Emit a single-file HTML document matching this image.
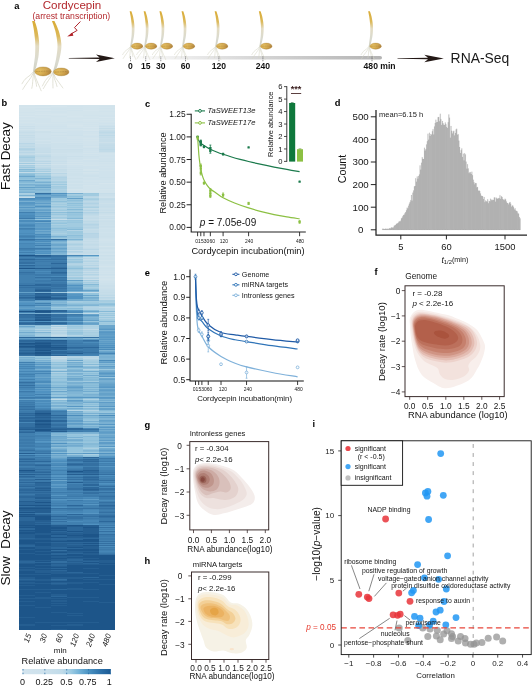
<!DOCTYPE html>
<html><head><meta charset="utf-8"><title>Figure</title>
<style>
html,body{margin:0;padding:0;background:#fff;}
body{width:532px;height:685px;overflow:hidden;}
svg{display:block;font-family:"Liberation Sans",Arial,Helvetica,sans-serif;}
</style></head><body>
<svg width="532" height="685" viewBox="0 0 532 685">
<rect width="532" height="685" fill="#fff"/>
<g shape-rendering="crispEdges">
<path fill="#d5e5ed" d="M51.33 106h15.97v1h-15.97zM19.4 107h15.97v1h-15.97zM35.37 107h15.97v1h-15.97zM35.37 110h15.97v1h-15.97zM83.27 110h15.97v1h-15.97zM35.37 114h15.97v1h-15.97zM51.33 114h15.97v1h-15.97zM19.4 116h15.97v1h-15.97zM67.3 116h15.97v1h-15.97zM99.23 117h15.97v1h-15.97zM83.27 119h15.97v1h-15.97zM67.3 125h15.97v1h-15.97zM83.27 127h15.97v1h-15.97zM83.27 130h15.97v1h-15.97zM99.23 183h15.97v1h-15.97z"/>
<path fill="#d3e4ec" d="M19.4 105h15.97v1h-15.97zM51.33 105h15.97v1h-15.97zM67.3 105h15.97v1h-15.97zM83.27 105h15.97v1h-15.97zM99.23 105h15.97v1h-15.97zM19.4 106h15.97v1h-15.97zM35.37 106h15.97v1h-15.97zM83.27 106h15.97v1h-15.97zM51.33 107h15.97v1h-15.97zM67.3 107h15.97v1h-15.97zM83.27 107h15.97v1h-15.97zM99.23 107h15.97v1h-15.97zM19.4 108h15.97v1h-15.97zM83.27 108h15.97v1h-15.97zM19.4 109h15.97v1h-15.97zM35.37 109h15.97v1h-15.97zM67.3 109h15.97v1h-15.97zM83.27 109h15.97v1h-15.97zM99.23 109h15.97v1h-15.97zM19.4 110h15.97v1h-15.97zM51.33 110h15.97v1h-15.97zM99.23 110h15.97v1h-15.97zM19.4 111h15.97v1h-15.97zM67.3 111h15.97v1h-15.97zM83.27 111h15.97v1h-15.97zM35.37 112h15.97v1h-15.97zM67.3 112h15.97v1h-15.97zM83.27 112h15.97v1h-15.97zM99.23 112h15.97v1h-15.97zM19.4 113h15.97v1h-15.97zM35.37 113h15.97v1h-15.97zM51.33 113h15.97v1h-15.97zM67.3 113h15.97v1h-15.97zM83.27 113h15.97v1h-15.97zM99.23 113h15.97v1h-15.97zM19.4 114h15.97v1h-15.97zM67.3 114h15.97v1h-15.97zM83.27 114h15.97v1h-15.97zM99.23 114h15.97v1h-15.97zM51.33 115h15.97v1h-15.97zM67.3 115h15.97v1h-15.97zM35.37 116h15.97v1h-15.97zM83.27 116h15.97v1h-15.97zM35.37 117h15.97v1h-15.97zM51.33 117h15.97v1h-15.97zM67.3 117h15.97v1h-15.97zM83.27 117h15.97v1h-15.97zM51.33 118h15.97v1h-15.97zM19.4 119h15.97v1h-15.97zM51.33 119h15.97v1h-15.97zM67.3 119h15.97v1h-15.97zM99.23 119h15.97v1h-15.97zM51.33 120h15.97v1h-15.97zM67.3 120h15.97v1h-15.97zM83.27 120h15.97v1h-15.97zM51.33 121h15.97v1h-15.97zM83.27 121h15.97v1h-15.97zM99.23 121h15.97v1h-15.97zM19.4 122h15.97v1h-15.97zM35.37 123h15.97v1h-15.97zM51.33 123h15.97v1h-15.97zM67.3 123h15.97v1h-15.97zM83.27 123h15.97v1h-15.97zM67.3 124h15.97v1h-15.97zM83.27 125h15.97v1h-15.97zM67.3 126h15.97v1h-15.97zM67.3 127h15.97v1h-15.97zM35.37 129h15.97v1h-15.97zM51.33 129h15.97v1h-15.97zM67.3 129h15.97v1h-15.97zM83.27 129h15.97v1h-15.97zM35.37 130h15.97v1h-15.97zM83.27 134h15.97v1h-15.97zM83.27 138h15.97v1h-15.97zM83.27 140h15.97v1h-15.97zM83.27 146h15.97v1h-15.97zM83.27 153h15.97v1h-15.97zM83.27 159h15.97v1h-15.97zM67.3 162h15.97v1h-15.97zM67.3 164h15.97v1h-15.97zM83.27 165h15.97v1h-15.97zM83.27 169h15.97v1h-15.97zM83.27 170h15.97v1h-15.97zM83.27 172h15.97v1h-15.97zM83.27 185h15.97v1h-15.97zM67.3 189h15.97v1h-15.97zM99.23 189h15.97v1h-15.97zM83.27 190h15.97v1h-15.97zM83.27 191h15.97v1h-15.97zM99.23 246h15.97v1h-15.97zM99.23 266h15.97v1h-15.97zM99.23 276h15.97v1h-15.97zM99.23 279h15.97v1h-15.97z"/>
<path fill="#d1e3ec" d="M35.37 105h15.97v1h-15.97zM67.3 106h15.97v1h-15.97zM99.23 106h15.97v1h-15.97zM35.37 108h15.97v1h-15.97zM51.33 108h15.97v1h-15.97zM67.3 108h15.97v1h-15.97zM99.23 108h15.97v1h-15.97zM51.33 109h15.97v1h-15.97zM67.3 110h15.97v1h-15.97zM35.37 111h15.97v1h-15.97zM51.33 111h15.97v1h-15.97zM99.23 111h15.97v1h-15.97zM19.4 112h15.97v1h-15.97zM51.33 112h15.97v1h-15.97zM19.4 115h15.97v1h-15.97zM35.37 115h15.97v1h-15.97zM83.27 115h15.97v1h-15.97zM99.23 115h15.97v1h-15.97zM51.33 116h15.97v1h-15.97zM99.23 116h15.97v1h-15.97zM19.4 117h15.97v1h-15.97zM19.4 118h15.97v1h-15.97zM35.37 118h15.97v1h-15.97zM67.3 118h15.97v1h-15.97zM83.27 118h15.97v1h-15.97zM99.23 118h15.97v1h-15.97zM35.37 119h15.97v1h-15.97zM19.4 120h15.97v1h-15.97zM35.37 120h15.97v1h-15.97zM99.23 120h15.97v1h-15.97zM19.4 121h15.97v1h-15.97zM35.37 121h15.97v1h-15.97zM67.3 121h15.97v1h-15.97zM35.37 122h15.97v1h-15.97zM51.33 122h15.97v1h-15.97zM67.3 122h15.97v1h-15.97zM83.27 122h15.97v1h-15.97zM99.23 122h15.97v1h-15.97zM19.4 123h15.97v1h-15.97zM35.37 124h15.97v1h-15.97zM51.33 124h15.97v1h-15.97zM83.27 124h15.97v1h-15.97zM99.23 124h15.97v1h-15.97zM19.4 125h15.97v1h-15.97zM35.37 125h15.97v1h-15.97zM51.33 125h15.97v1h-15.97zM83.27 126h15.97v1h-15.97zM35.37 127h15.97v1h-15.97zM51.33 127h15.97v1h-15.97zM83.27 128h15.97v1h-15.97zM19.4 129h15.97v1h-15.97zM51.33 130h15.97v1h-15.97zM67.3 130h15.97v1h-15.97zM51.33 131h15.97v1h-15.97zM83.27 132h15.97v1h-15.97zM51.33 133h15.97v1h-15.97zM83.27 133h15.97v1h-15.97zM51.33 134h15.97v1h-15.97zM83.27 135h15.97v1h-15.97zM51.33 136h15.97v1h-15.97zM67.3 136h15.97v1h-15.97zM67.3 137h15.97v1h-15.97zM83.27 137h15.97v1h-15.97zM67.3 138h15.97v1h-15.97zM83.27 139h15.97v1h-15.97zM35.37 140h15.97v1h-15.97zM67.3 140h15.97v1h-15.97zM83.27 141h15.97v1h-15.97zM51.33 142h15.97v1h-15.97zM67.3 142h15.97v1h-15.97zM83.27 142h15.97v1h-15.97zM83.27 143h15.97v1h-15.97zM83.27 144h15.97v1h-15.97zM83.27 147h15.97v1h-15.97zM83.27 151h15.97v1h-15.97zM99.23 153h15.97v1h-15.97zM99.23 154h15.97v1h-15.97zM83.27 155h15.97v1h-15.97zM99.23 157h15.97v1h-15.97zM67.3 160h15.97v1h-15.97zM83.27 162h15.97v1h-15.97zM99.23 162h15.97v1h-15.97zM83.27 163h15.97v1h-15.97zM51.33 164h15.97v1h-15.97zM83.27 164h15.97v1h-15.97zM99.23 164h15.97v1h-15.97zM99.23 165h15.97v1h-15.97zM99.23 167h15.97v1h-15.97zM99.23 170h15.97v1h-15.97zM83.27 173h15.97v1h-15.97zM83.27 177h15.97v1h-15.97zM83.27 180h15.97v1h-15.97zM99.23 180h15.97v1h-15.97zM83.27 181h15.97v1h-15.97zM99.23 181h15.97v1h-15.97zM67.3 183h15.97v1h-15.97zM83.27 183h15.97v1h-15.97zM99.23 184h15.97v1h-15.97zM99.23 185h15.97v1h-15.97zM83.27 186h15.97v1h-15.97zM99.23 186h15.97v1h-15.97zM83.27 187h15.97v1h-15.97zM99.23 187h15.97v1h-15.97zM83.27 188h15.97v1h-15.97zM83.27 189h15.97v1h-15.97zM67.3 190h15.97v1h-15.97zM99.23 190h15.97v1h-15.97zM99.23 191h15.97v1h-15.97zM67.3 192h15.97v1h-15.97zM83.27 192h15.97v1h-15.97zM99.23 192h15.97v1h-15.97zM99.23 239h15.97v1h-15.97zM99.23 240h15.97v1h-15.97zM99.23 250h15.97v1h-15.97zM99.23 254h15.97v1h-15.97zM99.23 260h15.97v1h-15.97zM99.23 271h15.97v1h-15.97zM99.23 273h15.97v1h-15.97zM99.23 278h15.97v1h-15.97zM99.23 280h15.97v1h-15.97z"/>
<path fill="#cfe2ec" d="M99.23 123h15.97v1h-15.97zM19.4 124h15.97v1h-15.97zM35.37 126h15.97v1h-15.97zM51.33 126h15.97v1h-15.97zM19.4 127h15.97v1h-15.97zM35.37 128h15.97v1h-15.97zM51.33 128h15.97v1h-15.97zM67.3 128h15.97v1h-15.97zM67.3 131h15.97v1h-15.97zM83.27 131h15.97v1h-15.97zM67.3 132h15.97v1h-15.97zM35.37 133h15.97v1h-15.97zM67.3 133h15.97v1h-15.97zM35.37 134h15.97v1h-15.97zM67.3 134h15.97v1h-15.97zM35.37 135h15.97v1h-15.97zM35.37 136h15.97v1h-15.97zM83.27 136h15.97v1h-15.97zM35.37 137h15.97v1h-15.97zM51.33 137h15.97v1h-15.97zM51.33 138h15.97v1h-15.97zM51.33 139h15.97v1h-15.97zM67.3 139h15.97v1h-15.97zM51.33 140h15.97v1h-15.97zM51.33 141h15.97v1h-15.97zM67.3 141h15.97v1h-15.97zM35.37 143h15.97v1h-15.97zM67.3 144h15.97v1h-15.97zM83.27 145h15.97v1h-15.97zM51.33 148h15.97v1h-15.97zM67.3 148h15.97v1h-15.97zM83.27 149h15.97v1h-15.97zM83.27 150h15.97v1h-15.97zM83.27 152h15.97v1h-15.97zM51.33 153h15.97v1h-15.97zM67.3 153h15.97v1h-15.97zM67.3 154h15.97v1h-15.97zM83.27 154h15.97v1h-15.97zM67.3 155h15.97v1h-15.97zM99.23 155h15.97v1h-15.97zM99.23 156h15.97v1h-15.97zM67.3 157h15.97v1h-15.97zM83.27 157h15.97v1h-15.97zM83.27 158h15.97v1h-15.97zM99.23 158h15.97v1h-15.97zM67.3 159h15.97v1h-15.97zM99.23 159h15.97v1h-15.97zM83.27 160h15.97v1h-15.97zM99.23 160h15.97v1h-15.97zM67.3 161h15.97v1h-15.97zM83.27 161h15.97v1h-15.97zM67.3 163h15.97v1h-15.97zM99.23 163h15.97v1h-15.97zM67.3 165h15.97v1h-15.97zM67.3 166h15.97v1h-15.97zM83.27 166h15.97v1h-15.97zM99.23 166h15.97v1h-15.97zM83.27 167h15.97v1h-15.97zM67.3 168h15.97v1h-15.97zM83.27 168h15.97v1h-15.97zM99.23 168h15.97v1h-15.97zM99.23 169h15.97v1h-15.97zM67.3 170h15.97v1h-15.97zM99.23 171h15.97v1h-15.97zM67.3 172h15.97v1h-15.97zM99.23 172h15.97v1h-15.97zM99.23 173h15.97v1h-15.97zM83.27 174h15.97v1h-15.97zM99.23 174h15.97v1h-15.97zM99.23 175h15.97v1h-15.97zM67.3 176h15.97v1h-15.97zM99.23 176h15.97v1h-15.97zM67.3 177h15.97v1h-15.97zM83.27 178h15.97v1h-15.97zM99.23 178h15.97v1h-15.97zM67.3 179h15.97v1h-15.97zM83.27 179h15.97v1h-15.97zM99.23 179h15.97v1h-15.97zM67.3 180h15.97v1h-15.97zM83.27 182h15.97v1h-15.97zM99.23 182h15.97v1h-15.97zM83.27 184h15.97v1h-15.97zM67.3 186h15.97v1h-15.97zM99.23 188h15.97v1h-15.97zM67.3 191h15.97v1h-15.97zM99.23 197h15.97v1h-15.97zM99.23 215h15.97v1h-15.97zM99.23 219h15.97v1h-15.97zM99.23 228h15.97v1h-15.97zM99.23 232h15.97v1h-15.97zM99.23 238h15.97v1h-15.97zM99.23 241h15.97v1h-15.97zM99.23 242h15.97v1h-15.97zM99.23 249h15.97v1h-15.97zM99.23 251h15.97v1h-15.97zM99.23 253h15.97v1h-15.97zM99.23 257h15.97v1h-15.97zM99.23 264h15.97v1h-15.97zM99.23 265h15.97v1h-15.97zM99.23 267h15.97v1h-15.97zM99.23 269h15.97v1h-15.97zM99.23 270h15.97v1h-15.97zM99.23 272h15.97v1h-15.97zM99.23 275h15.97v1h-15.97zM99.23 277h15.97v1h-15.97zM99.23 281h15.97v1h-15.97zM99.23 282h15.97v1h-15.97z"/>
<path fill="#cde1eb" d="M99.23 125h15.97v1h-15.97zM99.23 127h15.97v1h-15.97zM19.4 130h15.97v1h-15.97zM51.33 132h15.97v1h-15.97zM51.33 135h15.97v1h-15.97zM67.3 135h15.97v1h-15.97zM35.37 138h15.97v1h-15.97zM35.37 139h15.97v1h-15.97zM35.37 141h15.97v1h-15.97zM51.33 143h15.97v1h-15.97zM67.3 143h15.97v1h-15.97zM51.33 144h15.97v1h-15.97zM51.33 145h15.97v1h-15.97zM51.33 146h15.97v1h-15.97zM67.3 146h15.97v1h-15.97zM51.33 147h15.97v1h-15.97zM67.3 147h15.97v1h-15.97zM83.27 148h15.97v1h-15.97zM67.3 152h15.97v1h-15.97zM35.37 153h15.97v1h-15.97zM51.33 154h15.97v1h-15.97zM51.33 155h15.97v1h-15.97zM83.27 156h15.97v1h-15.97zM67.3 158h15.97v1h-15.97zM99.23 161h15.97v1h-15.97zM51.33 162h15.97v1h-15.97zM35.37 164h15.97v1h-15.97zM67.3 167h15.97v1h-15.97zM67.3 171h15.97v1h-15.97zM83.27 171h15.97v1h-15.97zM67.3 173h15.97v1h-15.97zM67.3 174h15.97v1h-15.97zM67.3 175h15.97v1h-15.97zM83.27 175h15.97v1h-15.97zM83.27 176h15.97v1h-15.97zM99.23 177h15.97v1h-15.97zM67.3 181h15.97v1h-15.97zM67.3 182h15.97v1h-15.97zM67.3 184h15.97v1h-15.97zM67.3 185h15.97v1h-15.97zM67.3 187h15.97v1h-15.97zM67.3 188h15.97v1h-15.97zM99.23 196h15.97v1h-15.97zM99.23 225h15.97v1h-15.97zM99.23 229h15.97v1h-15.97zM99.23 230h15.97v1h-15.97zM99.23 231h15.97v1h-15.97zM99.23 233h15.97v1h-15.97zM99.23 234h15.97v1h-15.97zM99.23 235h15.97v1h-15.97zM99.23 237h15.97v1h-15.97zM99.23 243h15.97v1h-15.97zM99.23 244h15.97v1h-15.97zM99.23 245h15.97v1h-15.97zM99.23 247h15.97v1h-15.97zM99.23 252h15.97v1h-15.97zM99.23 256h15.97v1h-15.97zM99.23 258h15.97v1h-15.97zM99.23 259h15.97v1h-15.97zM99.23 261h15.97v1h-15.97zM99.23 262h15.97v1h-15.97zM99.23 263h15.97v1h-15.97zM99.23 268h15.97v1h-15.97zM99.23 274h15.97v1h-15.97zM99.23 283h15.97v1h-15.97zM99.23 284h15.97v1h-15.97z"/>
<path fill="#cce0ea" d="M99.23 129h15.97v1h-15.97zM35.37 131h15.97v1h-15.97zM35.37 132h15.97v1h-15.97zM19.4 134h15.97v1h-15.97zM35.37 142h15.97v1h-15.97zM99.23 142h15.97v1h-15.97zM67.3 145h15.97v1h-15.97zM51.33 150h15.97v1h-15.97zM67.3 150h15.97v1h-15.97zM51.33 151h15.97v1h-15.97zM67.3 151h15.97v1h-15.97zM51.33 152h15.97v1h-15.97zM99.23 152h15.97v1h-15.97zM51.33 159h15.97v1h-15.97zM51.33 160h15.97v1h-15.97zM51.33 168h15.97v1h-15.97zM67.3 169h15.97v1h-15.97zM67.3 178h15.97v1h-15.97zM99.23 203h15.97v1h-15.97zM99.23 208h15.97v1h-15.97zM99.23 211h15.97v1h-15.97zM99.23 214h15.97v1h-15.97zM99.23 217h15.97v1h-15.97zM99.23 220h15.97v1h-15.97zM99.23 222h15.97v1h-15.97zM99.23 223h15.97v1h-15.97zM99.23 224h15.97v1h-15.97zM99.23 227h15.97v1h-15.97zM99.23 236h15.97v1h-15.97zM99.23 248h15.97v1h-15.97zM99.23 287h15.97v1h-15.97z"/>
<path fill="#cadfea" d="M19.4 126h15.97v1h-15.97zM19.4 128h15.97v1h-15.97zM19.4 131h15.97v1h-15.97zM19.4 133h15.97v1h-15.97zM19.4 136h15.97v1h-15.97zM19.4 138h15.97v1h-15.97zM19.4 140h15.97v1h-15.97zM35.37 144h15.97v1h-15.97zM35.37 145h15.97v1h-15.97zM35.37 146h15.97v1h-15.97zM51.33 149h15.97v1h-15.97zM67.3 149h15.97v1h-15.97zM51.33 156h15.97v1h-15.97zM67.3 156h15.97v1h-15.97zM51.33 157h15.97v1h-15.97zM51.33 158h15.97v1h-15.97zM51.33 163h15.97v1h-15.97zM51.33 165h15.97v1h-15.97zM51.33 166h15.97v1h-15.97zM51.33 172h15.97v1h-15.97zM99.23 194h15.97v1h-15.97zM99.23 195h15.97v1h-15.97zM99.23 209h15.97v1h-15.97zM99.23 213h15.97v1h-15.97zM99.23 216h15.97v1h-15.97zM99.23 221h15.97v1h-15.97zM99.23 226h15.97v1h-15.97zM83.27 254h15.97v1h-15.97zM99.23 255h15.97v1h-15.97zM83.27 276h15.97v1h-15.97zM83.27 279h15.97v1h-15.97zM99.23 285h15.97v1h-15.97zM99.23 286h15.97v1h-15.97zM99.23 288h15.97v1h-15.97z"/>
<path fill="#c8deea" d="M99.23 126h15.97v1h-15.97zM99.23 138h15.97v1h-15.97zM19.4 139h15.97v1h-15.97zM19.4 141h15.97v1h-15.97zM19.4 142h15.97v1h-15.97zM35.37 147h15.97v1h-15.97zM35.37 159h15.97v1h-15.97zM51.33 161h15.97v1h-15.97zM35.37 162h15.97v1h-15.97zM19.4 164h15.97v1h-15.97zM51.33 167h15.97v1h-15.97zM99.23 201h15.97v1h-15.97zM99.23 202h15.97v1h-15.97zM99.23 204h15.97v1h-15.97zM99.23 205h15.97v1h-15.97zM99.23 207h15.97v1h-15.97zM99.23 210h15.97v1h-15.97zM99.23 218h15.97v1h-15.97zM51.33 219h15.97v1h-15.97zM83.27 219h15.97v1h-15.97zM83.27 240h15.97v1h-15.97zM83.27 242h15.97v1h-15.97zM83.27 246h15.97v1h-15.97zM99.23 289h15.97v1h-15.97z"/>
<path fill="#c6dde9" d="M99.23 130h15.97v1h-15.97zM19.4 132h15.97v1h-15.97zM99.23 134h15.97v1h-15.97zM99.23 136h15.97v1h-15.97zM19.4 137h15.97v1h-15.97zM99.23 139h15.97v1h-15.97zM99.23 140h15.97v1h-15.97zM99.23 141h15.97v1h-15.97zM99.23 143h15.97v1h-15.97zM35.37 148h15.97v1h-15.97zM35.37 149h15.97v1h-15.97zM35.37 150h15.97v1h-15.97zM35.37 151h15.97v1h-15.97zM35.37 154h15.97v1h-15.97zM51.33 170h15.97v1h-15.97zM51.33 171h15.97v1h-15.97zM99.23 193h15.97v1h-15.97zM99.23 200h15.97v1h-15.97zM99.23 206h15.97v1h-15.97zM83.27 216h15.97v1h-15.97zM83.27 229h15.97v1h-15.97zM83.27 243h15.97v1h-15.97zM83.27 247h15.97v1h-15.97zM67.3 250h15.97v1h-15.97zM83.27 250h15.97v1h-15.97zM67.3 253h15.97v1h-15.97zM83.27 271h15.97v1h-15.97zM99.23 290h15.97v1h-15.97zM99.23 291h15.97v1h-15.97zM99.23 293h15.97v1h-15.97zM99.23 296h15.97v1h-15.97zM51.33 356h15.97v1h-15.97z"/>
<path fill="#c4dce8" d="M99.23 128h15.97v1h-15.97zM19.4 135h15.97v1h-15.97zM99.23 137h15.97v1h-15.97zM99.23 144h15.97v1h-15.97zM99.23 146h15.97v1h-15.97zM19.4 147h15.97v1h-15.97zM35.37 152h15.97v1h-15.97zM19.4 154h15.97v1h-15.97zM35.37 157h15.97v1h-15.97zM35.37 158h15.97v1h-15.97zM35.37 160h15.97v1h-15.97zM19.4 162h15.97v1h-15.97zM35.37 166h15.97v1h-15.97zM51.33 169h15.97v1h-15.97zM35.37 172h15.97v1h-15.97zM51.33 174h15.97v1h-15.97zM99.23 198h15.97v1h-15.97zM83.27 208h15.97v1h-15.97zM99.23 212h15.97v1h-15.97zM83.27 217h15.97v1h-15.97zM83.27 220h15.97v1h-15.97zM83.27 239h15.97v1h-15.97zM83.27 241h15.97v1h-15.97zM83.27 245h15.97v1h-15.97zM83.27 251h15.97v1h-15.97zM83.27 253h15.97v1h-15.97zM67.3 254h15.97v1h-15.97zM83.27 257h15.97v1h-15.97zM83.27 259h15.97v1h-15.97zM83.27 273h15.97v1h-15.97zM83.27 292h15.97v1h-15.97zM99.23 292h15.97v1h-15.97zM99.23 294h15.97v1h-15.97zM51.33 327h15.97v1h-15.97zM51.33 329h15.97v1h-15.97zM51.33 335h15.97v1h-15.97zM51.33 358h15.97v1h-15.97z"/>
<path fill="#c2dbe8" d="M99.23 131h15.97v1h-15.97zM99.23 133h15.97v1h-15.97zM19.4 144h15.97v1h-15.97zM19.4 145h15.97v1h-15.97zM99.23 145h15.97v1h-15.97zM99.23 147h15.97v1h-15.97zM99.23 148h15.97v1h-15.97zM99.23 150h15.97v1h-15.97zM19.4 151h15.97v1h-15.97zM99.23 151h15.97v1h-15.97zM19.4 153h15.97v1h-15.97zM35.37 155h15.97v1h-15.97zM19.4 172h15.97v1h-15.97zM51.33 175h15.97v1h-15.97zM19.4 197h15.97v1h-15.97zM99.23 199h15.97v1h-15.97zM83.27 211h15.97v1h-15.97zM83.27 215h15.97v1h-15.97zM83.27 218h15.97v1h-15.97zM83.27 222h15.97v1h-15.97zM83.27 230h15.97v1h-15.97zM83.27 231h15.97v1h-15.97zM83.27 232h15.97v1h-15.97zM83.27 238h15.97v1h-15.97zM83.27 244h15.97v1h-15.97zM83.27 248h15.97v1h-15.97zM83.27 252h15.97v1h-15.97zM83.27 262h15.97v1h-15.97zM83.27 264h15.97v1h-15.97zM83.27 266h15.97v1h-15.97zM67.3 292h15.97v1h-15.97zM99.23 299h15.97v1h-15.97zM83.27 313h15.97v1h-15.97zM51.33 325h15.97v1h-15.97zM83.27 329h15.97v1h-15.97zM51.33 399h15.97v1h-15.97z"/>
<path fill="#bdd9e7" d="M99.23 132h15.97v1h-15.97zM99.23 135h15.97v1h-15.97zM19.4 146h15.97v1h-15.97zM99.23 149h15.97v1h-15.97zM35.37 156h15.97v1h-15.97zM35.37 165h15.97v1h-15.97zM35.37 167h15.97v1h-15.97zM83.27 197h15.97v1h-15.97zM83.27 201h15.97v1h-15.97zM83.27 205h15.97v1h-15.97zM83.27 209h15.97v1h-15.97zM83.27 214h15.97v1h-15.97zM83.27 221h15.97v1h-15.97zM83.27 223h15.97v1h-15.97zM83.27 226h15.97v1h-15.97zM83.27 228h15.97v1h-15.97zM67.3 241h15.97v1h-15.97zM67.3 242h15.97v1h-15.97zM67.3 246h15.97v1h-15.97zM83.27 260h15.97v1h-15.97zM83.27 263h15.97v1h-15.97zM83.27 275h15.97v1h-15.97zM83.27 277h15.97v1h-15.97zM99.23 295h15.97v1h-15.97zM99.23 298h15.97v1h-15.97zM99.23 307h15.97v1h-15.97zM51.33 331h15.97v1h-15.97zM51.33 334h15.97v1h-15.97zM51.33 357h15.97v1h-15.97zM83.27 358h15.97v1h-15.97z"/>
<path fill="#b9d6e6" d="M19.4 143h15.97v1h-15.97zM19.4 150h15.97v1h-15.97zM19.4 152h15.97v1h-15.97zM35.37 161h15.97v1h-15.97zM35.37 163h15.97v1h-15.97zM35.37 168h15.97v1h-15.97zM35.37 170h15.97v1h-15.97zM51.33 173h15.97v1h-15.97zM51.33 176h15.97v1h-15.97zM51.33 180h15.97v1h-15.97zM83.27 196h15.97v1h-15.97zM83.27 202h15.97v1h-15.97zM83.27 204h15.97v1h-15.97zM83.27 213h15.97v1h-15.97zM83.27 225h15.97v1h-15.97zM83.27 227h15.97v1h-15.97zM83.27 234h15.97v1h-15.97zM83.27 235h15.97v1h-15.97zM83.27 236h15.97v1h-15.97zM83.27 237h15.97v1h-15.97zM83.27 249h15.97v1h-15.97zM67.3 252h15.97v1h-15.97zM83.27 258h15.97v1h-15.97zM83.27 267h15.97v1h-15.97zM83.27 269h15.97v1h-15.97zM83.27 270h15.97v1h-15.97zM83.27 272h15.97v1h-15.97zM67.3 276h15.97v1h-15.97zM83.27 278h15.97v1h-15.97zM83.27 281h15.97v1h-15.97zM99.23 297h15.97v1h-15.97zM51.33 328h15.97v1h-15.97zM83.27 356h15.97v1h-15.97zM83.27 357h15.97v1h-15.97zM51.33 359h15.97v1h-15.97z"/>
<path fill="#b4d4e5" d="M19.4 148h15.97v1h-15.97zM19.4 155h15.97v1h-15.97zM19.4 168h15.97v1h-15.97zM51.33 178h15.97v1h-15.97zM51.33 179h15.97v1h-15.97zM51.33 183h15.97v1h-15.97zM51.33 185h15.97v1h-15.97zM83.27 200h15.97v1h-15.97zM83.27 206h15.97v1h-15.97zM83.27 210h15.97v1h-15.97zM51.33 211h15.97v1h-15.97zM67.3 219h15.97v1h-15.97zM83.27 224h15.97v1h-15.97zM67.3 230h15.97v1h-15.97zM83.27 233h15.97v1h-15.97zM67.3 243h15.97v1h-15.97zM67.3 245h15.97v1h-15.97zM67.3 247h15.97v1h-15.97zM67.3 248h15.97v1h-15.97zM83.27 261h15.97v1h-15.97zM67.3 264h15.97v1h-15.97zM83.27 265h15.97v1h-15.97zM83.27 274h15.97v1h-15.97zM83.27 307h15.97v1h-15.97zM99.23 312h15.97v1h-15.97zM99.23 316h15.97v1h-15.97zM35.37 329h15.97v1h-15.97zM67.3 329h15.97v1h-15.97zM51.33 332h15.97v1h-15.97zM51.33 333h15.97v1h-15.97zM67.3 335h15.97v1h-15.97zM51.33 336h15.97v1h-15.97zM67.3 357h15.97v1h-15.97zM51.33 369h15.97v1h-15.97zM83.27 369h15.97v1h-15.97zM67.3 410h15.97v1h-15.97zM83.27 410h15.97v1h-15.97z"/>
<path fill="#b0d2e4" d="M19.4 149h15.97v1h-15.97zM19.4 158h15.97v1h-15.97zM19.4 159h15.97v1h-15.97zM19.4 160h15.97v1h-15.97zM19.4 161h15.97v1h-15.97zM19.4 166h15.97v1h-15.97zM51.33 177h15.97v1h-15.97zM51.33 189h15.97v1h-15.97zM83.27 203h15.97v1h-15.97zM51.33 208h15.97v1h-15.97zM83.27 212h15.97v1h-15.97zM51.33 216h15.97v1h-15.97zM67.3 249h15.97v1h-15.97zM67.3 251h15.97v1h-15.97zM67.3 258h15.97v1h-15.97zM67.3 263h15.97v1h-15.97zM67.3 271h15.97v1h-15.97zM67.3 279h15.97v1h-15.97zM83.27 283h15.97v1h-15.97zM83.27 308h15.97v1h-15.97zM99.23 308h15.97v1h-15.97zM83.27 309h15.97v1h-15.97zM99.23 309h15.97v1h-15.97zM99.23 310h15.97v1h-15.97zM99.23 318h15.97v1h-15.97zM83.27 325h15.97v1h-15.97zM83.27 327h15.97v1h-15.97zM83.27 328h15.97v1h-15.97zM51.33 330h15.97v1h-15.97zM35.37 331h15.97v1h-15.97zM83.27 331h15.97v1h-15.97zM67.3 356h15.97v1h-15.97zM83.27 359h15.97v1h-15.97zM51.33 360h15.97v1h-15.97zM51.33 361h15.97v1h-15.97zM83.27 365h15.97v1h-15.97zM51.33 372h15.97v1h-15.97zM83.27 399h15.97v1h-15.97z"/>
<path fill="#abd0e2" d="M19.4 156h15.97v1h-15.97zM35.37 169h15.97v1h-15.97zM35.37 174h15.97v1h-15.97zM51.33 181h15.97v1h-15.97zM51.33 190h15.97v1h-15.97zM51.33 191h15.97v1h-15.97zM19.4 193h15.97v1h-15.97zM19.4 196h15.97v1h-15.97zM83.27 198h15.97v1h-15.97zM51.33 203h15.97v1h-15.97zM51.33 205h15.97v1h-15.97zM83.27 207h15.97v1h-15.97zM51.33 215h15.97v1h-15.97zM51.33 224h15.97v1h-15.97zM51.33 233h15.97v1h-15.97zM67.3 244h15.97v1h-15.97zM67.3 265h15.97v1h-15.97zM67.3 270h15.97v1h-15.97zM67.3 273h15.97v1h-15.97zM67.3 274h15.97v1h-15.97zM83.27 287h15.97v1h-15.97zM99.23 302h15.97v1h-15.97zM83.27 306h15.97v1h-15.97zM99.23 306h15.97v1h-15.97zM99.23 314h15.97v1h-15.97zM83.27 326h15.97v1h-15.97zM83.27 330h15.97v1h-15.97zM83.27 333h15.97v1h-15.97zM83.27 334h15.97v1h-15.97zM83.27 363h15.97v1h-15.97zM83.27 448h15.97v1h-15.97zM83.27 454h15.97v1h-15.97z"/>
<path fill="#a6cde1" d="M19.4 165h15.97v1h-15.97zM35.37 171h15.97v1h-15.97zM51.33 182h15.97v1h-15.97zM51.33 187h15.97v1h-15.97zM51.33 188h15.97v1h-15.97zM51.33 192h15.97v1h-15.97zM19.4 194h15.97v1h-15.97zM67.3 194h15.97v1h-15.97zM83.27 199h15.97v1h-15.97zM67.3 208h15.97v1h-15.97zM51.33 209h15.97v1h-15.97zM67.3 211h15.97v1h-15.97zM51.33 213h15.97v1h-15.97zM51.33 218h15.97v1h-15.97zM51.33 221h15.97v1h-15.97zM67.3 260h15.97v1h-15.97zM83.27 268h15.97v1h-15.97zM67.3 275h15.97v1h-15.97zM83.27 282h15.97v1h-15.97zM99.23 300h15.97v1h-15.97zM67.3 301h15.97v1h-15.97zM99.23 301h15.97v1h-15.97zM67.3 325h15.97v1h-15.97zM51.33 326h15.97v1h-15.97zM83.27 332h15.97v1h-15.97zM35.37 335h15.97v1h-15.97zM83.27 335h15.97v1h-15.97zM83.27 336h15.97v1h-15.97zM67.3 358h15.97v1h-15.97zM83.27 360h15.97v1h-15.97zM83.27 407h15.97v1h-15.97z"/>
<path fill="#a2cbe0" d="M19.4 157h15.97v1h-15.97zM19.4 163h15.97v1h-15.97zM35.37 175h15.97v1h-15.97zM35.37 180h15.97v1h-15.97zM51.33 186h15.97v1h-15.97zM83.27 194h15.97v1h-15.97zM83.27 195h15.97v1h-15.97zM51.33 200h15.97v1h-15.97zM51.33 202h15.97v1h-15.97zM67.3 202h15.97v1h-15.97zM51.33 204h15.97v1h-15.97zM67.3 206h15.97v1h-15.97zM51.33 207h15.97v1h-15.97zM51.33 217h15.97v1h-15.97zM67.3 223h15.97v1h-15.97zM67.3 224h15.97v1h-15.97zM67.3 225h15.97v1h-15.97zM51.33 226h15.97v1h-15.97zM67.3 226h15.97v1h-15.97zM51.33 231h15.97v1h-15.97zM51.33 232h15.97v1h-15.97zM51.33 234h15.97v1h-15.97zM67.3 234h15.97v1h-15.97zM67.3 238h15.97v1h-15.97zM67.3 240h15.97v1h-15.97zM67.3 257h15.97v1h-15.97zM67.3 266h15.97v1h-15.97zM67.3 269h15.97v1h-15.97zM67.3 272h15.97v1h-15.97zM67.3 277h15.97v1h-15.97zM83.27 280h15.97v1h-15.97zM83.27 288h15.97v1h-15.97zM51.33 292h15.97v1h-15.97zM83.27 301h15.97v1h-15.97zM67.3 302h15.97v1h-15.97zM67.3 307h15.97v1h-15.97zM99.23 319h15.97v1h-15.97zM99.23 322h15.97v1h-15.97zM99.23 324h15.97v1h-15.97zM67.3 327h15.97v1h-15.97zM67.3 328h15.97v1h-15.97zM67.3 331h15.97v1h-15.97zM35.37 334h15.97v1h-15.97zM67.3 336h15.97v1h-15.97zM67.3 359h15.97v1h-15.97zM67.3 361h15.97v1h-15.97zM83.27 361h15.97v1h-15.97zM51.33 363h15.97v1h-15.97zM51.33 365h15.97v1h-15.97zM51.33 370h15.97v1h-15.97zM51.33 374h15.97v1h-15.97zM51.33 375h15.97v1h-15.97zM83.27 381h15.97v1h-15.97zM83.27 434h15.97v1h-15.97zM83.27 435h15.97v1h-15.97z"/>
<path fill="#9dc9df" d="M19.4 167h15.97v1h-15.97zM19.4 170h15.97v1h-15.97zM35.37 173h15.97v1h-15.97zM35.37 177h15.97v1h-15.97zM51.33 184h15.97v1h-15.97zM83.27 193h15.97v1h-15.97zM67.3 195h15.97v1h-15.97zM51.33 198h15.97v1h-15.97zM51.33 199h15.97v1h-15.97zM67.3 204h15.97v1h-15.97zM51.33 210h15.97v1h-15.97zM67.3 210h15.97v1h-15.97zM67.3 216h15.97v1h-15.97zM67.3 221h15.97v1h-15.97zM51.33 222h15.97v1h-15.97zM51.33 225h15.97v1h-15.97zM51.33 227h15.97v1h-15.97zM67.3 231h15.97v1h-15.97zM67.3 232h15.97v1h-15.97zM67.3 233h15.97v1h-15.97zM51.33 238h15.97v1h-15.97zM67.3 267h15.97v1h-15.97zM67.3 278h15.97v1h-15.97zM83.27 285h15.97v1h-15.97zM83.27 286h15.97v1h-15.97zM83.27 302h15.97v1h-15.97zM51.33 307h15.97v1h-15.97zM67.3 313h15.97v1h-15.97zM99.23 313h15.97v1h-15.97zM99.23 317h15.97v1h-15.97zM99.23 320h15.97v1h-15.97zM99.23 323h15.97v1h-15.97zM35.37 326h15.97v1h-15.97zM35.37 328h15.97v1h-15.97zM19.4 329h15.97v1h-15.97zM67.3 330h15.97v1h-15.97zM35.37 333h15.97v1h-15.97zM67.3 334h15.97v1h-15.97zM83.27 362h15.97v1h-15.97zM99.23 369h15.97v1h-15.97zM83.27 370h15.97v1h-15.97zM83.27 372h15.97v1h-15.97zM51.33 377h15.97v1h-15.97zM51.33 398h15.97v1h-15.97zM83.27 405h15.97v1h-15.97zM83.27 411h15.97v1h-15.97zM83.27 414h15.97v1h-15.97zM83.27 447h15.97v1h-15.97zM67.3 452h15.97v1h-15.97zM83.27 452h15.97v1h-15.97zM67.3 454h15.97v1h-15.97z"/>
<path fill="#99c6de" d="M35.37 179h15.97v1h-15.97zM67.3 197h15.97v1h-15.97zM67.3 199h15.97v1h-15.97zM67.3 201h15.97v1h-15.97zM51.33 206h15.97v1h-15.97zM67.3 213h15.97v1h-15.97zM51.33 214h15.97v1h-15.97zM67.3 215h15.97v1h-15.97zM67.3 217h15.97v1h-15.97zM51.33 220h15.97v1h-15.97zM67.3 220h15.97v1h-15.97zM67.3 222h15.97v1h-15.97zM67.3 227h15.97v1h-15.97zM67.3 228h15.97v1h-15.97zM51.33 229h15.97v1h-15.97zM51.33 230h15.97v1h-15.97zM51.33 235h15.97v1h-15.97zM67.3 236h15.97v1h-15.97zM67.3 237h15.97v1h-15.97zM67.3 259h15.97v1h-15.97zM67.3 261h15.97v1h-15.97zM67.3 262h15.97v1h-15.97zM83.27 303h15.97v1h-15.97zM99.23 305h15.97v1h-15.97zM99.23 315h15.97v1h-15.97zM83.27 321h15.97v1h-15.97zM67.3 326h15.97v1h-15.97zM35.37 327h15.97v1h-15.97zM19.4 328h15.97v1h-15.97zM35.37 330h15.97v1h-15.97zM67.3 333h15.97v1h-15.97zM19.4 356h15.97v1h-15.97zM35.37 359h15.97v1h-15.97zM51.33 366h15.97v1h-15.97zM67.3 372h15.97v1h-15.97zM83.27 374h15.97v1h-15.97zM83.27 376h15.97v1h-15.97zM99.23 377h15.97v1h-15.97zM51.33 379h15.97v1h-15.97zM51.33 380h15.97v1h-15.97zM67.3 381h15.97v1h-15.97zM51.33 390h15.97v1h-15.97zM51.33 395h15.97v1h-15.97zM83.27 403h15.97v1h-15.97zM83.27 412h15.97v1h-15.97zM99.23 412h15.97v1h-15.97zM83.27 420h15.97v1h-15.97zM67.3 434h15.97v1h-15.97zM67.3 438h15.97v1h-15.97zM83.27 442h15.97v1h-15.97z"/>
<path fill="#94c4dd" d="M19.4 173h15.97v1h-15.97zM35.37 176h15.97v1h-15.97zM19.4 179h15.97v1h-15.97zM19.4 183h15.97v1h-15.97zM35.37 183h15.97v1h-15.97zM67.3 205h15.97v1h-15.97zM67.3 207h15.97v1h-15.97zM67.3 214h15.97v1h-15.97zM35.37 219h15.97v1h-15.97zM51.33 223h15.97v1h-15.97zM83.27 256h15.97v1h-15.97zM83.27 293h15.97v1h-15.97zM83.27 294h15.97v1h-15.97zM83.27 296h15.97v1h-15.97zM67.3 303h15.97v1h-15.97zM99.23 303h15.97v1h-15.97zM67.3 306h15.97v1h-15.97zM51.33 309h15.97v1h-15.97zM67.3 309h15.97v1h-15.97zM83.27 312h15.97v1h-15.97zM19.4 331h15.97v1h-15.97zM67.3 332h15.97v1h-15.97zM35.37 336h15.97v1h-15.97zM35.37 356h15.97v1h-15.97zM35.37 357h15.97v1h-15.97zM51.33 362h15.97v1h-15.97zM67.3 368h15.97v1h-15.97zM51.33 373h15.97v1h-15.97zM67.3 375h15.97v1h-15.97zM51.33 376h15.97v1h-15.97zM51.33 383h15.97v1h-15.97zM51.33 384h15.97v1h-15.97zM83.27 388h15.97v1h-15.97zM83.27 392h15.97v1h-15.97zM51.33 393h15.97v1h-15.97zM51.33 396h15.97v1h-15.97zM51.33 401h15.97v1h-15.97zM51.33 404h15.97v1h-15.97zM51.33 407h15.97v1h-15.97zM67.3 407h15.97v1h-15.97zM99.23 411h15.97v1h-15.97zM83.27 419h15.97v1h-15.97zM83.27 422h15.97v1h-15.97zM67.3 435h15.97v1h-15.97zM67.3 436h15.97v1h-15.97zM83.27 437h15.97v1h-15.97zM83.27 438h15.97v1h-15.97zM83.27 439h15.97v1h-15.97zM83.27 441h15.97v1h-15.97zM67.3 442h15.97v1h-15.97zM67.3 447h15.97v1h-15.97zM99.23 447h15.97v1h-15.97zM67.3 448h15.97v1h-15.97zM67.3 449h15.97v1h-15.97zM83.27 449h15.97v1h-15.97zM67.3 450h15.97v1h-15.97zM67.3 451h15.97v1h-15.97zM83.27 455h15.97v1h-15.97z"/>
<path fill="#8dbfda" d="M19.4 171h15.97v1h-15.97zM19.4 174h15.97v1h-15.97zM19.4 177h15.97v1h-15.97zM19.4 178h15.97v1h-15.97zM35.37 181h15.97v1h-15.97zM19.4 186h15.97v1h-15.97zM35.37 188h15.97v1h-15.97zM19.4 190h15.97v1h-15.97zM35.37 191h15.97v1h-15.97zM67.3 196h15.97v1h-15.97zM67.3 200h15.97v1h-15.97zM51.33 201h15.97v1h-15.97zM67.3 203h15.97v1h-15.97zM51.33 212h15.97v1h-15.97zM51.33 228h15.97v1h-15.97zM67.3 235h15.97v1h-15.97zM51.33 237h15.97v1h-15.97zM67.3 268h15.97v1h-15.97zM67.3 281h15.97v1h-15.97zM83.27 289h15.97v1h-15.97zM99.23 304h15.97v1h-15.97zM51.33 308h15.97v1h-15.97zM19.4 325h15.97v1h-15.97zM19.4 330h15.97v1h-15.97zM19.4 333h15.97v1h-15.97zM19.4 334h15.97v1h-15.97zM51.33 364h15.97v1h-15.97zM83.27 366h15.97v1h-15.97zM51.33 367h15.97v1h-15.97zM51.33 368h15.97v1h-15.97zM83.27 368h15.97v1h-15.97zM83.27 373h15.97v1h-15.97zM51.33 378h15.97v1h-15.97zM83.27 378h15.97v1h-15.97zM51.33 381h15.97v1h-15.97zM83.27 384h15.97v1h-15.97zM51.33 386h15.97v1h-15.97zM83.27 386h15.97v1h-15.97zM51.33 388h15.97v1h-15.97zM83.27 390h15.97v1h-15.97zM51.33 392h15.97v1h-15.97zM83.27 393h15.97v1h-15.97zM83.27 398h15.97v1h-15.97zM67.3 399h15.97v1h-15.97zM83.27 400h15.97v1h-15.97zM83.27 404h15.97v1h-15.97zM83.27 409h15.97v1h-15.97zM83.27 418h15.97v1h-15.97zM83.27 425h15.97v1h-15.97zM83.27 440h15.97v1h-15.97zM83.27 445h15.97v1h-15.97zM83.27 446h15.97v1h-15.97zM51.33 447h15.97v1h-15.97zM83.27 456h15.97v1h-15.97z"/>
<path fill="#86bad7" d="M19.4 169h15.97v1h-15.97zM19.4 175h15.97v1h-15.97zM19.4 182h15.97v1h-15.97zM19.4 188h15.97v1h-15.97zM35.37 190h15.97v1h-15.97zM19.4 191h15.97v1h-15.97zM35.37 192h15.97v1h-15.97zM67.3 209h15.97v1h-15.97zM67.3 212h15.97v1h-15.97zM67.3 218h15.97v1h-15.97zM67.3 229h15.97v1h-15.97zM51.33 242h15.97v1h-15.97zM51.33 254h15.97v1h-15.97zM67.3 282h15.97v1h-15.97zM83.27 284h15.97v1h-15.97zM83.27 299h15.97v1h-15.97zM51.33 301h15.97v1h-15.97zM51.33 303h15.97v1h-15.97zM67.3 304h15.97v1h-15.97zM83.27 304h15.97v1h-15.97zM51.33 306h15.97v1h-15.97zM67.3 308h15.97v1h-15.97zM83.27 310h15.97v1h-15.97zM99.23 311h15.97v1h-15.97zM51.33 313h15.97v1h-15.97zM35.37 325h15.97v1h-15.97zM19.4 327h15.97v1h-15.97zM83.27 338h15.97v1h-15.97zM19.4 358h15.97v1h-15.97zM35.37 358h15.97v1h-15.97zM35.37 361h15.97v1h-15.97zM67.3 363h15.97v1h-15.97zM99.23 363h15.97v1h-15.97zM83.27 364h15.97v1h-15.97zM67.3 365h15.97v1h-15.97zM99.23 365h15.97v1h-15.97zM67.3 369h15.97v1h-15.97zM67.3 377h15.97v1h-15.97zM83.27 377h15.97v1h-15.97zM83.27 379h15.97v1h-15.97zM83.27 380h15.97v1h-15.97zM51.33 382h15.97v1h-15.97zM83.27 383h15.97v1h-15.97zM67.3 384h15.97v1h-15.97zM51.33 385h15.97v1h-15.97zM83.27 385h15.97v1h-15.97zM51.33 389h15.97v1h-15.97zM67.3 394h15.97v1h-15.97zM67.3 395h15.97v1h-15.97zM51.33 400h15.97v1h-15.97zM83.27 401h15.97v1h-15.97zM99.23 401h15.97v1h-15.97zM67.3 404h15.97v1h-15.97zM67.3 405h15.97v1h-15.97zM99.23 407h15.97v1h-15.97zM83.27 408h15.97v1h-15.97zM67.3 409h15.97v1h-15.97zM99.23 410h15.97v1h-15.97zM99.23 414h15.97v1h-15.97zM83.27 416h15.97v1h-15.97zM99.23 425h15.97v1h-15.97zM51.33 435h15.97v1h-15.97zM83.27 436h15.97v1h-15.97zM67.3 441h15.97v1h-15.97zM83.27 443h15.97v1h-15.97zM83.27 444h15.97v1h-15.97zM83.27 451h15.97v1h-15.97zM51.33 452h15.97v1h-15.97z"/>
<path fill="#80b5d5" d="M35.37 178h15.97v1h-15.97zM19.4 181h15.97v1h-15.97zM35.37 184h15.97v1h-15.97zM19.4 185h15.97v1h-15.97zM35.37 186h15.97v1h-15.97zM35.37 189h15.97v1h-15.97zM35.37 208h15.97v1h-15.97zM67.3 239h15.97v1h-15.97zM51.33 246h15.97v1h-15.97zM51.33 250h15.97v1h-15.97zM51.33 253h15.97v1h-15.97zM83.27 291h15.97v1h-15.97zM51.33 302h15.97v1h-15.97zM83.27 305h15.97v1h-15.97zM83.27 317h15.97v1h-15.97zM99.23 321h15.97v1h-15.97zM35.37 332h15.97v1h-15.97zM19.4 335h15.97v1h-15.97zM19.4 336h15.97v1h-15.97zM99.23 350h15.97v1h-15.97zM99.23 355h15.97v1h-15.97zM99.23 358h15.97v1h-15.97zM99.23 359h15.97v1h-15.97zM83.27 367h15.97v1h-15.97zM67.3 374h15.97v1h-15.97zM83.27 389h15.97v1h-15.97zM67.3 392h15.97v1h-15.97zM67.3 393h15.97v1h-15.97zM51.33 394h15.97v1h-15.97zM83.27 395h15.97v1h-15.97zM83.27 396h15.97v1h-15.97zM99.23 399h15.97v1h-15.97zM51.33 402h15.97v1h-15.97zM67.3 402h15.97v1h-15.97zM51.33 403h15.97v1h-15.97zM51.33 408h15.97v1h-15.97zM67.3 412h15.97v1h-15.97zM83.27 417h15.97v1h-15.97zM99.23 418h15.97v1h-15.97zM99.23 419h15.97v1h-15.97zM83.27 427h15.97v1h-15.97zM51.33 433h15.97v1h-15.97zM67.3 433h15.97v1h-15.97zM83.27 433h15.97v1h-15.97zM51.33 434h15.97v1h-15.97zM51.33 441h15.97v1h-15.97zM99.23 441h15.97v1h-15.97zM51.33 442h15.97v1h-15.97zM51.33 444h15.97v1h-15.97zM67.3 444h15.97v1h-15.97zM51.33 448h15.97v1h-15.97zM83.27 450h15.97v1h-15.97zM99.23 452h15.97v1h-15.97zM51.33 454h15.97v1h-15.97z"/>
<path fill="#79b0d2" d="M35.37 182h15.97v1h-15.97zM19.4 184h15.97v1h-15.97zM19.4 189h15.97v1h-15.97zM19.4 192h15.97v1h-15.97zM67.3 193h15.97v1h-15.97zM19.4 195h15.97v1h-15.97zM51.33 197h15.97v1h-15.97zM19.4 201h15.97v1h-15.97zM35.37 204h15.97v1h-15.97zM35.37 211h15.97v1h-15.97zM35.37 217h15.97v1h-15.97zM51.33 236h15.97v1h-15.97zM51.33 241h15.97v1h-15.97zM51.33 243h15.97v1h-15.97zM51.33 247h15.97v1h-15.97zM51.33 252h15.97v1h-15.97zM67.3 256h15.97v1h-15.97zM67.3 283h15.97v1h-15.97zM67.3 291h15.97v1h-15.97zM35.37 292h15.97v1h-15.97zM83.27 298h15.97v1h-15.97zM83.27 300h15.97v1h-15.97zM67.3 305h15.97v1h-15.97zM35.37 313h15.97v1h-15.97zM83.27 318h15.97v1h-15.97zM83.27 319h15.97v1h-15.97zM99.23 330h15.97v1h-15.97zM99.23 356h15.97v1h-15.97zM19.4 357h15.97v1h-15.97zM99.23 357h15.97v1h-15.97zM19.4 359h15.97v1h-15.97zM19.4 360h15.97v1h-15.97zM35.37 360h15.97v1h-15.97zM67.3 364h15.97v1h-15.97zM35.37 365h15.97v1h-15.97zM67.3 367h15.97v1h-15.97zM35.37 369h15.97v1h-15.97zM67.3 370h15.97v1h-15.97zM99.23 370h15.97v1h-15.97zM51.33 371h15.97v1h-15.97zM67.3 371h15.97v1h-15.97zM67.3 373h15.97v1h-15.97zM67.3 376h15.97v1h-15.97zM67.3 380h15.97v1h-15.97zM99.23 380h15.97v1h-15.97zM99.23 381h15.97v1h-15.97zM67.3 382h15.97v1h-15.97zM67.3 383h15.97v1h-15.97zM67.3 385h15.97v1h-15.97zM83.27 387h15.97v1h-15.97zM99.23 388h15.97v1h-15.97zM67.3 389h15.97v1h-15.97zM67.3 391h15.97v1h-15.97zM83.27 394h15.97v1h-15.97zM67.3 396h15.97v1h-15.97zM99.23 396h15.97v1h-15.97zM67.3 398h15.97v1h-15.97zM67.3 403h15.97v1h-15.97zM51.33 405h15.97v1h-15.97zM51.33 406h15.97v1h-15.97zM83.27 406h15.97v1h-15.97zM83.27 413h15.97v1h-15.97zM67.3 414h15.97v1h-15.97zM99.23 416h15.97v1h-15.97zM83.27 421h15.97v1h-15.97zM67.3 422h15.97v1h-15.97zM99.23 422h15.97v1h-15.97zM83.27 423h15.97v1h-15.97zM99.23 423h15.97v1h-15.97zM67.3 425h15.97v1h-15.97zM83.27 426h15.97v1h-15.97zM99.23 428h15.97v1h-15.97zM67.3 432h15.97v1h-15.97zM83.27 432h15.97v1h-15.97zM99.23 434h15.97v1h-15.97zM67.3 437h15.97v1h-15.97zM51.33 439h15.97v1h-15.97zM67.3 439h15.97v1h-15.97zM99.23 445h15.97v1h-15.97zM67.3 446h15.97v1h-15.97zM67.3 455h15.97v1h-15.97zM51.33 456h15.97v1h-15.97z"/>
<path fill="#72abcf" d="M35.37 185h15.97v1h-15.97zM51.33 194h15.97v1h-15.97zM51.33 196h15.97v1h-15.97zM35.37 202h15.97v1h-15.97zM19.4 206h15.97v1h-15.97zM19.4 208h15.97v1h-15.97zM35.37 222h15.97v1h-15.97zM35.37 230h15.97v1h-15.97zM51.33 249h15.97v1h-15.97zM35.37 254h15.97v1h-15.97zM83.27 297h15.97v1h-15.97zM67.3 299h15.97v1h-15.97zM67.3 300h15.97v1h-15.97zM35.37 301h15.97v1h-15.97zM51.33 305h15.97v1h-15.97zM35.37 306h15.97v1h-15.97zM19.4 313h15.97v1h-15.97zM83.27 316h15.97v1h-15.97zM83.27 322h15.97v1h-15.97zM19.4 332h15.97v1h-15.97zM51.33 338h15.97v1h-15.97zM19.4 361h15.97v1h-15.97zM67.3 362h15.97v1h-15.97zM35.37 363h15.97v1h-15.97zM99.23 364h15.97v1h-15.97zM99.23 367h15.97v1h-15.97zM99.23 368h15.97v1h-15.97zM83.27 371h15.97v1h-15.97zM99.23 371h15.97v1h-15.97zM83.27 375h15.97v1h-15.97zM99.23 375h15.97v1h-15.97zM67.3 379h15.97v1h-15.97zM83.27 382h15.97v1h-15.97zM99.23 382h15.97v1h-15.97zM67.3 388h15.97v1h-15.97zM83.27 391h15.97v1h-15.97zM99.23 392h15.97v1h-15.97zM99.23 400h15.97v1h-15.97zM83.27 402h15.97v1h-15.97zM99.23 403h15.97v1h-15.97zM99.23 404h15.97v1h-15.97zM99.23 405h15.97v1h-15.97zM67.3 408h15.97v1h-15.97zM51.33 409h15.97v1h-15.97zM67.3 411h15.97v1h-15.97zM67.3 416h15.97v1h-15.97zM67.3 417h15.97v1h-15.97zM67.3 419h15.97v1h-15.97zM67.3 426h15.97v1h-15.97zM99.23 430h15.97v1h-15.97zM51.33 437h15.97v1h-15.97zM51.33 438h15.97v1h-15.97zM99.23 438h15.97v1h-15.97zM99.23 439h15.97v1h-15.97zM67.3 440h15.97v1h-15.97zM67.3 443h15.97v1h-15.97zM99.23 444h15.97v1h-15.97zM51.33 445h15.97v1h-15.97zM67.3 445h15.97v1h-15.97zM99.23 448h15.97v1h-15.97zM51.33 449h15.97v1h-15.97zM99.23 454h15.97v1h-15.97zM67.3 456h15.97v1h-15.97zM51.33 457h15.97v1h-15.97z"/>
<path fill="#6ba6cc" d="M19.4 176h15.97v1h-15.97zM19.4 180h15.97v1h-15.97zM35.37 187h15.97v1h-15.97zM35.37 195h15.97v1h-15.97zM35.37 196h15.97v1h-15.97zM35.37 201h15.97v1h-15.97zM35.37 205h15.97v1h-15.97zM35.37 207h15.97v1h-15.97zM35.37 209h15.97v1h-15.97zM35.37 215h15.97v1h-15.97zM19.4 219h15.97v1h-15.97zM35.37 232h15.97v1h-15.97zM35.37 233h15.97v1h-15.97zM35.37 238h15.97v1h-15.97zM51.33 244h15.97v1h-15.97zM51.33 245h15.97v1h-15.97zM51.33 251h15.97v1h-15.97zM67.3 284h15.97v1h-15.97zM83.27 295h15.97v1h-15.97zM51.33 304h15.97v1h-15.97zM83.27 311h15.97v1h-15.97zM83.27 314h15.97v1h-15.97zM67.3 321h15.97v1h-15.97zM83.27 324h15.97v1h-15.97zM99.23 325h15.97v1h-15.97zM19.4 326h15.97v1h-15.97zM99.23 326h15.97v1h-15.97zM99.23 327h15.97v1h-15.97zM35.37 338h15.97v1h-15.97zM67.3 338h15.97v1h-15.97zM99.23 340h15.97v1h-15.97zM99.23 351h15.97v1h-15.97zM67.3 360h15.97v1h-15.97zM99.23 361h15.97v1h-15.97zM35.37 377h15.97v1h-15.97zM67.3 378h15.97v1h-15.97zM99.23 378h15.97v1h-15.97zM35.37 383h15.97v1h-15.97zM99.23 383h15.97v1h-15.97zM67.3 386h15.97v1h-15.97zM51.33 387h15.97v1h-15.97zM67.3 390h15.97v1h-15.97zM51.33 391h15.97v1h-15.97zM99.23 391h15.97v1h-15.97zM99.23 395h15.97v1h-15.97zM35.37 399h15.97v1h-15.97zM67.3 401h15.97v1h-15.97zM67.3 413h15.97v1h-15.97zM99.23 413h15.97v1h-15.97zM83.27 415h15.97v1h-15.97zM99.23 417h15.97v1h-15.97zM67.3 418h15.97v1h-15.97zM99.23 421h15.97v1h-15.97zM83.27 424h15.97v1h-15.97zM99.23 426h15.97v1h-15.97zM99.23 435h15.97v1h-15.97zM51.33 436h15.97v1h-15.97zM99.23 436h15.97v1h-15.97zM51.33 440h15.97v1h-15.97zM99.23 449h15.97v1h-15.97zM99.23 451h15.97v1h-15.97zM51.33 455h15.97v1h-15.97zM99.23 455h15.97v1h-15.97zM51.33 480h15.97v1h-15.97z"/>
<path fill="#64a1c9" d="M19.4 187h15.97v1h-15.97zM51.33 195h15.97v1h-15.97zM67.3 198h15.97v1h-15.97zM35.37 200h15.97v1h-15.97zM19.4 205h15.97v1h-15.97zM19.4 209h15.97v1h-15.97zM35.37 210h15.97v1h-15.97zM19.4 211h15.97v1h-15.97zM35.37 213h15.97v1h-15.97zM35.37 214h15.97v1h-15.97zM35.37 227h15.97v1h-15.97zM35.37 242h15.97v1h-15.97zM51.33 248h15.97v1h-15.97zM67.3 280h15.97v1h-15.97zM67.3 286h15.97v1h-15.97zM83.27 290h15.97v1h-15.97zM19.4 292h15.97v1h-15.97zM67.3 293h15.97v1h-15.97zM51.33 300h15.97v1h-15.97zM35.37 302h15.97v1h-15.97zM35.37 307h15.97v1h-15.97zM19.4 308h15.97v1h-15.97zM35.37 309h15.97v1h-15.97zM83.27 320h15.97v1h-15.97zM51.33 321h15.97v1h-15.97zM83.27 323h15.97v1h-15.97zM99.23 328h15.97v1h-15.97zM99.23 335h15.97v1h-15.97zM99.23 338h15.97v1h-15.97zM99.23 342h15.97v1h-15.97zM99.23 344h15.97v1h-15.97zM99.23 348h15.97v1h-15.97zM99.23 354h15.97v1h-15.97zM67.3 366h15.97v1h-15.97zM99.23 372h15.97v1h-15.97zM99.23 374h15.97v1h-15.97zM99.23 379h15.97v1h-15.97zM99.23 384h15.97v1h-15.97zM99.23 385h15.97v1h-15.97zM35.37 388h15.97v1h-15.97zM99.23 389h15.97v1h-15.97zM99.23 393h15.97v1h-15.97zM99.23 394h15.97v1h-15.97zM19.4 399h15.97v1h-15.97zM99.23 408h15.97v1h-15.97zM99.23 409h15.97v1h-15.97zM99.23 420h15.97v1h-15.97zM67.3 424h15.97v1h-15.97zM67.3 427h15.97v1h-15.97zM99.23 431h15.97v1h-15.97zM51.33 432h15.97v1h-15.97zM99.23 433h15.97v1h-15.97zM51.33 446h15.97v1h-15.97zM51.33 450h15.97v1h-15.97zM51.33 451h15.97v1h-15.97zM67.3 453h15.97v1h-15.97zM51.33 458h15.97v1h-15.97z"/>
<path fill="#5e9cc7" d="M19.4 200h15.97v1h-15.97zM35.37 203h15.97v1h-15.97zM19.4 204h15.97v1h-15.97zM19.4 210h15.97v1h-15.97zM19.4 222h15.97v1h-15.97zM35.37 224h15.97v1h-15.97zM35.37 225h15.97v1h-15.97zM35.37 226h15.97v1h-15.97zM35.37 231h15.97v1h-15.97zM51.33 240h15.97v1h-15.97zM35.37 246h15.97v1h-15.97zM35.37 250h15.97v1h-15.97zM67.3 287h15.97v1h-15.97zM67.3 289h15.97v1h-15.97zM35.37 300h15.97v1h-15.97zM19.4 301h15.97v1h-15.97zM19.4 307h15.97v1h-15.97zM35.37 308h15.97v1h-15.97zM99.23 331h15.97v1h-15.97zM99.23 333h15.97v1h-15.97zM99.23 334h15.97v1h-15.97zM99.23 336h15.97v1h-15.97zM19.4 338h15.97v1h-15.97zM51.33 339h15.97v1h-15.97zM67.3 339h15.97v1h-15.97zM83.27 339h15.97v1h-15.97zM99.23 341h15.97v1h-15.97zM99.23 346h15.97v1h-15.97zM99.23 352h15.97v1h-15.97zM35.37 362h15.97v1h-15.97zM99.23 362h15.97v1h-15.97zM19.4 363h15.97v1h-15.97zM99.23 366h15.97v1h-15.97zM35.37 368h15.97v1h-15.97zM35.37 370h15.97v1h-15.97zM35.37 372h15.97v1h-15.97zM35.37 374h15.97v1h-15.97zM35.37 375h15.97v1h-15.97zM35.37 376h15.97v1h-15.97zM35.37 379h15.97v1h-15.97zM35.37 384h15.97v1h-15.97zM99.23 386h15.97v1h-15.97zM67.3 387h15.97v1h-15.97zM35.37 390h15.97v1h-15.97zM99.23 390h15.97v1h-15.97zM51.33 397h15.97v1h-15.97zM99.23 398h15.97v1h-15.97zM67.3 400h15.97v1h-15.97zM99.23 402h15.97v1h-15.97zM67.3 420h15.97v1h-15.97zM67.3 421h15.97v1h-15.97zM67.3 423h15.97v1h-15.97zM99.23 429h15.97v1h-15.97zM99.23 432h15.97v1h-15.97zM99.23 437h15.97v1h-15.97zM99.23 440h15.97v1h-15.97zM99.23 442h15.97v1h-15.97zM99.23 443h15.97v1h-15.97zM99.23 450h15.97v1h-15.97zM51.33 462h15.97v1h-15.97zM51.33 466h15.97v1h-15.97zM51.33 484h15.97v1h-15.97zM51.33 487h15.97v1h-15.97zM83.27 499h15.97v1h-15.97z"/>
<path fill="#5797c4" d="M35.37 199h15.97v1h-15.97zM19.4 202h15.97v1h-15.97zM19.4 203h15.97v1h-15.97zM19.4 207h15.97v1h-15.97zM35.37 212h15.97v1h-15.97zM35.37 216h15.97v1h-15.97zM35.37 218h15.97v1h-15.97zM19.4 223h15.97v1h-15.97zM35.37 223h15.97v1h-15.97zM19.4 227h15.97v1h-15.97zM35.37 228h15.97v1h-15.97zM35.37 229h15.97v1h-15.97zM35.37 235h15.97v1h-15.97zM35.37 237h15.97v1h-15.97zM35.37 244h15.97v1h-15.97zM35.37 247h15.97v1h-15.97zM35.37 252h15.97v1h-15.97zM83.27 255h15.97v1h-15.97zM67.3 288h15.97v1h-15.97zM67.3 290h15.97v1h-15.97zM67.3 294h15.97v1h-15.97zM67.3 295h15.97v1h-15.97zM19.4 302h15.97v1h-15.97zM35.37 304h15.97v1h-15.97zM19.4 306h15.97v1h-15.97zM67.3 310h15.97v1h-15.97zM83.27 315h15.97v1h-15.97zM67.3 317h15.97v1h-15.97zM67.3 324h15.97v1h-15.97zM99.23 329h15.97v1h-15.97zM99.23 332h15.97v1h-15.97zM99.23 337h15.97v1h-15.97zM99.23 339h15.97v1h-15.97zM99.23 343h15.97v1h-15.97zM35.37 364h15.97v1h-15.97zM19.4 365h15.97v1h-15.97zM35.37 366h15.97v1h-15.97zM35.37 367h15.97v1h-15.97zM19.4 369h15.97v1h-15.97zM19.4 370h15.97v1h-15.97zM19.4 372h15.97v1h-15.97zM99.23 373h15.97v1h-15.97zM99.23 376h15.97v1h-15.97zM19.4 377h15.97v1h-15.97zM35.37 378h15.97v1h-15.97zM35.37 380h15.97v1h-15.97zM35.37 386h15.97v1h-15.97zM99.23 387h15.97v1h-15.97zM35.37 393h15.97v1h-15.97zM35.37 395h15.97v1h-15.97zM67.3 397h15.97v1h-15.97zM83.27 397h15.97v1h-15.97zM99.23 397h15.97v1h-15.97zM35.37 402h15.97v1h-15.97zM67.3 406h15.97v1h-15.97zM99.23 406h15.97v1h-15.97zM99.23 424h15.97v1h-15.97zM99.23 427h15.97v1h-15.97zM35.37 441h15.97v1h-15.97zM99.23 446h15.97v1h-15.97zM83.27 453h15.97v1h-15.97zM35.37 454h15.97v1h-15.97zM99.23 456h15.97v1h-15.97zM51.33 459h15.97v1h-15.97zM99.23 466h15.97v1h-15.97zM51.33 475h15.97v1h-15.97zM51.33 476h15.97v1h-15.97zM51.33 478h15.97v1h-15.97zM51.33 485h15.97v1h-15.97zM51.33 495h15.97v1h-15.97zM51.33 499h15.97v1h-15.97zM67.3 499h15.97v1h-15.97zM83.27 504h15.97v1h-15.97zM83.27 513h15.97v1h-15.97z"/>
<path fill="#5092c1" d="M51.33 193h15.97v1h-15.97zM35.37 194h15.97v1h-15.97zM35.37 198h15.97v1h-15.97zM19.4 199h15.97v1h-15.97zM35.37 206h15.97v1h-15.97zM19.4 213h15.97v1h-15.97zM19.4 214h15.97v1h-15.97zM35.37 220h15.97v1h-15.97zM19.4 230h15.97v1h-15.97zM19.4 231h15.97v1h-15.97zM19.4 232h15.97v1h-15.97zM19.4 234h15.97v1h-15.97zM19.4 238h15.97v1h-15.97zM35.37 240h15.97v1h-15.97zM19.4 241h15.97v1h-15.97zM19.4 242h15.97v1h-15.97zM19.4 251h15.97v1h-15.97zM35.37 251h15.97v1h-15.97zM19.4 253h15.97v1h-15.97zM35.37 253h15.97v1h-15.97zM67.3 285h15.97v1h-15.97zM67.3 296h15.97v1h-15.97zM67.3 297h15.97v1h-15.97zM67.3 298h15.97v1h-15.97zM19.4 303h15.97v1h-15.97zM19.4 304h15.97v1h-15.97zM19.4 309h15.97v1h-15.97zM19.4 321h15.97v1h-15.97zM35.37 321h15.97v1h-15.97zM99.23 345h15.97v1h-15.97zM19.4 367h15.97v1h-15.97zM19.4 378h15.97v1h-15.97zM19.4 380h15.97v1h-15.97zM35.37 385h15.97v1h-15.97zM35.37 389h15.97v1h-15.97zM19.4 390h15.97v1h-15.97zM35.37 391h15.97v1h-15.97zM35.37 392h15.97v1h-15.97zM19.4 396h15.97v1h-15.97zM35.37 404h15.97v1h-15.97zM35.37 407h15.97v1h-15.97zM35.37 442h15.97v1h-15.97zM51.33 443h15.97v1h-15.97zM35.37 448h15.97v1h-15.97zM51.33 453h15.97v1h-15.97zM99.23 453h15.97v1h-15.97zM19.4 454h15.97v1h-15.97zM99.23 457h15.97v1h-15.97zM51.33 460h15.97v1h-15.97zM99.23 462h15.97v1h-15.97zM51.33 468h15.97v1h-15.97zM99.23 475h15.97v1h-15.97zM99.23 483h15.97v1h-15.97zM51.33 507h15.97v1h-15.97zM67.3 513h15.97v1h-15.97zM83.27 524h15.97v1h-15.97z"/>
<path fill="#4b8cbb" d="M35.37 197h15.97v1h-15.97zM19.4 198h15.97v1h-15.97zM19.4 215h15.97v1h-15.97zM19.4 216h15.97v1h-15.97zM19.4 217h15.97v1h-15.97zM19.4 220h15.97v1h-15.97zM19.4 221h15.97v1h-15.97zM19.4 224h15.97v1h-15.97zM19.4 226h15.97v1h-15.97zM19.4 233h15.97v1h-15.97zM35.37 234h15.97v1h-15.97zM35.37 236h15.97v1h-15.97zM35.37 241h15.97v1h-15.97zM35.37 243h15.97v1h-15.97zM19.4 244h15.97v1h-15.97zM19.4 245h15.97v1h-15.97zM19.4 246h15.97v1h-15.97zM19.4 247h15.97v1h-15.97zM35.37 271h15.97v1h-15.97zM51.33 276h15.97v1h-15.97zM67.3 311h15.97v1h-15.97zM67.3 312h15.97v1h-15.97zM67.3 318h15.97v1h-15.97zM67.3 319h15.97v1h-15.97zM67.3 322h15.97v1h-15.97zM35.37 339h15.97v1h-15.97zM83.27 342h15.97v1h-15.97zM99.23 347h15.97v1h-15.97zM99.23 349h15.97v1h-15.97zM99.23 360h15.97v1h-15.97zM19.4 373h15.97v1h-15.97zM19.4 375h15.97v1h-15.97zM35.37 381h15.97v1h-15.97zM35.37 382h15.97v1h-15.97zM19.4 393h15.97v1h-15.97zM19.4 394h15.97v1h-15.97zM35.37 396h15.97v1h-15.97zM35.37 400h15.97v1h-15.97zM35.37 401h15.97v1h-15.97zM35.37 403h15.97v1h-15.97zM35.37 405h15.97v1h-15.97zM51.33 410h15.97v1h-15.97zM67.3 415h15.97v1h-15.97zM99.23 415h15.97v1h-15.97zM35.37 434h15.97v1h-15.97zM35.37 439h15.97v1h-15.97zM35.37 449h15.97v1h-15.97zM35.37 456h15.97v1h-15.97zM51.33 461h15.97v1h-15.97zM51.33 463h15.97v1h-15.97zM51.33 464h15.97v1h-15.97zM51.33 467h15.97v1h-15.97zM51.33 469h15.97v1h-15.97zM51.33 471h15.97v1h-15.97zM51.33 472h15.97v1h-15.97zM51.33 473h15.97v1h-15.97zM51.33 481h15.97v1h-15.97zM51.33 482h15.97v1h-15.97zM51.33 483h15.97v1h-15.97zM99.23 484h15.97v1h-15.97zM51.33 486h15.97v1h-15.97zM51.33 491h15.97v1h-15.97zM83.27 497h15.97v1h-15.97zM51.33 500h15.97v1h-15.97zM99.23 500h15.97v1h-15.97zM83.27 502h15.97v1h-15.97zM83.27 510h15.97v1h-15.97zM51.33 511h15.97v1h-15.97zM83.27 511h15.97v1h-15.97zM83.27 512h15.97v1h-15.97zM51.33 513h15.97v1h-15.97zM67.3 521h15.97v1h-15.97zM99.23 526h15.97v1h-15.97zM99.23 530h15.97v1h-15.97zM99.23 546h15.97v1h-15.97z"/>
<path fill="#4686b6" d="M35.37 221h15.97v1h-15.97zM19.4 225h15.97v1h-15.97zM19.4 229h15.97v1h-15.97zM19.4 235h15.97v1h-15.97zM19.4 237h15.97v1h-15.97zM19.4 243h15.97v1h-15.97zM35.37 249h15.97v1h-15.97zM19.4 250h15.97v1h-15.97zM19.4 254h15.97v1h-15.97zM67.3 255h15.97v1h-15.97zM35.37 258h15.97v1h-15.97zM19.4 264h15.97v1h-15.97zM19.4 269h15.97v1h-15.97zM35.37 273h15.97v1h-15.97zM35.37 276h15.97v1h-15.97zM35.37 279h15.97v1h-15.97zM35.37 305h15.97v1h-15.97zM67.3 316h15.97v1h-15.97zM67.3 323h15.97v1h-15.97zM19.4 339h15.97v1h-15.97zM99.23 353h15.97v1h-15.97zM67.3 355h15.97v1h-15.97zM83.27 355h15.97v1h-15.97zM19.4 364h15.97v1h-15.97zM19.4 366h15.97v1h-15.97zM19.4 368h15.97v1h-15.97zM19.4 371h15.97v1h-15.97zM35.37 371h15.97v1h-15.97zM35.37 373h15.97v1h-15.97zM19.4 376h15.97v1h-15.97zM19.4 381h15.97v1h-15.97zM19.4 384h15.97v1h-15.97zM19.4 386h15.97v1h-15.97zM35.37 387h15.97v1h-15.97zM19.4 388h15.97v1h-15.97zM19.4 389h15.97v1h-15.97zM19.4 392h15.97v1h-15.97zM19.4 395h15.97v1h-15.97zM35.37 398h15.97v1h-15.97zM19.4 401h15.97v1h-15.97zM35.37 406h15.97v1h-15.97zM35.37 408h15.97v1h-15.97zM19.4 422h15.97v1h-15.97zM83.27 428h15.97v1h-15.97zM35.37 432h15.97v1h-15.97zM35.37 433h15.97v1h-15.97zM35.37 437h15.97v1h-15.97zM35.37 438h15.97v1h-15.97zM35.37 440h15.97v1h-15.97zM35.37 444h15.97v1h-15.97zM35.37 445h15.97v1h-15.97zM19.4 447h15.97v1h-15.97zM35.37 447h15.97v1h-15.97zM19.4 452h15.97v1h-15.97zM67.3 458h15.97v1h-15.97zM99.23 459h15.97v1h-15.97zM99.23 460h15.97v1h-15.97zM67.3 462h15.97v1h-15.97zM35.37 463h15.97v1h-15.97zM99.23 464h15.97v1h-15.97zM51.33 465h15.97v1h-15.97zM67.3 466h15.97v1h-15.97zM67.3 467h15.97v1h-15.97zM99.23 467h15.97v1h-15.97zM99.23 468h15.97v1h-15.97zM99.23 469h15.97v1h-15.97zM67.3 475h15.97v1h-15.97zM51.33 477h15.97v1h-15.97zM99.23 477h15.97v1h-15.97zM67.3 480h15.97v1h-15.97zM99.23 481h15.97v1h-15.97zM67.3 483h15.97v1h-15.97zM99.23 487h15.97v1h-15.97zM51.33 488h15.97v1h-15.97zM51.33 489h15.97v1h-15.97zM51.33 490h15.97v1h-15.97zM67.3 491h15.97v1h-15.97zM99.23 491h15.97v1h-15.97zM51.33 493h15.97v1h-15.97zM67.3 493h15.97v1h-15.97zM51.33 494h15.97v1h-15.97zM51.33 497h15.97v1h-15.97zM67.3 497h15.97v1h-15.97zM83.27 498h15.97v1h-15.97zM83.27 500h15.97v1h-15.97zM51.33 501h15.97v1h-15.97zM67.3 501h15.97v1h-15.97zM83.27 501h15.97v1h-15.97zM51.33 502h15.97v1h-15.97zM67.3 502h15.97v1h-15.97zM67.3 503h15.97v1h-15.97zM51.33 504h15.97v1h-15.97zM67.3 504h15.97v1h-15.97zM51.33 506h15.97v1h-15.97zM67.3 507h15.97v1h-15.97zM83.27 509h15.97v1h-15.97zM67.3 511h15.97v1h-15.97zM51.33 512h15.97v1h-15.97zM67.3 512h15.97v1h-15.97zM51.33 520h15.97v1h-15.97zM83.27 520h15.97v1h-15.97zM83.27 521h15.97v1h-15.97zM83.27 523h15.97v1h-15.97zM99.23 524h15.97v1h-15.97zM99.23 528h15.97v1h-15.97zM99.23 532h15.97v1h-15.97zM99.23 533h15.97v1h-15.97zM99.23 542h15.97v1h-15.97zM99.23 544h15.97v1h-15.97zM99.23 551h15.97v1h-15.97z"/>
<path fill="#4180b0" d="M19.4 212h15.97v1h-15.97zM19.4 228h15.97v1h-15.97zM19.4 236h15.97v1h-15.97zM19.4 240h15.97v1h-15.97zM35.37 245h15.97v1h-15.97zM19.4 249h15.97v1h-15.97zM19.4 252h15.97v1h-15.97zM19.4 257h15.97v1h-15.97zM35.37 260h15.97v1h-15.97zM51.33 260h15.97v1h-15.97zM35.37 262h15.97v1h-15.97zM35.37 263h15.97v1h-15.97zM35.37 264h15.97v1h-15.97zM35.37 266h15.97v1h-15.97zM35.37 267h15.97v1h-15.97zM35.37 269h15.97v1h-15.97zM19.4 270h15.97v1h-15.97zM35.37 270h15.97v1h-15.97zM19.4 271h15.97v1h-15.97zM35.37 272h15.97v1h-15.97zM19.4 275h15.97v1h-15.97zM19.4 276h15.97v1h-15.97zM19.4 277h15.97v1h-15.97zM19.4 278h15.97v1h-15.97zM35.37 278h15.97v1h-15.97zM19.4 279h15.97v1h-15.97zM19.4 280h15.97v1h-15.97zM19.4 281h15.97v1h-15.97zM51.33 281h15.97v1h-15.97zM19.4 282h15.97v1h-15.97zM35.37 282h15.97v1h-15.97zM19.4 294h15.97v1h-15.97zM19.4 299h15.97v1h-15.97zM19.4 300h15.97v1h-15.97zM35.37 303h15.97v1h-15.97zM19.4 305h15.97v1h-15.97zM19.4 310h15.97v1h-15.97zM19.4 312h15.97v1h-15.97zM51.33 312h15.97v1h-15.97zM67.3 315h15.97v1h-15.97zM67.3 320h15.97v1h-15.97zM51.33 324h15.97v1h-15.97zM67.3 340h15.97v1h-15.97zM67.3 341h15.97v1h-15.97zM67.3 342h15.97v1h-15.97zM83.27 343h15.97v1h-15.97zM67.3 344h15.97v1h-15.97zM83.27 344h15.97v1h-15.97zM67.3 349h15.97v1h-15.97zM67.3 354h15.97v1h-15.97zM83.27 354h15.97v1h-15.97zM19.4 362h15.97v1h-15.97zM19.4 374h15.97v1h-15.97zM19.4 379h15.97v1h-15.97zM19.4 383h15.97v1h-15.97zM35.37 394h15.97v1h-15.97zM19.4 398h15.97v1h-15.97zM19.4 400h15.97v1h-15.97zM19.4 403h15.97v1h-15.97zM19.4 405h15.97v1h-15.97zM35.37 409h15.97v1h-15.97zM19.4 410h15.97v1h-15.97zM51.33 412h15.97v1h-15.97zM51.33 413h15.97v1h-15.97zM51.33 414h15.97v1h-15.97zM51.33 416h15.97v1h-15.97zM51.33 419h15.97v1h-15.97zM51.33 422h15.97v1h-15.97zM67.3 430h15.97v1h-15.97zM83.27 430h15.97v1h-15.97zM83.27 431h15.97v1h-15.97zM19.4 433h15.97v1h-15.97zM19.4 434h15.97v1h-15.97zM19.4 435h15.97v1h-15.97zM35.37 435h15.97v1h-15.97zM35.37 436h15.97v1h-15.97zM19.4 437h15.97v1h-15.97zM19.4 438h15.97v1h-15.97zM19.4 441h15.97v1h-15.97zM35.37 443h15.97v1h-15.97zM19.4 444h15.97v1h-15.97zM35.37 446h15.97v1h-15.97zM19.4 448h15.97v1h-15.97zM35.37 450h15.97v1h-15.97zM19.4 451h15.97v1h-15.97zM35.37 452h15.97v1h-15.97zM35.37 455h15.97v1h-15.97zM19.4 456h15.97v1h-15.97zM19.4 457h15.97v1h-15.97zM67.3 457h15.97v1h-15.97zM35.37 458h15.97v1h-15.97zM83.27 458h15.97v1h-15.97zM35.37 462h15.97v1h-15.97zM99.23 463h15.97v1h-15.97zM99.23 465h15.97v1h-15.97zM19.4 466h15.97v1h-15.97zM83.27 466h15.97v1h-15.97zM67.3 468h15.97v1h-15.97zM51.33 470h15.97v1h-15.97zM99.23 470h15.97v1h-15.97zM99.23 471h15.97v1h-15.97zM99.23 473h15.97v1h-15.97zM51.33 474h15.97v1h-15.97zM83.27 475h15.97v1h-15.97zM67.3 476h15.97v1h-15.97zM99.23 476h15.97v1h-15.97zM19.4 478h15.97v1h-15.97zM35.37 478h15.97v1h-15.97zM67.3 478h15.97v1h-15.97zM99.23 478h15.97v1h-15.97zM51.33 479h15.97v1h-15.97zM99.23 479h15.97v1h-15.97zM67.3 481h15.97v1h-15.97zM99.23 485h15.97v1h-15.97zM83.27 486h15.97v1h-15.97zM67.3 490h15.97v1h-15.97zM83.27 491h15.97v1h-15.97zM99.23 493h15.97v1h-15.97zM67.3 494h15.97v1h-15.97zM83.27 494h15.97v1h-15.97zM99.23 494h15.97v1h-15.97zM67.3 495h15.97v1h-15.97zM51.33 496h15.97v1h-15.97zM67.3 498h15.97v1h-15.97zM99.23 499h15.97v1h-15.97zM99.23 501h15.97v1h-15.97zM51.33 503h15.97v1h-15.97zM83.27 503h15.97v1h-15.97zM83.27 505h15.97v1h-15.97zM83.27 506h15.97v1h-15.97zM83.27 507h15.97v1h-15.97zM51.33 509h15.97v1h-15.97zM51.33 510h15.97v1h-15.97zM67.3 510h15.97v1h-15.97zM99.23 510h15.97v1h-15.97zM99.23 513h15.97v1h-15.97zM67.3 515h15.97v1h-15.97zM83.27 517h15.97v1h-15.97zM83.27 519h15.97v1h-15.97zM67.3 520h15.97v1h-15.97zM51.33 522h15.97v1h-15.97zM67.3 522h15.97v1h-15.97zM83.27 522h15.97v1h-15.97zM51.33 523h15.97v1h-15.97zM67.3 523h15.97v1h-15.97zM99.23 523h15.97v1h-15.97zM67.3 524h15.97v1h-15.97zM99.23 529h15.97v1h-15.97zM99.23 537h15.97v1h-15.97zM99.23 540h15.97v1h-15.97zM99.23 548h15.97v1h-15.97zM99.23 550h15.97v1h-15.97zM99.23 552h15.97v1h-15.97z"/>
<path fill="#3c7aab" d="M19.4 218h15.97v1h-15.97zM35.37 239h15.97v1h-15.97zM19.4 248h15.97v1h-15.97zM35.37 248h15.97v1h-15.97zM35.37 257h15.97v1h-15.97zM51.33 257h15.97v1h-15.97zM19.4 258h15.97v1h-15.97zM51.33 258h15.97v1h-15.97zM19.4 260h15.97v1h-15.97zM19.4 261h15.97v1h-15.97zM35.37 261h15.97v1h-15.97zM51.33 261h15.97v1h-15.97zM51.33 262h15.97v1h-15.97zM51.33 264h15.97v1h-15.97zM35.37 265h15.97v1h-15.97zM51.33 265h15.97v1h-15.97zM19.4 266h15.97v1h-15.97zM51.33 266h15.97v1h-15.97zM19.4 267h15.97v1h-15.97zM51.33 269h15.97v1h-15.97zM51.33 270h15.97v1h-15.97zM51.33 271h15.97v1h-15.97zM19.4 273h15.97v1h-15.97zM19.4 274h15.97v1h-15.97zM35.37 274h15.97v1h-15.97zM51.33 274h15.97v1h-15.97zM35.37 275h15.97v1h-15.97zM51.33 275h15.97v1h-15.97zM51.33 278h15.97v1h-15.97zM51.33 279h15.97v1h-15.97zM35.37 280h15.97v1h-15.97zM35.37 281h15.97v1h-15.97zM51.33 282h15.97v1h-15.97zM19.4 283h15.97v1h-15.97zM35.37 283h15.97v1h-15.97zM51.33 283h15.97v1h-15.97zM19.4 284h15.97v1h-15.97zM19.4 286h15.97v1h-15.97zM35.37 286h15.97v1h-15.97zM51.33 287h15.97v1h-15.97zM19.4 288h15.97v1h-15.97zM19.4 289h15.97v1h-15.97zM51.33 289h15.97v1h-15.97zM19.4 290h15.97v1h-15.97zM51.33 290h15.97v1h-15.97zM19.4 291h15.97v1h-15.97zM51.33 291h15.97v1h-15.97zM19.4 293h15.97v1h-15.97zM19.4 296h15.97v1h-15.97zM51.33 296h15.97v1h-15.97zM67.3 314h15.97v1h-15.97zM51.33 317h15.97v1h-15.97zM19.4 318h15.97v1h-15.97zM19.4 319h15.97v1h-15.97zM67.3 337h15.97v1h-15.97zM83.27 341h15.97v1h-15.97zM67.3 343h15.97v1h-15.97zM67.3 345h15.97v1h-15.97zM83.27 345h15.97v1h-15.97zM67.3 346h15.97v1h-15.97zM83.27 346h15.97v1h-15.97zM83.27 348h15.97v1h-15.97zM83.27 349h15.97v1h-15.97zM51.33 350h15.97v1h-15.97zM67.3 350h15.97v1h-15.97zM83.27 350h15.97v1h-15.97zM83.27 351h15.97v1h-15.97zM83.27 353h15.97v1h-15.97zM51.33 354h15.97v1h-15.97zM19.4 387h15.97v1h-15.97zM19.4 391h15.97v1h-15.97zM19.4 397h15.97v1h-15.97zM35.37 397h15.97v1h-15.97zM19.4 402h15.97v1h-15.97zM19.4 404h15.97v1h-15.97zM19.4 407h15.97v1h-15.97zM19.4 408h15.97v1h-15.97zM19.4 411h15.97v1h-15.97zM51.33 411h15.97v1h-15.97zM19.4 412h15.97v1h-15.97zM19.4 416h15.97v1h-15.97zM51.33 418h15.97v1h-15.97zM51.33 423h15.97v1h-15.97zM51.33 426h15.97v1h-15.97zM19.4 430h15.97v1h-15.97zM67.3 431h15.97v1h-15.97zM19.4 436h15.97v1h-15.97zM19.4 439h15.97v1h-15.97zM19.4 440h15.97v1h-15.97zM19.4 442h15.97v1h-15.97zM19.4 443h15.97v1h-15.97zM19.4 445h15.97v1h-15.97zM19.4 446h15.97v1h-15.97zM19.4 449h15.97v1h-15.97zM35.37 451h15.97v1h-15.97zM35.37 457h15.97v1h-15.97zM99.23 458h15.97v1h-15.97zM35.37 459h15.97v1h-15.97zM19.4 460h15.97v1h-15.97zM35.37 460h15.97v1h-15.97zM67.3 461h15.97v1h-15.97zM99.23 461h15.97v1h-15.97zM19.4 462h15.97v1h-15.97zM83.27 462h15.97v1h-15.97zM19.4 463h15.97v1h-15.97zM35.37 466h15.97v1h-15.97zM19.4 467h15.97v1h-15.97zM35.37 467h15.97v1h-15.97zM35.37 468h15.97v1h-15.97zM67.3 469h15.97v1h-15.97zM35.37 470h15.97v1h-15.97zM99.23 472h15.97v1h-15.97zM19.4 473h15.97v1h-15.97zM35.37 473h15.97v1h-15.97zM67.3 473h15.97v1h-15.97zM19.4 475h15.97v1h-15.97zM35.37 475h15.97v1h-15.97zM35.37 476h15.97v1h-15.97zM35.37 480h15.97v1h-15.97zM19.4 481h15.97v1h-15.97zM35.37 481h15.97v1h-15.97zM83.27 481h15.97v1h-15.97zM99.23 482h15.97v1h-15.97zM19.4 483h15.97v1h-15.97zM83.27 483h15.97v1h-15.97zM67.3 484h15.97v1h-15.97zM67.3 485h15.97v1h-15.97zM67.3 486h15.97v1h-15.97zM19.4 487h15.97v1h-15.97zM67.3 487h15.97v1h-15.97zM99.23 490h15.97v1h-15.97zM51.33 492h15.97v1h-15.97zM67.3 492h15.97v1h-15.97zM19.4 494h15.97v1h-15.97zM83.27 495h15.97v1h-15.97zM99.23 495h15.97v1h-15.97zM67.3 496h15.97v1h-15.97zM83.27 496h15.97v1h-15.97zM99.23 497h15.97v1h-15.97zM51.33 498h15.97v1h-15.97zM99.23 498h15.97v1h-15.97zM67.3 500h15.97v1h-15.97zM99.23 503h15.97v1h-15.97zM99.23 504h15.97v1h-15.97zM51.33 505h15.97v1h-15.97zM67.3 506h15.97v1h-15.97zM99.23 507h15.97v1h-15.97zM67.3 509h15.97v1h-15.97zM99.23 509h15.97v1h-15.97zM99.23 511h15.97v1h-15.97zM35.37 513h15.97v1h-15.97zM51.33 514h15.97v1h-15.97zM83.27 514h15.97v1h-15.97zM99.23 514h15.97v1h-15.97zM51.33 515h15.97v1h-15.97zM83.27 515h15.97v1h-15.97zM51.33 517h15.97v1h-15.97zM51.33 518h15.97v1h-15.97zM83.27 518h15.97v1h-15.97zM99.23 518h15.97v1h-15.97zM67.3 519h15.97v1h-15.97zM99.23 519h15.97v1h-15.97zM99.23 520h15.97v1h-15.97zM99.23 522h15.97v1h-15.97zM51.33 524h15.97v1h-15.97zM99.23 525h15.97v1h-15.97zM99.23 535h15.97v1h-15.97zM99.23 536h15.97v1h-15.97zM99.23 538h15.97v1h-15.97zM99.23 539h15.97v1h-15.97zM99.23 547h15.97v1h-15.97zM99.23 549h15.97v1h-15.97zM99.23 553h15.97v1h-15.97z"/>
<path fill="#3470a2" d="M35.37 193h15.97v1h-15.97zM19.4 239h15.97v1h-15.97zM51.33 239h15.97v1h-15.97zM51.33 255h15.97v1h-15.97zM19.4 256h15.97v1h-15.97zM51.33 256h15.97v1h-15.97zM35.37 259h15.97v1h-15.97zM51.33 259h15.97v1h-15.97zM19.4 262h15.97v1h-15.97zM19.4 263h15.97v1h-15.97zM51.33 267h15.97v1h-15.97zM19.4 272h15.97v1h-15.97zM51.33 273h15.97v1h-15.97zM35.37 277h15.97v1h-15.97zM51.33 277h15.97v1h-15.97zM51.33 280h15.97v1h-15.97zM51.33 284h15.97v1h-15.97zM51.33 285h15.97v1h-15.97zM51.33 286h15.97v1h-15.97zM19.4 287h15.97v1h-15.97zM35.37 287h15.97v1h-15.97zM35.37 288h15.97v1h-15.97zM51.33 288h15.97v1h-15.97zM51.33 293h15.97v1h-15.97zM51.33 294h15.97v1h-15.97zM19.4 295h15.97v1h-15.97zM19.4 298h15.97v1h-15.97zM51.33 299h15.97v1h-15.97zM51.33 314h15.97v1h-15.97zM19.4 315h15.97v1h-15.97zM51.33 315h15.97v1h-15.97zM19.4 316h15.97v1h-15.97zM51.33 316h15.97v1h-15.97zM19.4 317h15.97v1h-15.97zM51.33 318h15.97v1h-15.97zM51.33 319h15.97v1h-15.97zM51.33 320h15.97v1h-15.97zM19.4 322h15.97v1h-15.97zM51.33 322h15.97v1h-15.97zM19.4 324h15.97v1h-15.97zM83.27 337h15.97v1h-15.97zM83.27 340h15.97v1h-15.97zM19.4 342h15.97v1h-15.97zM51.33 344h15.97v1h-15.97zM19.4 348h15.97v1h-15.97zM67.3 348h15.97v1h-15.97zM19.4 349h15.97v1h-15.97zM19.4 351h15.97v1h-15.97zM67.3 351h15.97v1h-15.97zM67.3 352h15.97v1h-15.97zM83.27 352h15.97v1h-15.97zM19.4 355h15.97v1h-15.97zM19.4 382h15.97v1h-15.97zM19.4 385h15.97v1h-15.97zM19.4 406h15.97v1h-15.97zM19.4 409h15.97v1h-15.97zM35.37 410h15.97v1h-15.97zM19.4 414h15.97v1h-15.97zM51.33 417h15.97v1h-15.97zM19.4 419h15.97v1h-15.97zM19.4 423h15.97v1h-15.97zM19.4 424h15.97v1h-15.97zM51.33 424h15.97v1h-15.97zM19.4 425h15.97v1h-15.97zM51.33 425h15.97v1h-15.97zM19.4 426h15.97v1h-15.97zM51.33 427h15.97v1h-15.97zM83.27 429h15.97v1h-15.97zM51.33 430h15.97v1h-15.97zM19.4 431h15.97v1h-15.97zM19.4 450h15.97v1h-15.97zM35.37 453h15.97v1h-15.97zM19.4 455h15.97v1h-15.97zM19.4 458h15.97v1h-15.97zM67.3 459h15.97v1h-15.97zM67.3 460h15.97v1h-15.97zM83.27 460h15.97v1h-15.97zM67.3 463h15.97v1h-15.97zM83.27 463h15.97v1h-15.97zM19.4 464h15.97v1h-15.97zM35.37 464h15.97v1h-15.97zM83.27 464h15.97v1h-15.97zM19.4 465h15.97v1h-15.97zM67.3 465h15.97v1h-15.97zM83.27 465h15.97v1h-15.97zM83.27 467h15.97v1h-15.97zM19.4 468h15.97v1h-15.97zM83.27 468h15.97v1h-15.97zM19.4 469h15.97v1h-15.97zM35.37 469h15.97v1h-15.97zM83.27 469h15.97v1h-15.97zM67.3 470h15.97v1h-15.97zM35.37 471h15.97v1h-15.97zM83.27 473h15.97v1h-15.97zM99.23 474h15.97v1h-15.97zM83.27 476h15.97v1h-15.97zM19.4 477h15.97v1h-15.97zM35.37 477h15.97v1h-15.97zM67.3 477h15.97v1h-15.97zM83.27 478h15.97v1h-15.97zM19.4 479h15.97v1h-15.97zM67.3 479h15.97v1h-15.97zM19.4 480h15.97v1h-15.97zM83.27 480h15.97v1h-15.97zM99.23 480h15.97v1h-15.97zM83.27 482h15.97v1h-15.97zM19.4 484h15.97v1h-15.97zM19.4 485h15.97v1h-15.97zM35.37 486h15.97v1h-15.97zM99.23 486h15.97v1h-15.97zM19.4 488h15.97v1h-15.97zM67.3 488h15.97v1h-15.97zM99.23 488h15.97v1h-15.97zM67.3 489h15.97v1h-15.97zM99.23 489h15.97v1h-15.97zM19.4 491h15.97v1h-15.97zM35.37 491h15.97v1h-15.97zM83.27 492h15.97v1h-15.97zM99.23 492h15.97v1h-15.97zM19.4 493h15.97v1h-15.97zM35.37 493h15.97v1h-15.97zM83.27 493h15.97v1h-15.97zM19.4 495h15.97v1h-15.97zM99.23 496h15.97v1h-15.97zM19.4 498h15.97v1h-15.97zM19.4 499h15.97v1h-15.97zM35.37 499h15.97v1h-15.97zM19.4 500h15.97v1h-15.97zM99.23 502h15.97v1h-15.97zM19.4 506h15.97v1h-15.97zM99.23 506h15.97v1h-15.97zM51.33 508h15.97v1h-15.97zM67.3 508h15.97v1h-15.97zM83.27 508h15.97v1h-15.97zM99.23 508h15.97v1h-15.97zM99.23 512h15.97v1h-15.97zM19.4 513h15.97v1h-15.97zM99.23 515h15.97v1h-15.97zM67.3 516h15.97v1h-15.97zM83.27 516h15.97v1h-15.97zM67.3 517h15.97v1h-15.97zM99.23 517h15.97v1h-15.97zM67.3 518h15.97v1h-15.97zM51.33 519h15.97v1h-15.97zM51.33 521h15.97v1h-15.97zM99.23 527h15.97v1h-15.97zM99.23 531h15.97v1h-15.97zM99.23 534h15.97v1h-15.97zM99.23 541h15.97v1h-15.97zM99.23 543h15.97v1h-15.97zM99.23 545h15.97v1h-15.97zM51.33 550h15.97v1h-15.97zM99.23 554h15.97v1h-15.97zM51.33 561h15.97v1h-15.97zM51.33 562h15.97v1h-15.97zM51.33 579h15.97v1h-15.97z"/>
<path fill="#2c679a" d="M35.37 256h15.97v1h-15.97zM19.4 259h15.97v1h-15.97zM51.33 263h15.97v1h-15.97zM19.4 265h15.97v1h-15.97zM51.33 272h15.97v1h-15.97zM35.37 284h15.97v1h-15.97zM19.4 285h15.97v1h-15.97zM35.37 285h15.97v1h-15.97zM35.37 289h15.97v1h-15.97zM35.37 291h15.97v1h-15.97zM35.37 294h15.97v1h-15.97zM35.37 295h15.97v1h-15.97zM51.33 295h15.97v1h-15.97zM19.4 297h15.97v1h-15.97zM51.33 297h15.97v1h-15.97zM51.33 310h15.97v1h-15.97zM51.33 311h15.97v1h-15.97zM19.4 314h15.97v1h-15.97zM35.37 316h15.97v1h-15.97zM35.37 318h15.97v1h-15.97zM19.4 320h15.97v1h-15.97zM19.4 323h15.97v1h-15.97zM35.37 323h15.97v1h-15.97zM51.33 323h15.97v1h-15.97zM35.37 324h15.97v1h-15.97zM19.4 337h15.97v1h-15.97zM19.4 340h15.97v1h-15.97zM19.4 341h15.97v1h-15.97zM35.37 341h15.97v1h-15.97zM51.33 341h15.97v1h-15.97zM51.33 342h15.97v1h-15.97zM51.33 343h15.97v1h-15.97zM19.4 345h15.97v1h-15.97zM51.33 346h15.97v1h-15.97zM67.3 347h15.97v1h-15.97zM83.27 347h15.97v1h-15.97zM19.4 350h15.97v1h-15.97zM35.37 351h15.97v1h-15.97zM51.33 351h15.97v1h-15.97zM19.4 352h15.97v1h-15.97zM51.33 352h15.97v1h-15.97zM51.33 353h15.97v1h-15.97zM19.4 354h15.97v1h-15.97zM51.33 355h15.97v1h-15.97zM35.37 411h15.97v1h-15.97zM35.37 412h15.97v1h-15.97zM19.4 413h15.97v1h-15.97zM19.4 415h15.97v1h-15.97zM51.33 415h15.97v1h-15.97zM35.37 416h15.97v1h-15.97zM19.4 417h15.97v1h-15.97zM19.4 418h15.97v1h-15.97zM35.37 418h15.97v1h-15.97zM35.37 419h15.97v1h-15.97zM19.4 420h15.97v1h-15.97zM51.33 420h15.97v1h-15.97zM19.4 421h15.97v1h-15.97zM51.33 421h15.97v1h-15.97zM35.37 422h15.97v1h-15.97zM19.4 427h15.97v1h-15.97zM19.4 428h15.97v1h-15.97zM35.37 428h15.97v1h-15.97zM51.33 428h15.97v1h-15.97zM67.3 428h15.97v1h-15.97zM67.3 429h15.97v1h-15.97zM35.37 431h15.97v1h-15.97zM19.4 432h15.97v1h-15.97zM83.27 457h15.97v1h-15.97zM19.4 459h15.97v1h-15.97zM83.27 459h15.97v1h-15.97zM19.4 461h15.97v1h-15.97zM35.37 461h15.97v1h-15.97zM83.27 461h15.97v1h-15.97zM67.3 464h15.97v1h-15.97zM35.37 465h15.97v1h-15.97zM19.4 471h15.97v1h-15.97zM83.27 471h15.97v1h-15.97zM19.4 472h15.97v1h-15.97zM35.37 472h15.97v1h-15.97zM67.3 472h15.97v1h-15.97zM83.27 472h15.97v1h-15.97zM35.37 474h15.97v1h-15.97zM19.4 476h15.97v1h-15.97zM83.27 477h15.97v1h-15.97zM83.27 479h15.97v1h-15.97zM19.4 482h15.97v1h-15.97zM35.37 483h15.97v1h-15.97zM35.37 484h15.97v1h-15.97zM83.27 484h15.97v1h-15.97zM35.37 485h15.97v1h-15.97zM83.27 485h15.97v1h-15.97zM19.4 486h15.97v1h-15.97zM35.37 487h15.97v1h-15.97zM83.27 487h15.97v1h-15.97zM83.27 488h15.97v1h-15.97zM19.4 489h15.97v1h-15.97zM35.37 489h15.97v1h-15.97zM19.4 490h15.97v1h-15.97zM83.27 490h15.97v1h-15.97zM19.4 492h15.97v1h-15.97zM35.37 492h15.97v1h-15.97zM35.37 494h15.97v1h-15.97zM35.37 495h15.97v1h-15.97zM19.4 496h15.97v1h-15.97zM35.37 496h15.97v1h-15.97zM19.4 497h15.97v1h-15.97zM35.37 500h15.97v1h-15.97zM35.37 501h15.97v1h-15.97zM19.4 502h15.97v1h-15.97zM19.4 503h15.97v1h-15.97zM35.37 503h15.97v1h-15.97zM19.4 504h15.97v1h-15.97zM35.37 504h15.97v1h-15.97zM67.3 505h15.97v1h-15.97zM99.23 505h15.97v1h-15.97zM35.37 506h15.97v1h-15.97zM19.4 511h15.97v1h-15.97zM35.37 514h15.97v1h-15.97zM67.3 514h15.97v1h-15.97zM51.33 516h15.97v1h-15.97zM99.23 516h15.97v1h-15.97zM19.4 517h15.97v1h-15.97zM19.4 518h15.97v1h-15.97zM19.4 519h15.97v1h-15.97zM19.4 520h15.97v1h-15.97zM99.23 521h15.97v1h-15.97zM35.37 522h15.97v1h-15.97zM35.37 524h15.97v1h-15.97zM67.3 527h15.97v1h-15.97zM19.4 528h15.97v1h-15.97zM67.3 528h15.97v1h-15.97zM19.4 529h15.97v1h-15.97zM67.3 529h15.97v1h-15.97zM67.3 530h15.97v1h-15.97zM51.33 531h15.97v1h-15.97zM67.3 532h15.97v1h-15.97zM51.33 535h15.97v1h-15.97zM51.33 536h15.97v1h-15.97zM19.4 538h15.97v1h-15.97zM51.33 538h15.97v1h-15.97zM67.3 538h15.97v1h-15.97zM83.27 538h15.97v1h-15.97zM51.33 539h15.97v1h-15.97zM67.3 539h15.97v1h-15.97zM51.33 542h15.97v1h-15.97zM67.3 542h15.97v1h-15.97zM83.27 542h15.97v1h-15.97zM67.3 544h15.97v1h-15.97zM83.27 544h15.97v1h-15.97zM19.4 545h15.97v1h-15.97zM19.4 546h15.97v1h-15.97zM51.33 547h15.97v1h-15.97zM51.33 548h15.97v1h-15.97zM67.3 548h15.97v1h-15.97zM51.33 553h15.97v1h-15.97zM67.3 553h15.97v1h-15.97zM51.33 554h15.97v1h-15.97zM67.3 559h15.97v1h-15.97zM67.3 560h15.97v1h-15.97zM19.4 561h15.97v1h-15.97zM83.27 561h15.97v1h-15.97zM19.4 562h15.97v1h-15.97zM35.37 562h15.97v1h-15.97zM67.3 562h15.97v1h-15.97zM83.27 563h15.97v1h-15.97zM51.33 564h15.97v1h-15.97zM51.33 565h15.97v1h-15.97zM51.33 568h15.97v1h-15.97zM51.33 570h15.97v1h-15.97zM67.3 572h15.97v1h-15.97zM83.27 577h15.97v1h-15.97zM19.4 579h15.97v1h-15.97zM51.33 580h15.97v1h-15.97zM51.33 583h15.97v1h-15.97zM51.33 589h15.97v1h-15.97zM51.33 596h15.97v1h-15.97z"/>
<path fill="#255e91" d="M35.37 255h15.97v1h-15.97zM35.37 268h15.97v1h-15.97zM51.33 268h15.97v1h-15.97zM35.37 290h15.97v1h-15.97zM35.37 293h15.97v1h-15.97zM35.37 296h15.97v1h-15.97zM35.37 298h15.97v1h-15.97zM51.33 298h15.97v1h-15.97zM35.37 299h15.97v1h-15.97zM35.37 310h15.97v1h-15.97zM35.37 312h15.97v1h-15.97zM35.37 314h15.97v1h-15.97zM35.37 315h15.97v1h-15.97zM35.37 317h15.97v1h-15.97zM35.37 319h15.97v1h-15.97zM35.37 322h15.97v1h-15.97zM35.37 337h15.97v1h-15.97zM51.33 337h15.97v1h-15.97zM35.37 340h15.97v1h-15.97zM51.33 340h15.97v1h-15.97zM35.37 342h15.97v1h-15.97zM19.4 344h15.97v1h-15.97zM35.37 344h15.97v1h-15.97zM51.33 345h15.97v1h-15.97zM19.4 347h15.97v1h-15.97zM35.37 348h15.97v1h-15.97zM51.33 348h15.97v1h-15.97zM35.37 349h15.97v1h-15.97zM51.33 349h15.97v1h-15.97zM19.4 353h15.97v1h-15.97zM67.3 353h15.97v1h-15.97zM35.37 354h15.97v1h-15.97zM35.37 355h15.97v1h-15.97zM35.37 414h15.97v1h-15.97zM35.37 415h15.97v1h-15.97zM35.37 417h15.97v1h-15.97zM35.37 423h15.97v1h-15.97zM35.37 425h15.97v1h-15.97zM35.37 426h15.97v1h-15.97zM35.37 427h15.97v1h-15.97zM19.4 429h15.97v1h-15.97zM51.33 429h15.97v1h-15.97zM51.33 431h15.97v1h-15.97zM19.4 453h15.97v1h-15.97zM83.27 470h15.97v1h-15.97zM19.4 474h15.97v1h-15.97zM67.3 474h15.97v1h-15.97zM83.27 474h15.97v1h-15.97zM35.37 479h15.97v1h-15.97zM35.37 482h15.97v1h-15.97zM67.3 482h15.97v1h-15.97zM35.37 488h15.97v1h-15.97zM83.27 489h15.97v1h-15.97zM35.37 490h15.97v1h-15.97zM35.37 497h15.97v1h-15.97zM35.37 498h15.97v1h-15.97zM19.4 501h15.97v1h-15.97zM19.4 507h15.97v1h-15.97zM35.37 507h15.97v1h-15.97zM19.4 509h15.97v1h-15.97zM35.37 509h15.97v1h-15.97zM19.4 510h15.97v1h-15.97zM35.37 510h15.97v1h-15.97zM35.37 511h15.97v1h-15.97zM35.37 512h15.97v1h-15.97zM19.4 515h15.97v1h-15.97zM35.37 515h15.97v1h-15.97zM35.37 520h15.97v1h-15.97zM19.4 521h15.97v1h-15.97zM35.37 521h15.97v1h-15.97zM19.4 522h15.97v1h-15.97zM19.4 523h15.97v1h-15.97zM35.37 523h15.97v1h-15.97zM19.4 524h15.97v1h-15.97zM51.33 525h15.97v1h-15.97zM83.27 525h15.97v1h-15.97zM19.4 526h15.97v1h-15.97zM51.33 526h15.97v1h-15.97zM67.3 526h15.97v1h-15.97zM83.27 526h15.97v1h-15.97zM83.27 528h15.97v1h-15.97zM51.33 529h15.97v1h-15.97zM83.27 529h15.97v1h-15.97zM83.27 530h15.97v1h-15.97zM19.4 531h15.97v1h-15.97zM83.27 531h15.97v1h-15.97zM51.33 532h15.97v1h-15.97zM83.27 532h15.97v1h-15.97zM35.37 533h15.97v1h-15.97zM51.33 533h15.97v1h-15.97zM67.3 533h15.97v1h-15.97zM83.27 533h15.97v1h-15.97zM19.4 534h15.97v1h-15.97zM35.37 534h15.97v1h-15.97zM67.3 534h15.97v1h-15.97zM19.4 535h15.97v1h-15.97zM19.4 536h15.97v1h-15.97zM67.3 536h15.97v1h-15.97zM19.4 537h15.97v1h-15.97zM67.3 537h15.97v1h-15.97zM83.27 537h15.97v1h-15.97zM35.37 538h15.97v1h-15.97zM19.4 539h15.97v1h-15.97zM35.37 539h15.97v1h-15.97zM51.33 540h15.97v1h-15.97zM35.37 542h15.97v1h-15.97zM51.33 543h15.97v1h-15.97zM67.3 543h15.97v1h-15.97zM19.4 544h15.97v1h-15.97zM51.33 544h15.97v1h-15.97zM51.33 545h15.97v1h-15.97zM67.3 545h15.97v1h-15.97zM35.37 546h15.97v1h-15.97zM51.33 546h15.97v1h-15.97zM67.3 546h15.97v1h-15.97zM83.27 546h15.97v1h-15.97zM35.37 547h15.97v1h-15.97zM83.27 547h15.97v1h-15.97zM35.37 548h15.97v1h-15.97zM83.27 548h15.97v1h-15.97zM19.4 549h15.97v1h-15.97zM35.37 551h15.97v1h-15.97zM51.33 551h15.97v1h-15.97zM67.3 551h15.97v1h-15.97zM83.27 551h15.97v1h-15.97zM67.3 552h15.97v1h-15.97zM19.4 553h15.97v1h-15.97zM83.27 553h15.97v1h-15.97zM35.37 554h15.97v1h-15.97zM83.27 554h15.97v1h-15.97zM51.33 556h15.97v1h-15.97zM67.3 556h15.97v1h-15.97zM51.33 557h15.97v1h-15.97zM67.3 558h15.97v1h-15.97zM83.27 558h15.97v1h-15.97zM51.33 559h15.97v1h-15.97zM19.4 560h15.97v1h-15.97zM35.37 560h15.97v1h-15.97zM51.33 560h15.97v1h-15.97zM83.27 560h15.97v1h-15.97zM99.23 560h15.97v1h-15.97zM67.3 561h15.97v1h-15.97zM99.23 561h15.97v1h-15.97zM99.23 562h15.97v1h-15.97zM19.4 563h15.97v1h-15.97zM51.33 563h15.97v1h-15.97zM67.3 563h15.97v1h-15.97zM67.3 564h15.97v1h-15.97zM83.27 564h15.97v1h-15.97zM99.23 564h15.97v1h-15.97zM35.37 565h15.97v1h-15.97zM51.33 566h15.97v1h-15.97zM19.4 567h15.97v1h-15.97zM35.37 568h15.97v1h-15.97zM83.27 568h15.97v1h-15.97zM19.4 569h15.97v1h-15.97zM19.4 570h15.97v1h-15.97zM35.37 570h15.97v1h-15.97zM35.37 571h15.97v1h-15.97zM51.33 571h15.97v1h-15.97zM35.37 572h15.97v1h-15.97zM51.33 572h15.97v1h-15.97zM51.33 573h15.97v1h-15.97zM67.3 573h15.97v1h-15.97zM83.27 573h15.97v1h-15.97zM19.4 574h15.97v1h-15.97zM35.37 574h15.97v1h-15.97zM99.23 575h15.97v1h-15.97zM19.4 577h15.97v1h-15.97zM51.33 577h15.97v1h-15.97zM67.3 577h15.97v1h-15.97zM19.4 578h15.97v1h-15.97zM51.33 578h15.97v1h-15.97zM67.3 578h15.97v1h-15.97zM35.37 579h15.97v1h-15.97zM83.27 579h15.97v1h-15.97zM99.23 579h15.97v1h-15.97zM19.4 580h15.97v1h-15.97zM35.37 580h15.97v1h-15.97zM19.4 582h15.97v1h-15.97zM51.33 582h15.97v1h-15.97zM67.3 582h15.97v1h-15.97zM83.27 582h15.97v1h-15.97zM19.4 583h15.97v1h-15.97zM35.37 583h15.97v1h-15.97zM67.3 583h15.97v1h-15.97zM51.33 584h15.97v1h-15.97zM99.23 584h15.97v1h-15.97zM19.4 585h15.97v1h-15.97zM67.3 588h15.97v1h-15.97zM19.4 589h15.97v1h-15.97zM35.37 589h15.97v1h-15.97zM67.3 589h15.97v1h-15.97zM83.27 589h15.97v1h-15.97zM35.37 592h15.97v1h-15.97zM51.33 594h15.97v1h-15.97zM19.4 595h15.97v1h-15.97zM51.33 595h15.97v1h-15.97zM35.37 597h15.97v1h-15.97zM67.3 597h15.97v1h-15.97zM83.27 597h15.97v1h-15.97zM19.4 598h15.97v1h-15.97zM35.37 598h15.97v1h-15.97zM51.33 598h15.97v1h-15.97zM51.33 600h15.97v1h-15.97zM19.4 601h15.97v1h-15.97zM51.33 601h15.97v1h-15.97zM83.27 601h15.97v1h-15.97zM99.23 602h15.97v1h-15.97zM51.33 603h15.97v1h-15.97zM19.4 605h15.97v1h-15.97zM51.33 605h15.97v1h-15.97zM35.37 607h15.97v1h-15.97zM51.33 612h15.97v1h-15.97zM67.3 613h15.97v1h-15.97zM67.3 615h15.97v1h-15.97zM19.4 617h15.97v1h-15.97zM35.37 622h15.97v1h-15.97zM51.33 622h15.97v1h-15.97zM67.3 622h15.97v1h-15.97zM83.27 622h15.97v1h-15.97zM19.4 624h15.97v1h-15.97zM67.3 624h15.97v1h-15.97zM19.4 625h15.97v1h-15.97zM51.33 625h15.97v1h-15.97zM67.3 625h15.97v1h-15.97zM51.33 629h15.97v1h-15.97z"/>
<path fill="#1d5589" d="M19.4 255h15.97v1h-15.97zM19.4 268h15.97v1h-15.97zM35.37 297h15.97v1h-15.97zM19.4 311h15.97v1h-15.97zM35.37 320h15.97v1h-15.97zM19.4 343h15.97v1h-15.97zM35.37 343h15.97v1h-15.97zM35.37 345h15.97v1h-15.97zM19.4 346h15.97v1h-15.97zM35.37 346h15.97v1h-15.97zM35.37 350h15.97v1h-15.97zM35.37 352h15.97v1h-15.97zM35.37 353h15.97v1h-15.97zM35.37 413h15.97v1h-15.97zM35.37 420h15.97v1h-15.97zM35.37 424h15.97v1h-15.97zM35.37 429h15.97v1h-15.97zM35.37 430h15.97v1h-15.97zM19.4 470h15.97v1h-15.97zM67.3 471h15.97v1h-15.97zM35.37 502h15.97v1h-15.97zM19.4 505h15.97v1h-15.97zM35.37 505h15.97v1h-15.97zM19.4 508h15.97v1h-15.97zM35.37 508h15.97v1h-15.97zM19.4 512h15.97v1h-15.97zM19.4 514h15.97v1h-15.97zM19.4 516h15.97v1h-15.97zM35.37 516h15.97v1h-15.97zM35.37 517h15.97v1h-15.97zM35.37 518h15.97v1h-15.97zM35.37 519h15.97v1h-15.97zM19.4 525h15.97v1h-15.97zM67.3 525h15.97v1h-15.97zM35.37 526h15.97v1h-15.97zM19.4 527h15.97v1h-15.97zM35.37 527h15.97v1h-15.97zM51.33 527h15.97v1h-15.97zM35.37 528h15.97v1h-15.97zM51.33 528h15.97v1h-15.97zM35.37 529h15.97v1h-15.97zM19.4 530h15.97v1h-15.97zM51.33 530h15.97v1h-15.97zM67.3 531h15.97v1h-15.97zM19.4 532h15.97v1h-15.97zM19.4 533h15.97v1h-15.97zM51.33 534h15.97v1h-15.97zM67.3 535h15.97v1h-15.97zM83.27 535h15.97v1h-15.97zM35.37 536h15.97v1h-15.97zM83.27 536h15.97v1h-15.97zM51.33 537h15.97v1h-15.97zM83.27 539h15.97v1h-15.97zM19.4 540h15.97v1h-15.97zM67.3 540h15.97v1h-15.97zM83.27 540h15.97v1h-15.97zM19.4 541h15.97v1h-15.97zM51.33 541h15.97v1h-15.97zM67.3 541h15.97v1h-15.97zM19.4 542h15.97v1h-15.97zM19.4 543h15.97v1h-15.97zM35.37 543h15.97v1h-15.97zM83.27 543h15.97v1h-15.97zM35.37 544h15.97v1h-15.97zM35.37 545h15.97v1h-15.97zM83.27 545h15.97v1h-15.97zM19.4 547h15.97v1h-15.97zM67.3 547h15.97v1h-15.97zM19.4 548h15.97v1h-15.97zM51.33 549h15.97v1h-15.97zM67.3 549h15.97v1h-15.97zM83.27 549h15.97v1h-15.97zM19.4 550h15.97v1h-15.97zM35.37 550h15.97v1h-15.97zM67.3 550h15.97v1h-15.97zM83.27 550h15.97v1h-15.97zM19.4 552h15.97v1h-15.97zM51.33 552h15.97v1h-15.97zM83.27 552h15.97v1h-15.97zM35.37 553h15.97v1h-15.97zM19.4 554h15.97v1h-15.97zM67.3 554h15.97v1h-15.97zM35.37 555h15.97v1h-15.97zM67.3 555h15.97v1h-15.97zM19.4 556h15.97v1h-15.97zM35.37 556h15.97v1h-15.97zM83.27 556h15.97v1h-15.97zM19.4 557h15.97v1h-15.97zM83.27 557h15.97v1h-15.97zM99.23 557h15.97v1h-15.97zM19.4 558h15.97v1h-15.97zM51.33 558h15.97v1h-15.97zM99.23 558h15.97v1h-15.97zM19.4 559h15.97v1h-15.97zM83.27 559h15.97v1h-15.97zM99.23 559h15.97v1h-15.97zM83.27 562h15.97v1h-15.97zM35.37 563h15.97v1h-15.97zM99.23 563h15.97v1h-15.97zM19.4 564h15.97v1h-15.97zM35.37 564h15.97v1h-15.97zM19.4 565h15.97v1h-15.97zM83.27 565h15.97v1h-15.97zM99.23 565h15.97v1h-15.97zM19.4 566h15.97v1h-15.97zM67.3 566h15.97v1h-15.97zM83.27 566h15.97v1h-15.97zM99.23 566h15.97v1h-15.97zM51.33 567h15.97v1h-15.97zM83.27 567h15.97v1h-15.97zM99.23 567h15.97v1h-15.97zM19.4 568h15.97v1h-15.97zM67.3 568h15.97v1h-15.97zM99.23 568h15.97v1h-15.97zM51.33 569h15.97v1h-15.97zM67.3 570h15.97v1h-15.97zM83.27 570h15.97v1h-15.97zM19.4 571h15.97v1h-15.97zM67.3 571h15.97v1h-15.97zM99.23 571h15.97v1h-15.97zM19.4 572h15.97v1h-15.97zM99.23 572h15.97v1h-15.97zM19.4 573h15.97v1h-15.97zM99.23 573h15.97v1h-15.97zM51.33 574h15.97v1h-15.97zM67.3 574h15.97v1h-15.97zM19.4 575h15.97v1h-15.97zM51.33 575h15.97v1h-15.97zM19.4 576h15.97v1h-15.97zM35.37 576h15.97v1h-15.97zM51.33 576h15.97v1h-15.97zM67.3 576h15.97v1h-15.97zM99.23 577h15.97v1h-15.97zM83.27 578h15.97v1h-15.97zM99.23 578h15.97v1h-15.97zM67.3 579h15.97v1h-15.97zM67.3 580h15.97v1h-15.97zM83.27 580h15.97v1h-15.97zM19.4 581h15.97v1h-15.97zM35.37 581h15.97v1h-15.97zM51.33 581h15.97v1h-15.97zM67.3 581h15.97v1h-15.97zM99.23 581h15.97v1h-15.97zM35.37 582h15.97v1h-15.97zM99.23 582h15.97v1h-15.97zM83.27 583h15.97v1h-15.97zM19.4 584h15.97v1h-15.97zM67.3 584h15.97v1h-15.97zM83.27 584h15.97v1h-15.97zM67.3 585h15.97v1h-15.97zM83.27 585h15.97v1h-15.97zM99.23 585h15.97v1h-15.97zM19.4 586h15.97v1h-15.97zM51.33 586h15.97v1h-15.97zM67.3 586h15.97v1h-15.97zM83.27 586h15.97v1h-15.97zM99.23 586h15.97v1h-15.97zM19.4 587h15.97v1h-15.97zM67.3 587h15.97v1h-15.97zM83.27 587h15.97v1h-15.97zM51.33 588h15.97v1h-15.97zM99.23 588h15.97v1h-15.97zM99.23 589h15.97v1h-15.97zM19.4 590h15.97v1h-15.97zM51.33 590h15.97v1h-15.97zM67.3 590h15.97v1h-15.97zM99.23 590h15.97v1h-15.97zM19.4 591h15.97v1h-15.97zM35.37 591h15.97v1h-15.97zM51.33 591h15.97v1h-15.97zM99.23 591h15.97v1h-15.97zM19.4 592h15.97v1h-15.97zM51.33 592h15.97v1h-15.97zM67.3 592h15.97v1h-15.97zM83.27 592h15.97v1h-15.97zM19.4 593h15.97v1h-15.97zM51.33 593h15.97v1h-15.97zM67.3 593h15.97v1h-15.97zM83.27 593h15.97v1h-15.97zM19.4 594h15.97v1h-15.97zM83.27 594h15.97v1h-15.97zM99.23 594h15.97v1h-15.97zM83.27 595h15.97v1h-15.97zM19.4 596h15.97v1h-15.97zM67.3 596h15.97v1h-15.97zM83.27 596h15.97v1h-15.97zM19.4 597h15.97v1h-15.97zM51.33 597h15.97v1h-15.97zM99.23 597h15.97v1h-15.97zM67.3 598h15.97v1h-15.97zM83.27 598h15.97v1h-15.97zM99.23 598h15.97v1h-15.97zM19.4 599h15.97v1h-15.97zM51.33 599h15.97v1h-15.97zM83.27 599h15.97v1h-15.97zM19.4 600h15.97v1h-15.97zM83.27 600h15.97v1h-15.97zM99.23 600h15.97v1h-15.97zM35.37 601h15.97v1h-15.97zM67.3 601h15.97v1h-15.97zM99.23 601h15.97v1h-15.97zM19.4 602h15.97v1h-15.97zM51.33 602h15.97v1h-15.97zM67.3 602h15.97v1h-15.97zM83.27 602h15.97v1h-15.97zM35.37 603h15.97v1h-15.97zM67.3 603h15.97v1h-15.97zM83.27 603h15.97v1h-15.97zM19.4 604h15.97v1h-15.97zM67.3 604h15.97v1h-15.97zM83.27 604h15.97v1h-15.97zM99.23 604h15.97v1h-15.97zM35.37 605h15.97v1h-15.97zM67.3 605h15.97v1h-15.97zM83.27 605h15.97v1h-15.97zM99.23 605h15.97v1h-15.97zM35.37 606h15.97v1h-15.97zM51.33 606h15.97v1h-15.97zM83.27 606h15.97v1h-15.97zM51.33 607h15.97v1h-15.97zM99.23 607h15.97v1h-15.97zM67.3 609h15.97v1h-15.97zM83.27 609h15.97v1h-15.97zM51.33 610h15.97v1h-15.97zM67.3 610h15.97v1h-15.97zM83.27 610h15.97v1h-15.97zM19.4 612h15.97v1h-15.97zM35.37 612h15.97v1h-15.97zM83.27 612h15.97v1h-15.97zM19.4 613h15.97v1h-15.97zM51.33 613h15.97v1h-15.97zM99.23 613h15.97v1h-15.97zM19.4 614h15.97v1h-15.97zM35.37 614h15.97v1h-15.97zM51.33 614h15.97v1h-15.97zM67.3 614h15.97v1h-15.97zM83.27 614h15.97v1h-15.97zM19.4 615h15.97v1h-15.97zM35.37 615h15.97v1h-15.97zM51.33 615h15.97v1h-15.97zM83.27 615h15.97v1h-15.97zM99.23 615h15.97v1h-15.97zM19.4 616h15.97v1h-15.97zM67.3 616h15.97v1h-15.97zM51.33 617h15.97v1h-15.97zM99.23 617h15.97v1h-15.97zM19.4 618h15.97v1h-15.97zM35.37 618h15.97v1h-15.97zM51.33 618h15.97v1h-15.97zM67.3 618h15.97v1h-15.97zM99.23 618h15.97v1h-15.97zM19.4 619h15.97v1h-15.97zM35.37 619h15.97v1h-15.97zM51.33 619h15.97v1h-15.97zM67.3 619h15.97v1h-15.97zM83.27 619h15.97v1h-15.97zM67.3 620h15.97v1h-15.97zM19.4 621h15.97v1h-15.97zM35.37 621h15.97v1h-15.97zM51.33 621h15.97v1h-15.97zM67.3 621h15.97v1h-15.97zM83.27 621h15.97v1h-15.97zM19.4 622h15.97v1h-15.97zM99.23 622h15.97v1h-15.97zM19.4 623h15.97v1h-15.97zM51.33 623h15.97v1h-15.97zM67.3 623h15.97v1h-15.97zM35.37 624h15.97v1h-15.97zM83.27 624h15.97v1h-15.97zM35.37 625h15.97v1h-15.97zM83.27 625h15.97v1h-15.97zM99.23 625h15.97v1h-15.97zM51.33 627h15.97v1h-15.97zM67.3 627h15.97v1h-15.97zM19.4 629h15.97v1h-15.97zM35.37 629h15.97v1h-15.97zM67.3 629h15.97v1h-15.97zM83.27 629h15.97v1h-15.97zM99.23 629h15.97v1h-15.97z"/>
<path fill="#1d5589" d="M35.37 311h15.97v1h-15.97zM35.37 347h15.97v1h-15.97zM51.33 347h15.97v1h-15.97zM35.37 421h15.97v1h-15.97zM35.37 525h15.97v1h-15.97zM83.27 527h15.97v1h-15.97zM35.37 530h15.97v1h-15.97zM35.37 531h15.97v1h-15.97zM35.37 532h15.97v1h-15.97zM83.27 534h15.97v1h-15.97zM35.37 535h15.97v1h-15.97zM35.37 537h15.97v1h-15.97zM35.37 540h15.97v1h-15.97zM35.37 541h15.97v1h-15.97zM83.27 541h15.97v1h-15.97zM35.37 549h15.97v1h-15.97zM19.4 551h15.97v1h-15.97zM35.37 552h15.97v1h-15.97zM19.4 555h15.97v1h-15.97zM51.33 555h15.97v1h-15.97zM83.27 555h15.97v1h-15.97zM99.23 555h15.97v1h-15.97zM99.23 556h15.97v1h-15.97zM35.37 557h15.97v1h-15.97zM67.3 557h15.97v1h-15.97zM35.37 558h15.97v1h-15.97zM35.37 559h15.97v1h-15.97zM35.37 561h15.97v1h-15.97zM67.3 565h15.97v1h-15.97zM35.37 566h15.97v1h-15.97zM67.3 567h15.97v1h-15.97zM67.3 569h15.97v1h-15.97zM83.27 569h15.97v1h-15.97zM99.23 569h15.97v1h-15.97zM99.23 570h15.97v1h-15.97zM83.27 571h15.97v1h-15.97zM83.27 572h15.97v1h-15.97zM35.37 573h15.97v1h-15.97zM83.27 574h15.97v1h-15.97zM99.23 574h15.97v1h-15.97zM35.37 575h15.97v1h-15.97zM67.3 575h15.97v1h-15.97zM83.27 576h15.97v1h-15.97zM99.23 576h15.97v1h-15.97zM35.37 577h15.97v1h-15.97zM35.37 578h15.97v1h-15.97zM99.23 580h15.97v1h-15.97zM83.27 581h15.97v1h-15.97zM99.23 583h15.97v1h-15.97zM51.33 585h15.97v1h-15.97zM35.37 586h15.97v1h-15.97zM51.33 587h15.97v1h-15.97zM99.23 587h15.97v1h-15.97zM19.4 588h15.97v1h-15.97zM35.37 588h15.97v1h-15.97zM83.27 588h15.97v1h-15.97zM35.37 590h15.97v1h-15.97zM83.27 590h15.97v1h-15.97zM67.3 591h15.97v1h-15.97zM83.27 591h15.97v1h-15.97zM99.23 592h15.97v1h-15.97zM35.37 593h15.97v1h-15.97zM99.23 593h15.97v1h-15.97zM35.37 594h15.97v1h-15.97zM67.3 594h15.97v1h-15.97zM35.37 595h15.97v1h-15.97zM67.3 595h15.97v1h-15.97zM99.23 595h15.97v1h-15.97zM35.37 596h15.97v1h-15.97zM99.23 596h15.97v1h-15.97zM35.37 599h15.97v1h-15.97zM99.23 599h15.97v1h-15.97zM35.37 600h15.97v1h-15.97zM67.3 600h15.97v1h-15.97zM19.4 603h15.97v1h-15.97zM99.23 603h15.97v1h-15.97zM35.37 604h15.97v1h-15.97zM51.33 604h15.97v1h-15.97zM19.4 606h15.97v1h-15.97zM67.3 606h15.97v1h-15.97zM99.23 606h15.97v1h-15.97zM19.4 607h15.97v1h-15.97zM67.3 607h15.97v1h-15.97zM83.27 607h15.97v1h-15.97zM35.37 608h15.97v1h-15.97zM67.3 608h15.97v1h-15.97zM83.27 608h15.97v1h-15.97zM99.23 608h15.97v1h-15.97zM19.4 609h15.97v1h-15.97zM35.37 609h15.97v1h-15.97zM51.33 609h15.97v1h-15.97zM99.23 609h15.97v1h-15.97zM19.4 610h15.97v1h-15.97zM35.37 610h15.97v1h-15.97zM99.23 610h15.97v1h-15.97zM19.4 611h15.97v1h-15.97zM51.33 611h15.97v1h-15.97zM67.3 611h15.97v1h-15.97zM83.27 611h15.97v1h-15.97zM67.3 612h15.97v1h-15.97zM99.23 612h15.97v1h-15.97zM35.37 613h15.97v1h-15.97zM83.27 613h15.97v1h-15.97zM99.23 614h15.97v1h-15.97zM35.37 616h15.97v1h-15.97zM51.33 616h15.97v1h-15.97zM83.27 616h15.97v1h-15.97zM99.23 616h15.97v1h-15.97zM35.37 617h15.97v1h-15.97zM67.3 617h15.97v1h-15.97zM83.27 617h15.97v1h-15.97zM83.27 618h15.97v1h-15.97zM19.4 620h15.97v1h-15.97zM35.37 620h15.97v1h-15.97zM51.33 620h15.97v1h-15.97zM99.23 621h15.97v1h-15.97zM35.37 623h15.97v1h-15.97zM83.27 623h15.97v1h-15.97zM99.23 623h15.97v1h-15.97zM51.33 624h15.97v1h-15.97zM99.23 624h15.97v1h-15.97zM19.4 627h15.97v1h-15.97zM35.37 627h15.97v1h-15.97zM83.27 627h15.97v1h-15.97zM99.23 627h15.97v1h-15.97zM19.4 628h15.97v1h-15.97zM35.37 628h15.97v1h-15.97zM51.33 628h15.97v1h-15.97zM67.3 628h15.97v1h-15.97zM83.27 628h15.97v1h-15.97zM99.23 628h15.97v1h-15.97z"/>
<path fill="#1d5589" d="M35.37 567h15.97v1h-15.97zM35.37 569h15.97v1h-15.97zM83.27 575h15.97v1h-15.97zM35.37 584h15.97v1h-15.97zM35.37 585h15.97v1h-15.97zM35.37 587h15.97v1h-15.97zM67.3 599h15.97v1h-15.97zM35.37 602h15.97v1h-15.97zM19.4 608h15.97v1h-15.97zM51.33 608h15.97v1h-15.97zM35.37 611h15.97v1h-15.97zM99.23 611h15.97v1h-15.97zM99.23 619h15.97v1h-15.97zM83.27 620h15.97v1h-15.97zM99.23 620h15.97v1h-15.97zM19.4 626h15.97v1h-15.97zM35.37 626h15.97v1h-15.97zM51.33 626h15.97v1h-15.97zM67.3 626h15.97v1h-15.97zM83.27 626h15.97v1h-15.97zM99.23 626h15.97v1h-15.97z"/>
</g>
<text x="1.6" y="106.3" font-size="9.3" font-weight="bold" fill="#000">b</text>
<text x="10.0" y="156.2" font-size="13.4" text-anchor="middle" fill="#111" transform="rotate(-90 10.0 156.2)">Fast Decay</text>
<text x="10.0" y="548.1" font-size="13.5" text-anchor="middle" fill="#111" transform="rotate(-90 10.0 548.1)" xml:space="preserve" style="white-space:pre">Slow  Decay</text>
<text x="31.38" y="635.0" font-size="7.8" font-style="italic" text-anchor="end" fill="#111" transform="rotate(-70 31.38 635.0)">15</text>
<text x="47.35" y="635.0" font-size="7.8" font-style="italic" text-anchor="end" fill="#111" transform="rotate(-70 47.35 635.0)">30</text>
<text x="63.32" y="635.0" font-size="7.8" font-style="italic" text-anchor="end" fill="#111" transform="rotate(-70 63.32 635.0)">60</text>
<text x="79.28" y="635.0" font-size="7.8" font-style="italic" text-anchor="end" fill="#111" transform="rotate(-70 79.28 635.0)">120</text>
<text x="95.25" y="635.0" font-size="7.8" font-style="italic" text-anchor="end" fill="#111" transform="rotate(-70 95.25 635.0)">240</text>
<text x="111.22" y="635.0" font-size="7.8" font-style="italic" text-anchor="end" fill="#111" transform="rotate(-70 111.22 635.0)">480</text>
<text x="60.2" y="652.8" font-size="8" text-anchor="middle" fill="#111">min</text>
<text x="21.6" y="663.8" font-size="9.2" fill="#111">Relative abundance</text>
<defs><linearGradient id="cbg" x1="0" y1="0" x2="1" y2="0"><stop offset="0" stop-color="#d3e4ee"/><stop offset="0.25" stop-color="#cde1ec"/><stop offset="0.45" stop-color="#c0dbe9"/><stop offset="0.55" stop-color="#9ccbe3"/><stop offset="0.65" stop-color="#6fb0d6"/><stop offset="0.75" stop-color="#4a92c2"/><stop offset="0.88" stop-color="#2d72aa"/><stop offset="1" stop-color="#1b5a94"/></linearGradient></defs>
<rect x="22.4" y="669" width="88.4" height="5.2" fill="url(#cbg)"/>
<path d="M23 669v1.5M23 674.2v-1.5" stroke="#2c6ea6" stroke-width="0.8"/>
<text x="22.4" y="685.1" font-size="9" text-anchor="middle" fill="#111">0</text>
<path d="M44.85 669v1.5M44.85 674.2v-1.5" stroke="#2c6ea6" stroke-width="0.8"/>
<text x="44.3" y="685.1" font-size="9" text-anchor="middle" fill="#111">0.25</text>
<path d="M66.7 669v1.5M66.7 674.2v-1.5" stroke="#2c6ea6" stroke-width="0.8"/>
<text x="66.4" y="685.1" font-size="9" text-anchor="middle" fill="#111">0.5</text>
<path d="M88.55 669v1.5M88.55 674.2v-1.5" stroke="#2c6ea6" stroke-width="0.8"/>
<text x="87.8" y="685.1" font-size="9" text-anchor="middle" fill="#111">0.75</text>
<path d="M110.4 669v1.5M110.4 674.2v-1.5" stroke="#2c6ea6" stroke-width="0.8"/>
<text x="109.3" y="685.1" font-size="9" text-anchor="middle" fill="#111">1</text>
<defs>
<linearGradient id="shootg" x1="0" y1="0" x2="0" y2="1">
<stop offset="0" stop-color="#d9ab35"/><stop offset="0.3" stop-color="#dcb95a"/><stop offset="0.5" stop-color="#e3dcc4"/><stop offset="0.8" stop-color="#d9dad0"/><stop offset="1" stop-color="#cfcfbf"/>
</linearGradient>
<linearGradient id="seedg" x1="0" y1="0" x2="1" y2="0">
<stop offset="0" stop-color="#d6aa4c"/><stop offset="0.35" stop-color="#dcb557"/><stop offset="0.7" stop-color="#cb9d47"/><stop offset="1" stop-color="#a77a3a"/>
</linearGradient>
<linearGradient id="seedg2" x1="0" y1="0" x2="0" y2="1">
<stop offset="0" stop-color="#b98f3e" stop-opacity="0.35"/><stop offset="0.35" stop-color="#f0d080" stop-opacity="0.25"/><stop offset="0.7" stop-color="#c79a45" stop-opacity="0"/><stop offset="1" stop-color="#9c7430" stop-opacity="0.45"/>
</linearGradient>
<linearGradient id="barg" x1="0" y1="0" x2="1" y2="0">
<stop offset="0" stop-color="#ffffff"/><stop offset="0.12" stop-color="#f4f4f4"/><stop offset="0.5" stop-color="#d6d6d6"/><stop offset="1" stop-color="#b4b4b4"/>
</linearGradient>
</defs>
<text x="14.2" y="8.6" font-size="9.3" font-weight="bold" fill="#000">a</text>
<text x="72" y="9.2" font-size="11.6" text-anchor="middle" fill="#b3282d">Cordycepin</text>
<text x="71.3" y="19.3" font-size="8.7" text-anchor="middle" fill="#b3282d">(arrest transcription)</text>
<path d="M34 71.3C33.5 72.3 32.33 75.13 31 77.3C29.67 79.47 27.37 82.3 26 84.3C24.63 86.3 23.33 88.47 22.8 89.3" fill="none" stroke="#d6d6c6" stroke-width="0.7" stroke-linecap="round"/>
<path d="M34 71.3C33.83 72.47 33.25 76.13 33 78.3C32.75 80.47 32.7 82.63 32.5 84.3C32.3 85.97 31.92 87.63 31.8 88.3" fill="none" stroke="#d6d6c6" stroke-width="0.7" stroke-linecap="round"/>
<path d="M34 71.3C34.25 72.3 34.83 75.3 35.5 77.3C36.17 79.3 37.05 81.05 38 83.3C38.95 85.55 40.67 89.55 41.2 90.8" fill="none" stroke="#d6d6c6" stroke-width="0.7" stroke-linecap="round"/>
<path d="M34 71.3C33.33 71.97 31.5 73.97 30 75.3C28.5 76.63 26.33 77.88 25 79.3C23.67 80.72 22.5 83.05 22 83.8" fill="none" stroke="#d6d6c6" stroke-width="0.7" stroke-linecap="round"/>
<path d="M34 71.3C34.08 72.3 34.17 75.47 34.5 77.3C34.83 79.13 35.65 80.8 36 82.3C36.35 83.8 36.5 85.63 36.6 86.3" fill="none" stroke="#d6d6c6" stroke-width="0.7" stroke-linecap="round"/>
<path d="M32.15 20.9C32.39 22.12 33.1 24.8 33.6 28.2C34.1 31.6 34.9 36.92 35.15 41.3C35.4 45.68 35.32 50.57 35.1 54.5C34.88 58.43 34.18 62.1 33.85 64.9C33.52 67.7 33.23 70.23 33.1 71.3L34.9 71.3C35.21 70.23 36.12 67.7 36.75 64.9C37.38 62.1 38.32 58.43 38.7 54.5C39.08 50.57 39.33 45.68 39.05 41.3C38.77 36.92 37.73 31.6 37 28.2C36.27 24.8 35.04 22.12 34.65 20.9Z" fill="url(#shootg)" stroke="none"/>
<ellipse cx="43" cy="71.4" rx="8.3" ry="4.5" fill="url(#seedg)"/>
<ellipse cx="43" cy="71.4" rx="8.3" ry="4.5" fill="url(#seedg2)" stroke="#a9843a" stroke-width="0.35"/>
<line x1="35.95" y1="71.6" x2="49.64" y2="70.9" stroke="#7a5a22" stroke-width="0.4" stroke-dasharray="1.8 0.7" opacity="0.65"/>
<path d="M53.4 72.5C52.9 73.33 51.57 75.67 50.4 77.5C49.23 79.33 47.57 81.67 46.4 83.5C45.23 85.33 43.9 87.67 43.4 88.5" fill="none" stroke="#d6d6c6" stroke-width="0.7" stroke-linecap="round"/>
<path d="M53.4 72.5C53.32 73.5 52.98 76.67 52.9 78.5C52.82 80.33 52.88 81.92 52.9 83.5C52.92 85.08 52.98 87.25 53 88" fill="none" stroke="#d6d6c6" stroke-width="0.7" stroke-linecap="round"/>
<path d="M53.4 72.5C53.73 73.33 54.48 75.83 55.4 77.5C56.32 79.17 57.65 80.75 58.9 82.5C60.15 84.25 62.23 87.08 62.9 88" fill="none" stroke="#d6d6c6" stroke-width="0.7" stroke-linecap="round"/>
<path d="M53.4 72.5C52.73 73.08 50.73 74.67 49.4 76C48.07 77.33 46.57 78.83 45.4 80.5C44.23 82.17 42.9 85.08 42.4 86" fill="none" stroke="#d6d6c6" stroke-width="0.7" stroke-linecap="round"/>
<path d="M53.4 72.5C53.57 73.5 53.98 76.83 54.4 78.5C54.82 80.17 55.47 81.17 55.9 82.5C56.33 83.83 56.82 85.83 57 86.5" fill="none" stroke="#d6d6c6" stroke-width="0.7" stroke-linecap="round"/>
<path d="M51.95 20.9C52.51 22.55 54.38 26.95 55.3 30.8C56.22 34.65 57.22 39.95 57.45 44C57.68 48.05 57.18 51.45 56.7 55.1C56.22 58.75 55.25 63 54.55 65.9C53.85 68.8 52.84 71.4 52.5 72.5L54.3 72.5C54.83 71.4 56.45 68.8 57.45 65.9C58.45 63 59.65 58.75 60.3 55.1C60.95 51.45 61.62 48.05 61.35 44C61.08 39.95 59.85 34.65 58.7 30.8C57.55 26.95 55.16 22.55 54.45 20.9Z" fill="url(#shootg)" stroke="none"/>
<ellipse cx="61.3" cy="71.9" rx="7.7" ry="3.9" fill="url(#seedg)"/>
<ellipse cx="61.3" cy="71.9" rx="7.7" ry="3.9" fill="url(#seedg2)" stroke="#a9843a" stroke-width="0.35"/>
<line x1="54.76" y1="72.1" x2="67.46" y2="71.4" stroke="#7a5a22" stroke-width="0.4" stroke-dasharray="1.8 0.7" opacity="0.65"/>
<path d="M80.4 21.5L74.5 27.6L77.1 30.4L70.6 34.3" fill="none" stroke="#b0232a" stroke-width="1.0" stroke-linejoin="miter"/>
<path d="M67.2 36.4L72.3 32.4L73.4 35.8Z" fill="#b0232a"/>
<path d="M68.8 57.95L99.6 57.4L96 54.4L114.8 58.25L96 62.1L99.6 59.1L68.8 58.55Z" fill="#231815"/>
<rect x="128" y="56" width="254" height="3.6" rx="1.8" fill="url(#barg)"/>
<path d="M130.91 46.08C130.57 46.77 129.76 48.72 128.84 50.22C127.92 51.71 126.34 53.67 125.39 55.05C124.45 56.43 123.55 57.92 123.19 58.5" fill="none" stroke="#d6d6c6" stroke-width="0.54" stroke-linecap="round"/>
<path d="M130.91 46.08C130.8 46.88 130.4 49.41 130.22 50.91C130.05 52.4 130.02 53.9 129.88 55.05C129.74 56.2 129.48 57.35 129.4 57.81" fill="none" stroke="#d6d6c6" stroke-width="0.54" stroke-linecap="round"/>
<path d="M130.91 46.08C131.09 46.77 131.49 48.84 131.95 50.22C132.41 51.6 133.02 52.8 133.67 54.36C134.33 55.91 135.51 58.67 135.88 59.53" fill="none" stroke="#d6d6c6" stroke-width="0.54" stroke-linecap="round"/>
<path d="M130.91 46.08C130.45 46.54 129.19 47.92 128.15 48.84C127.12 49.76 125.62 50.62 124.7 51.6C123.78 52.57 122.98 54.18 122.63 54.7" fill="none" stroke="#d6d6c6" stroke-width="0.54" stroke-linecap="round"/>
<path d="M130.91 46.08C130.97 46.77 131.03 48.95 131.26 50.22C131.49 51.48 132.05 52.63 132.29 53.67C132.54 54.7 132.64 55.97 132.71 56.43" fill="none" stroke="#d6d6c6" stroke-width="0.54" stroke-linecap="round"/>
<path d="M129.64 11.3C129.8 12.14 130.29 13.99 130.64 16.34C130.98 18.68 131.54 22.35 131.71 25.38C131.88 28.4 131.82 31.77 131.67 34.48C131.52 37.2 131.04 39.73 130.81 41.66C130.58 43.59 130.38 45.34 130.29 46.08L131.53 46.08C131.75 45.34 132.37 43.59 132.81 41.66C133.25 39.73 133.89 37.2 134.16 34.48C134.42 31.77 134.59 28.4 134.4 25.38C134.2 22.35 133.49 18.68 132.98 16.34C132.48 13.99 131.63 12.14 131.36 11.3Z" fill="url(#shootg)" stroke="none"/>
<ellipse cx="137.12" cy="46.14" rx="5.73" ry="3.1" fill="url(#seedg)"/>
<ellipse cx="137.12" cy="46.14" rx="5.73" ry="3.1" fill="url(#seedg2)" stroke="#a9843a" stroke-width="0.24"/>
<line x1="132.26" y1="46.28" x2="141.71" y2="45.8" stroke="#7a5a22" stroke-width="0.28" stroke-dasharray="1.24 0.48" opacity="0.65"/>
<path d="M144.91 46.08C144.57 46.77 143.76 48.72 142.84 50.22C141.92 51.71 140.34 53.67 139.39 55.05C138.45 56.43 137.55 57.92 137.19 58.5" fill="none" stroke="#d6d6c6" stroke-width="0.54" stroke-linecap="round"/>
<path d="M144.91 46.08C144.8 46.88 144.4 49.41 144.22 50.91C144.05 52.4 144.02 53.9 143.88 55.05C143.74 56.2 143.48 57.35 143.4 57.81" fill="none" stroke="#d6d6c6" stroke-width="0.54" stroke-linecap="round"/>
<path d="M144.91 46.08C145.09 46.77 145.49 48.84 145.95 50.22C146.41 51.6 147.02 52.8 147.67 54.36C148.33 55.91 149.51 58.67 149.88 59.53" fill="none" stroke="#d6d6c6" stroke-width="0.54" stroke-linecap="round"/>
<path d="M144.91 46.08C144.45 46.54 143.19 47.92 142.15 48.84C141.12 49.76 139.62 50.62 138.7 51.6C137.78 52.57 136.98 54.18 136.63 54.7" fill="none" stroke="#d6d6c6" stroke-width="0.54" stroke-linecap="round"/>
<path d="M144.91 46.08C144.97 46.77 145.03 48.95 145.26 50.22C145.49 51.48 146.05 52.63 146.29 53.67C146.54 54.7 146.64 55.97 146.71 56.43" fill="none" stroke="#d6d6c6" stroke-width="0.54" stroke-linecap="round"/>
<path d="M143.64 11.3C143.8 12.14 144.29 13.99 144.64 16.34C144.98 18.68 145.54 22.35 145.71 25.38C145.88 28.4 145.82 31.77 145.67 34.48C145.52 37.2 145.04 39.73 144.81 41.66C144.58 43.59 144.38 45.34 144.29 46.08L145.53 46.08C145.75 45.34 146.37 43.59 146.81 41.66C147.25 39.73 147.89 37.2 148.16 34.48C148.42 31.77 148.59 28.4 148.4 25.38C148.2 22.35 147.49 18.68 146.98 16.34C146.48 13.99 145.63 12.14 145.36 11.3Z" fill="url(#shootg)" stroke="none"/>
<ellipse cx="151.12" cy="46.14" rx="5.73" ry="3.1" fill="url(#seedg)"/>
<ellipse cx="151.12" cy="46.14" rx="5.73" ry="3.1" fill="url(#seedg2)" stroke="#a9843a" stroke-width="0.24"/>
<line x1="146.26" y1="46.28" x2="155.71" y2="45.8" stroke="#7a5a22" stroke-width="0.28" stroke-dasharray="1.24 0.48" opacity="0.65"/>
<path d="M160.71 46.08C160.37 46.77 159.56 48.72 158.64 50.22C157.72 51.71 156.14 53.67 155.19 55.05C154.25 56.43 153.35 57.92 152.99 58.5" fill="none" stroke="#d6d6c6" stroke-width="0.54" stroke-linecap="round"/>
<path d="M160.71 46.08C160.6 46.88 160.2 49.41 160.02 50.91C159.85 52.4 159.82 53.9 159.68 55.05C159.54 56.2 159.28 57.35 159.2 57.81" fill="none" stroke="#d6d6c6" stroke-width="0.54" stroke-linecap="round"/>
<path d="M160.71 46.08C160.89 46.77 161.29 48.84 161.75 50.22C162.21 51.6 162.82 52.8 163.47 54.36C164.13 55.91 165.31 58.67 165.68 59.53" fill="none" stroke="#d6d6c6" stroke-width="0.54" stroke-linecap="round"/>
<path d="M160.71 46.08C160.25 46.54 158.99 47.92 157.95 48.84C156.92 49.76 155.42 50.62 154.5 51.6C153.58 52.57 152.78 54.18 152.43 54.7" fill="none" stroke="#d6d6c6" stroke-width="0.54" stroke-linecap="round"/>
<path d="M160.71 46.08C160.77 46.77 160.83 48.95 161.06 50.22C161.29 51.48 161.85 52.63 162.09 53.67C162.34 54.7 162.44 55.97 162.51 56.43" fill="none" stroke="#d6d6c6" stroke-width="0.54" stroke-linecap="round"/>
<path d="M159.44 11.3C159.6 12.14 160.09 13.99 160.44 16.34C160.78 18.68 161.34 22.35 161.51 25.38C161.68 28.4 161.62 31.77 161.47 34.48C161.32 37.2 160.84 39.73 160.61 41.66C160.38 43.59 160.18 45.34 160.09 46.08L161.34 46.08C161.55 45.34 162.17 43.59 162.61 41.66C163.05 39.73 163.69 37.2 163.96 34.48C164.22 31.77 164.39 28.4 164.2 25.38C164 22.35 163.29 18.68 162.78 16.34C162.28 13.99 161.43 12.14 161.16 11.3Z" fill="url(#shootg)" stroke="none"/>
<ellipse cx="166.92" cy="46.14" rx="5.73" ry="3.1" fill="url(#seedg)"/>
<ellipse cx="166.92" cy="46.14" rx="5.73" ry="3.1" fill="url(#seedg2)" stroke="#a9843a" stroke-width="0.24"/>
<line x1="162.06" y1="46.28" x2="171.51" y2="45.8" stroke="#7a5a22" stroke-width="0.28" stroke-dasharray="1.24 0.48" opacity="0.65"/>
<path d="M182.81 46.08C182.47 46.77 181.66 48.72 180.74 50.22C179.82 51.71 178.24 53.67 177.29 55.05C176.35 56.43 175.45 57.92 175.09 58.5" fill="none" stroke="#d6d6c6" stroke-width="0.54" stroke-linecap="round"/>
<path d="M182.81 46.08C182.7 46.88 182.3 49.41 182.12 50.91C181.95 52.4 181.92 53.9 181.78 55.05C181.64 56.2 181.38 57.35 181.3 57.81" fill="none" stroke="#d6d6c6" stroke-width="0.54" stroke-linecap="round"/>
<path d="M182.81 46.08C182.99 46.77 183.39 48.84 183.85 50.22C184.31 51.6 184.92 52.8 185.57 54.36C186.23 55.91 187.41 58.67 187.78 59.53" fill="none" stroke="#d6d6c6" stroke-width="0.54" stroke-linecap="round"/>
<path d="M182.81 46.08C182.35 46.54 181.09 47.92 180.05 48.84C179.02 49.76 177.52 50.62 176.6 51.6C175.68 52.57 174.88 54.18 174.53 54.7" fill="none" stroke="#d6d6c6" stroke-width="0.54" stroke-linecap="round"/>
<path d="M182.81 46.08C182.87 46.77 182.93 48.95 183.16 50.22C183.39 51.48 183.95 52.63 184.19 53.67C184.44 54.7 184.54 55.97 184.61 56.43" fill="none" stroke="#d6d6c6" stroke-width="0.54" stroke-linecap="round"/>
<path d="M181.54 11.3C181.7 12.14 182.19 13.99 182.54 16.34C182.88 18.68 183.44 22.35 183.61 25.38C183.78 28.4 183.72 31.77 183.57 34.48C183.42 37.2 182.94 39.73 182.71 41.66C182.48 43.59 182.28 45.34 182.19 46.08L183.44 46.08C183.65 45.34 184.27 43.59 184.71 41.66C185.15 39.73 185.79 37.2 186.06 34.48C186.32 31.77 186.49 28.4 186.3 25.38C186.1 22.35 185.39 18.68 184.88 16.34C184.38 13.99 183.53 12.14 183.26 11.3Z" fill="url(#shootg)" stroke="none"/>
<ellipse cx="189.02" cy="46.14" rx="5.73" ry="3.1" fill="url(#seedg)"/>
<ellipse cx="189.02" cy="46.14" rx="5.73" ry="3.1" fill="url(#seedg2)" stroke="#a9843a" stroke-width="0.24"/>
<line x1="184.16" y1="46.28" x2="193.61" y2="45.8" stroke="#7a5a22" stroke-width="0.28" stroke-dasharray="1.24 0.48" opacity="0.65"/>
<path d="M215.91 46.08C215.57 46.77 214.76 48.72 213.84 50.22C212.92 51.71 211.34 53.67 210.39 55.05C209.45 56.43 208.55 57.92 208.19 58.5" fill="none" stroke="#d6d6c6" stroke-width="0.54" stroke-linecap="round"/>
<path d="M215.91 46.08C215.8 46.88 215.4 49.41 215.22 50.91C215.05 52.4 215.02 53.9 214.88 55.05C214.74 56.2 214.48 57.35 214.4 57.81" fill="none" stroke="#d6d6c6" stroke-width="0.54" stroke-linecap="round"/>
<path d="M215.91 46.08C216.09 46.77 216.49 48.84 216.95 50.22C217.41 51.6 218.02 52.8 218.67 54.36C219.33 55.91 220.51 58.67 220.88 59.53" fill="none" stroke="#d6d6c6" stroke-width="0.54" stroke-linecap="round"/>
<path d="M215.91 46.08C215.45 46.54 214.19 47.92 213.15 48.84C212.12 49.76 210.62 50.62 209.7 51.6C208.78 52.57 207.98 54.18 207.63 54.7" fill="none" stroke="#d6d6c6" stroke-width="0.54" stroke-linecap="round"/>
<path d="M215.91 46.08C215.97 46.77 216.03 48.95 216.26 50.22C216.49 51.48 217.05 52.63 217.29 53.67C217.54 54.7 217.64 55.97 217.71 56.43" fill="none" stroke="#d6d6c6" stroke-width="0.54" stroke-linecap="round"/>
<path d="M214.64 11.3C214.8 12.14 215.29 13.99 215.64 16.34C215.98 18.68 216.54 22.35 216.71 25.38C216.88 28.4 216.82 31.77 216.67 34.48C216.52 37.2 216.04 39.73 215.81 41.66C215.58 43.59 215.38 45.34 215.29 46.08L216.53 46.08C216.75 45.34 217.37 43.59 217.81 41.66C218.25 39.73 218.89 37.2 219.16 34.48C219.42 31.77 219.59 28.4 219.4 25.38C219.2 22.35 218.49 18.68 217.98 16.34C217.48 13.99 216.63 12.14 216.36 11.3Z" fill="url(#shootg)" stroke="none"/>
<ellipse cx="222.12" cy="46.14" rx="5.73" ry="3.1" fill="url(#seedg)"/>
<ellipse cx="222.12" cy="46.14" rx="5.73" ry="3.1" fill="url(#seedg2)" stroke="#a9843a" stroke-width="0.24"/>
<line x1="217.26" y1="46.28" x2="226.71" y2="45.8" stroke="#7a5a22" stroke-width="0.28" stroke-dasharray="1.24 0.48" opacity="0.65"/>
<path d="M260.11 46.08C259.77 46.77 258.96 48.72 258.04 50.22C257.12 51.71 255.54 53.67 254.59 55.05C253.65 56.43 252.75 57.92 252.39 58.5" fill="none" stroke="#d6d6c6" stroke-width="0.54" stroke-linecap="round"/>
<path d="M260.11 46.08C260 46.88 259.6 49.41 259.42 50.91C259.25 52.4 259.22 53.9 259.08 55.05C258.94 56.2 258.68 57.35 258.6 57.81" fill="none" stroke="#d6d6c6" stroke-width="0.54" stroke-linecap="round"/>
<path d="M260.11 46.08C260.29 46.77 260.69 48.84 261.15 50.22C261.61 51.6 262.22 52.8 262.87 54.36C263.53 55.91 264.71 58.67 265.08 59.53" fill="none" stroke="#d6d6c6" stroke-width="0.54" stroke-linecap="round"/>
<path d="M260.11 46.08C259.65 46.54 258.39 47.92 257.35 48.84C256.32 49.76 254.82 50.62 253.9 51.6C252.98 52.57 252.18 54.18 251.83 54.7" fill="none" stroke="#d6d6c6" stroke-width="0.54" stroke-linecap="round"/>
<path d="M260.11 46.08C260.17 46.77 260.23 48.95 260.46 50.22C260.69 51.48 261.25 52.63 261.49 53.67C261.74 54.7 261.84 55.97 261.91 56.43" fill="none" stroke="#d6d6c6" stroke-width="0.54" stroke-linecap="round"/>
<path d="M258.84 11.3C259 12.14 259.49 13.99 259.84 16.34C260.18 18.68 260.73 22.35 260.91 25.38C261.08 28.4 261.02 31.77 260.87 34.48C260.72 37.2 260.24 39.73 260.01 41.66C259.78 43.59 259.58 45.34 259.49 46.08L260.73 46.08C260.95 45.34 261.57 43.59 262.01 41.66C262.45 39.73 263.09 37.2 263.36 34.48C263.62 31.77 263.79 28.4 263.6 25.38C263.4 22.35 262.69 18.68 262.18 16.34C261.68 13.99 260.83 12.14 260.56 11.3Z" fill="url(#shootg)" stroke="none"/>
<ellipse cx="266.32" cy="46.14" rx="5.73" ry="3.1" fill="url(#seedg)"/>
<ellipse cx="266.32" cy="46.14" rx="5.73" ry="3.1" fill="url(#seedg2)" stroke="#a9843a" stroke-width="0.24"/>
<line x1="261.46" y1="46.28" x2="270.91" y2="45.8" stroke="#7a5a22" stroke-width="0.28" stroke-dasharray="1.24 0.48" opacity="0.65"/>
<path d="M369.41 46.08C369.07 46.77 368.26 48.72 367.34 50.22C366.42 51.71 364.84 53.67 363.89 55.05C362.95 56.43 362.05 57.92 361.69 58.5" fill="none" stroke="#d6d6c6" stroke-width="0.54" stroke-linecap="round"/>
<path d="M369.41 46.08C369.3 46.88 368.9 49.41 368.72 50.91C368.55 52.4 368.52 53.9 368.38 55.05C368.24 56.2 367.98 57.35 367.9 57.81" fill="none" stroke="#d6d6c6" stroke-width="0.54" stroke-linecap="round"/>
<path d="M369.41 46.08C369.59 46.77 369.99 48.84 370.45 50.22C370.91 51.6 371.52 52.8 372.17 54.36C372.83 55.91 374.01 58.67 374.38 59.53" fill="none" stroke="#d6d6c6" stroke-width="0.54" stroke-linecap="round"/>
<path d="M369.41 46.08C368.95 46.54 367.69 47.92 366.65 48.84C365.62 49.76 364.12 50.62 363.2 51.6C362.28 52.57 361.48 54.18 361.13 54.7" fill="none" stroke="#d6d6c6" stroke-width="0.54" stroke-linecap="round"/>
<path d="M369.41 46.08C369.47 46.77 369.53 48.95 369.76 50.22C369.99 51.48 370.55 52.63 370.79 53.67C371.04 54.7 371.14 55.97 371.21 56.43" fill="none" stroke="#d6d6c6" stroke-width="0.54" stroke-linecap="round"/>
<path d="M368.14 11.3C368.3 12.14 368.79 13.99 369.14 16.34C369.48 18.68 370.03 22.35 370.21 25.38C370.38 28.4 370.32 31.77 370.17 34.48C370.02 37.2 369.54 39.73 369.31 41.66C369.08 43.59 368.88 45.34 368.79 46.08L370.03 46.08C370.25 45.34 370.87 43.59 371.31 41.66C371.75 39.73 372.39 37.2 372.66 34.48C372.92 31.77 373.09 28.4 372.9 25.38C372.7 22.35 371.99 18.68 371.48 16.34C370.98 13.99 370.13 12.14 369.86 11.3Z" fill="url(#shootg)" stroke="none"/>
<ellipse cx="375.62" cy="46.14" rx="5.73" ry="3.1" fill="url(#seedg)"/>
<ellipse cx="375.62" cy="46.14" rx="5.73" ry="3.1" fill="url(#seedg2)" stroke="#a9843a" stroke-width="0.24"/>
<line x1="370.76" y1="46.28" x2="380.21" y2="45.8" stroke="#7a5a22" stroke-width="0.28" stroke-dasharray="1.24 0.48" opacity="0.65"/>
<line x1="130.5" y1="56.5" x2="130.5" y2="62" stroke="#333" stroke-width="0.6" stroke-dasharray="1 0.8"/>
<text x="130.5" y="69.3" font-size="8.6" text-anchor="middle" font-weight="bold" fill="#111">0</text>
<line x1="145.7" y1="56.5" x2="145.7" y2="62" stroke="#333" stroke-width="0.6" stroke-dasharray="1 0.8"/>
<text x="145.7" y="69.3" font-size="8.6" text-anchor="middle" font-weight="bold" fill="#111">15</text>
<line x1="160.8" y1="56.5" x2="160.8" y2="62" stroke="#333" stroke-width="0.6" stroke-dasharray="1 0.8"/>
<text x="160.8" y="69.3" font-size="8.6" text-anchor="middle" font-weight="bold" fill="#111">30</text>
<line x1="185.5" y1="56.5" x2="185.5" y2="62" stroke="#333" stroke-width="0.6" stroke-dasharray="1 0.8"/>
<text x="185.5" y="69.3" font-size="8.6" text-anchor="middle" font-weight="bold" fill="#111">60</text>
<line x1="218.9" y1="56.5" x2="218.9" y2="62" stroke="#333" stroke-width="0.6" stroke-dasharray="1 0.8"/>
<text x="218.9" y="69.3" font-size="8.6" text-anchor="middle" font-weight="bold" fill="#111">120</text>
<line x1="262.9" y1="56.5" x2="262.9" y2="62" stroke="#333" stroke-width="0.6" stroke-dasharray="1 0.8"/>
<text x="262.9" y="69.3" font-size="8.6" text-anchor="middle" font-weight="bold" fill="#111">240</text>
<line x1="372" y1="56.5" x2="372" y2="62" stroke="#333" stroke-width="0.6" stroke-dasharray="1 0.8"/>
<text x="363.6" y="68.8" font-size="8.6" font-weight="bold" fill="#111">480 min</text>
<path d="M397.5 58.25L428 57.8L424.3 54.8L443.8 58.5L424.3 62.2L428 59.2L397.5 58.75Z" fill="#231815"/>
<text x="450.6" y="63.4" font-size="13.9" fill="#1a1a1a">RNA-Seq</text>
<text x="145" y="107.2" font-size="9.3" font-weight="bold" fill="#000">c</text>
<path d="M191.2 113.8V232H305.8" fill="none" stroke="#222" stroke-width="1.1"/>
<line x1="186.6" y1="114.28" x2="191.2" y2="114.28" stroke="#222" stroke-width="1.0"/>
<text x="185.6" y="117.28" font-size="8.4" text-anchor="end" fill="#151515">1.25</text>
<line x1="186.6" y1="136.9" x2="191.2" y2="136.9" stroke="#222" stroke-width="1.0"/>
<text x="185.6" y="139.9" font-size="8.4" text-anchor="end" fill="#151515">1.00</text>
<line x1="186.6" y1="159.53" x2="191.2" y2="159.53" stroke="#222" stroke-width="1.0"/>
<text x="185.6" y="162.53" font-size="8.4" text-anchor="end" fill="#151515">0.75</text>
<line x1="186.6" y1="182.15" x2="191.2" y2="182.15" stroke="#222" stroke-width="1.0"/>
<text x="185.6" y="185.15" font-size="8.4" text-anchor="end" fill="#151515">0.50</text>
<line x1="186.6" y1="204.78" x2="191.2" y2="204.78" stroke="#222" stroke-width="1.0"/>
<text x="185.6" y="207.78" font-size="8.4" text-anchor="end" fill="#151515">0.25</text>
<line x1="186.6" y1="227.4" x2="191.2" y2="227.4" stroke="#222" stroke-width="1.0"/>
<text x="185.6" y="230.4" font-size="8.4" text-anchor="end" fill="#151515">0.00</text>
<line x1="197.6" y1="232" x2="197.6" y2="236.2" stroke="#222" stroke-width="0.9"/>
<line x1="200.79" y1="232" x2="200.79" y2="236.2" stroke="#222" stroke-width="0.9"/>
<line x1="203.97" y1="232" x2="203.97" y2="236.2" stroke="#222" stroke-width="0.9"/>
<line x1="210.35" y1="232" x2="210.35" y2="236.2" stroke="#222" stroke-width="0.9"/>
<line x1="223.1" y1="232" x2="223.1" y2="236.2" stroke="#222" stroke-width="0.9"/>
<line x1="248.6" y1="232" x2="248.6" y2="236.2" stroke="#222" stroke-width="0.9"/>
<line x1="299.6" y1="232" x2="299.6" y2="236.2" stroke="#222" stroke-width="0.9"/>
<text x="196.6" y="242.9" font-size="5.0" text-anchor="middle" fill="#151515">0</text>
<text x="200.9" y="242.9" font-size="5.0" text-anchor="middle" fill="#151515">15</text>
<text x="206.6" y="242.9" font-size="5.0" text-anchor="middle" fill="#151515">30</text>
<text x="212.3" y="242.9" font-size="5.0" text-anchor="middle" fill="#151515">60</text>
<text x="223.9" y="242.9" font-size="4.9" text-anchor="middle" fill="#151515">120</text>
<text x="249.2" y="242.9" font-size="4.9" text-anchor="middle" fill="#151515">240</text>
<text x="300.0" y="242.9" font-size="4.9" text-anchor="middle" fill="#151515">480</text>
<text x="248.0" y="253.7" font-size="9.3" text-anchor="middle" fill="#111">Cordycepin incubation(min)</text>
<text x="165.9" y="173" font-size="9.2" text-anchor="middle" fill="#111" transform="rotate(-90 165.9 173)">Relative abundance</text>
<path d="M197.6 136.9C197.67 137.27 197.85 138.55 198.03 139.15C198.2 139.74 198.38 139.99 198.66 140.45C198.95 140.91 199.37 141.49 199.72 141.92C200.08 142.36 200.36 142.65 200.79 143.05C201.21 143.46 201.74 143.93 202.28 144.35C202.81 144.77 203.16 145.07 203.97 145.6C204.79 146.13 206.1 146.95 207.16 147.55C208.22 148.16 208.76 148.47 210.35 149.2C211.94 149.94 214.6 151.12 216.72 151.97C218.85 152.82 220.62 153.46 223.1 154.3C225.58 155.14 228.77 156.15 231.6 156.99C234.43 157.83 237.27 158.61 240.1 159.36C242.93 160.11 245.06 160.66 248.6 161.51C252.14 162.35 257.1 163.49 261.35 164.41C265.6 165.33 269.85 166.2 274.1 167.04C278.35 167.88 282.6 168.67 286.85 169.45C291.1 170.23 297.48 171.32 299.6 171.7" fill="none" stroke="#1b7a4c" stroke-width="1.2"/>
<path d="M197.6 136.9C197.71 138.41 198.02 142.93 198.24 145.95C198.45 148.97 198.63 152.28 198.88 155C199.12 157.72 199.41 159.9 199.72 162.24C200.04 164.58 200.36 166.84 200.79 169.03C201.21 171.21 201.74 173.55 202.28 175.36C202.81 177.17 203.16 178.23 203.97 179.89C204.79 181.55 206.1 183.81 207.16 185.32C208.22 186.83 208.76 187.58 210.35 188.94C211.94 190.3 214.6 192 216.72 193.46C218.85 194.93 220.12 196.13 223.1 197.72C226.07 199.3 230.32 201.26 234.57 202.97C238.82 204.67 244.14 206.51 248.6 207.94C253.06 209.38 257.1 210.46 261.35 211.56C265.6 212.66 269.85 213.66 274.1 214.55C278.35 215.44 282.6 216.18 286.85 216.9C291.1 217.63 297.48 218.56 299.6 218.89" fill="none" stroke="#8cc043" stroke-width="1.2"/>
<rect x="196.45" y="135.75" width="2.3" height="2.3" rx="0.5" fill="#1b7a4c"/>
<path d="M200.79 140.07V142.78M199.79 140.07h2M199.79 142.78h2" stroke="#1b7a4c" stroke-width="0.8" fill="none"/><rect x="199.64" y="140.28" width="2.3" height="2.3" rx="0.5" fill="#1b7a4c"/>
<path d="M200.79 141.43V145.05M199.79 141.43h2M199.79 145.05h2" stroke="#1b7a4c" stroke-width="0.8" fill="none"/><rect x="199.64" y="142.09" width="2.3" height="2.3" rx="0.5" fill="#1b7a4c"/>
<path d="M200.79 143.24V145.95M199.79 143.24h2M199.79 145.95h2" stroke="#1b7a4c" stroke-width="0.8" fill="none"/><rect x="199.64" y="143.44" width="2.3" height="2.3" rx="0.5" fill="#1b7a4c"/>
<path d="M203.97 145.95V147.76M202.97 145.95h2M202.97 147.76h2" stroke="#1b7a4c" stroke-width="0.8" fill="none"/><rect x="202.82" y="145.71" width="2.3" height="2.3" rx="0.5" fill="#1b7a4c"/>
<path d="M210.35 145.05V151.38M209.35 145.05h2M209.35 151.38h2" stroke="#1b7a4c" stroke-width="0.8" fill="none"/><rect x="209.2" y="147.06" width="2.3" height="2.3" rx="0.5" fill="#1b7a4c"/>
<path d="M210.35 147.76V153.19M209.35 147.76h2M209.35 153.19h2" stroke="#1b7a4c" stroke-width="0.8" fill="none"/><rect x="209.2" y="149.33" width="2.3" height="2.3" rx="0.5" fill="#1b7a4c"/>
<path d="M223.1 153.19V155M222.1 153.19h2M222.1 155h2" stroke="#1b7a4c" stroke-width="0.8" fill="none"/><rect x="221.95" y="152.94" width="2.3" height="2.3" rx="0.5" fill="#1b7a4c"/>
<rect x="247.45" y="146.16" width="2.3" height="2.3" rx="0.5" fill="#1b7a4c"/>
<rect x="298.45" y="180.55" width="2.3" height="2.3" rx="0.5" fill="#1b7a4c"/>
<path d="M197.6 136V139.62M196.6 136h2M196.6 139.62h2" stroke="#8cc043" stroke-width="0.8" fill="none"/><rect x="196.45" y="136.66" width="2.3" height="2.3" rx="0.5" fill="#8cc043"/>
<path d="M200.79 164.05V167.67M199.79 164.05h2M199.79 167.67h2" stroke="#8cc043" stroke-width="0.8" fill="none"/><rect x="199.64" y="164.71" width="2.3" height="2.3" rx="0.5" fill="#8cc043"/>
<path d="M200.79 166.31V170.84M199.79 166.31h2M199.79 170.84h2" stroke="#8cc043" stroke-width="0.8" fill="none"/><rect x="199.64" y="167.42" width="2.3" height="2.3" rx="0.5" fill="#8cc043"/>
<path d="M200.79 171.29V174.91M199.79 171.29h2M199.79 174.91h2" stroke="#8cc043" stroke-width="0.8" fill="none"/><rect x="199.64" y="171.95" width="2.3" height="2.3" rx="0.5" fill="#8cc043"/>
<path d="M203.97 181.97V184.14M202.97 181.97h2M202.97 184.14h2" stroke="#8cc043" stroke-width="0.8" fill="none"/><rect x="202.82" y="181.91" width="2.3" height="2.3" rx="0.5" fill="#8cc043"/>
<path d="M210.35 188.49V192.11M209.35 188.49h2M209.35 192.11h2" stroke="#8cc043" stroke-width="0.8" fill="none"/><rect x="209.2" y="189.15" width="2.3" height="2.3" rx="0.5" fill="#8cc043"/>
<path d="M210.35 191.2V195.73M209.35 191.2h2M209.35 195.73h2" stroke="#8cc043" stroke-width="0.8" fill="none"/><rect x="209.2" y="192.31" width="2.3" height="2.3" rx="0.5" fill="#8cc043"/>
<path d="M210.35 193.92V197.54M209.35 193.92h2M209.35 197.54h2" stroke="#8cc043" stroke-width="0.8" fill="none"/><rect x="209.2" y="194.58" width="2.3" height="2.3" rx="0.5" fill="#8cc043"/>
<path d="M223.1 193.01V196.63M222.1 193.01h2M222.1 196.63h2" stroke="#8cc043" stroke-width="0.8" fill="none"/><rect x="221.95" y="193.67" width="2.3" height="2.3" rx="0.5" fill="#8cc043"/>
<path d="M248.6 202.33V204.5M247.6 202.33h2M247.6 204.5h2" stroke="#8cc043" stroke-width="0.8" fill="none"/><rect x="247.45" y="202.27" width="2.3" height="2.3" rx="0.5" fill="#8cc043"/>
<path d="M299.6 220.61V223.33M298.6 220.61h2M298.6 223.33h2" stroke="#8cc043" stroke-width="0.8" fill="none"/><rect x="298.45" y="220.82" width="2.3" height="2.3" rx="0.5" fill="#8cc043"/>
<line x1="194.8" y1="110.9" x2="205" y2="110.9" stroke="#1b7a4c" stroke-width="1.1"/>
<circle cx="200" cy="110.9" r="1.4" fill="#fff" stroke="#1b7a4c" stroke-width="1.0"/>
<text x="207.6" y="113.4" font-size="7.6" font-style="italic" fill="#151515">TaSWEET13e</text>
<line x1="194.8" y1="122.9" x2="205" y2="122.9" stroke="#8cc043" stroke-width="1.1"/>
<circle cx="200" cy="122.9" r="1.4" fill="#fff" stroke="#8cc043" stroke-width="1.0"/>
<text x="207.6" y="125.4" font-size="7.6" font-style="italic" fill="#151515">TaSWEET17e</text>
<text x="199.8" y="225.9" font-size="10" fill="#151515"><tspan font-style="italic">p</tspan> = 7.05e-09</text>
<path d="M286.8 86.2V161.8" stroke="#222" stroke-width="0.9" fill="none"/>
<line x1="284" y1="161.4" x2="286.8" y2="161.4" stroke="#222" stroke-width="0.8"/>
<text x="282.6" y="164.1" font-size="7.6" text-anchor="end" fill="#151515">0</text>
<line x1="284" y1="148.94" x2="286.8" y2="148.94" stroke="#222" stroke-width="0.8"/>
<text x="282.6" y="151.64" font-size="7.6" text-anchor="end" fill="#151515">1</text>
<line x1="284" y1="136.48" x2="286.8" y2="136.48" stroke="#222" stroke-width="0.8"/>
<text x="282.6" y="139.18" font-size="7.6" text-anchor="end" fill="#151515">2</text>
<line x1="284" y1="124.02" x2="286.8" y2="124.02" stroke="#222" stroke-width="0.8"/>
<text x="282.6" y="126.72" font-size="7.6" text-anchor="end" fill="#151515">3</text>
<line x1="284" y1="111.56" x2="286.8" y2="111.56" stroke="#222" stroke-width="0.8"/>
<text x="282.6" y="114.26" font-size="7.6" text-anchor="end" fill="#151515">4</text>
<line x1="284" y1="99.1" x2="286.8" y2="99.1" stroke="#222" stroke-width="0.8"/>
<text x="282.6" y="101.8" font-size="7.6" text-anchor="end" fill="#151515">5</text>
<line x1="284" y1="86.64" x2="286.8" y2="86.64" stroke="#222" stroke-width="0.8"/>
<text x="282.6" y="89.34" font-size="7.6" text-anchor="end" fill="#151515">6</text>
<text x="273.3" y="124.2" font-size="7.4" text-anchor="middle" fill="#151515" transform="rotate(-90 273.3 124.2)">Relative abundance</text>
<rect x="289.1" y="103" width="6.1" height="58.6" fill="#0f783c"/>
<rect x="297" y="149.2" width="6" height="12.4" fill="#8cc043"/>
<line x1="290.8" y1="102.6" x2="293.6" y2="102.6" stroke="#0b5a2c" stroke-width="0.6"/>
<line x1="298.6" y1="148.8" x2="301.4" y2="148.8" stroke="#5d8a22" stroke-width="0.6"/>
<text x="296.1" y="92.2" font-size="9.2" text-anchor="middle" font-weight="bold" fill="#3a1f1f">***</text>
<line x1="291" y1="93.5" x2="301.2" y2="93.5" stroke="#4a2a2a" stroke-width="0.9"/>
<text x="334.8" y="106.2" font-size="9.3" font-weight="bold" fill="#000">d</text>
<path d="M382.26 229.9v-1.09h0.72v1.09zM382.98 229.9v-1.03h0.72v1.03zM383.7 229.9v-0.62h0.72v0.62zM384.42 229.9v-0.93h0.72v0.93zM385.14 229.9v-1.16h0.72v1.16zM385.86 229.9v-1.03h0.72v1.03zM386.58 229.9v-0.77h0.72v0.77zM387.3 229.9v-1.08h0.72v1.08zM388.02 229.9v-0.73h0.72v0.73zM388.74 229.9v-1.36h0.72v1.36zM389.46 229.9v-1.57h0.72v1.57zM390.18 229.9v-1.35h0.72v1.35zM390.9 229.9v-2.32h0.72v2.32zM391.62 229.9v-2.35h0.72v2.35zM392.34 229.9v-2.1h0.72v2.1zM393.06 229.9v-2.36h0.72v2.36zM393.78 229.9v-4.03h0.72v4.03zM394.5 229.9v-4.29h0.72v4.29zM395.22 229.9v-4.94h0.72v4.94zM395.94 229.9v-5.89h0.72v5.89zM396.66 229.9v-6.42h0.72v6.42zM397.38 229.9v-6.59h0.72v6.59zM398.1 229.9v-7.44h0.72v7.44zM398.82 229.9v-8.72h0.72v8.72zM399.54 229.9v-8.17h0.72v8.17zM400.26 229.9v-9.12h0.72v9.12zM400.98 229.9v-11.43h0.72v11.43zM401.7 229.9v-12.05h0.72v12.05zM402.42 229.9v-13.63h0.72v13.63zM403.14 229.9v-14.89h0.72v14.89zM403.86 229.9v-15.19h0.72v15.19zM404.58 229.9v-16.67h0.72v16.67zM405.3 229.9v-17.85h0.72v17.85zM406.02 229.9v-19.73h0.72v19.73zM406.74 229.9v-22.23h0.72v22.23zM407.46 229.9v-21.52h0.72v21.52zM408.18 229.9v-24.1h0.72v24.1zM408.9 229.9v-26.17h0.72v26.17zM409.62 229.9v-27.71h0.72v27.71zM410.34 229.9v-29.68h0.72v29.68zM411.06 229.9v-34.79h0.72v34.79zM411.78 229.9v-29.11h0.72v29.11zM412.5 229.9v-37.16h0.72v37.16zM413.22 229.9v-39.42h0.72v39.42zM413.94 229.9v-43.4h0.72v43.4zM414.66 229.9v-43.78h0.72v43.78zM415.38 229.9v-51.57h0.72v51.57zM416.1 229.9v-48.22h0.72v48.22zM416.82 229.9v-53.3h0.72v53.3zM417.54 229.9v-51.25h0.72v51.25zM418.26 229.9v-53.93h0.72v53.93zM418.98 229.9v-55.4h0.72v55.4zM419.7 229.9v-64.51h0.72v64.51zM420.42 229.9v-60.18h0.72v60.18zM421.14 229.9v-67.05h0.72v67.05zM421.86 229.9v-72.61h0.72v72.61zM422.58 229.9v-70.98h0.72v70.98zM423.3 229.9v-70.82h0.72v70.82zM424.02 229.9v-82.07h0.72v82.07zM424.74 229.9v-79.25h0.72v79.25zM425.46 229.9v-80.55h0.72v80.55zM426.18 229.9v-85.5h0.72v85.5zM426.9 229.9v-88.59h0.72v88.59zM427.62 229.9v-96.13h0.72v96.13zM428.34 229.9v-90.05h0.72v90.05zM429.06 229.9v-97.07h0.72v97.07zM429.78 229.9v-93.97h0.72v93.97zM430.5 229.9v-95.85h0.72v95.85zM431.22 229.9v-95.14h0.72v95.14zM431.94 229.9v-98.55h0.72v98.55zM432.66 229.9v-100.61h0.72v100.61zM433.38 229.9v-95.33h0.72v95.33zM434.1 229.9v-103.32h0.72v103.32zM434.82 229.9v-106.9h0.72v106.9zM435.54 229.9v-110.12h0.72v110.12zM436.26 229.9v-107.76h0.72v107.76zM436.98 229.9v-107.87h0.72v107.87zM437.7 229.9v-112.61h0.72v112.61zM438.42 229.9v-112.83h0.72v112.83zM439.14 229.9v-108.7h0.72v108.7zM439.86 229.9v-116.04h0.72v116.04zM440.58 229.9v-110.73h0.72v110.73zM441.3 229.9v-104.94h0.72v104.94zM442.02 229.9v-108.83h0.72v108.83zM442.74 229.9v-106.63h0.72v106.63zM443.46 229.9v-105.04h0.72v105.04zM444.18 229.9v-104.96h0.72v104.96zM444.9 229.9v-107.34h0.72v107.34zM445.62 229.9v-105.69h0.72v105.69zM446.34 229.9v-102.99h0.72v102.99zM447.06 229.9v-101.84h0.72v101.84zM447.78 229.9v-107.53h0.72v107.53zM448.5 229.9v-115.39h0.72v115.39zM449.22 229.9v-112.22h0.72v112.22zM449.94 229.9v-92.13h0.72v92.13zM450.66 229.9v-103.78h0.72v103.78zM451.38 229.9v-99.04h0.72v99.04zM452.1 229.9v-96.36h0.72v96.36zM452.82 229.9v-98.5h0.72v98.5zM453.54 229.9v-99.07h0.72v99.07zM454.26 229.9v-94.52h0.72v94.52zM454.98 229.9v-96.9h0.72v96.9zM455.7 229.9v-100.37h0.72v100.37zM456.42 229.9v-101.03h0.72v101.03zM457.14 229.9v-95.2h0.72v95.2zM457.86 229.9v-95.74h0.72v95.74zM458.58 229.9v-89.21h0.72v89.21zM459.3 229.9v-82.78h0.72v82.78zM460.02 229.9v-76.85h0.72v76.85zM460.74 229.9v-79.58h0.72v79.58zM461.46 229.9v-81.46h0.72v81.46zM462.18 229.9v-73.02h0.72v73.02zM462.9 229.9v-76.16h0.72v76.16zM463.62 229.9v-69.3h0.72v69.3zM464.34 229.9v-76.68h0.72v76.68zM465.06 229.9v-75.45h0.72v75.45zM465.78 229.9v-68.26h0.72v68.26zM466.5 229.9v-61.11h0.72v61.11zM467.22 229.9v-65.77h0.72v65.77zM467.94 229.9v-61.36h0.72v61.36zM468.66 229.9v-56.66h0.72v56.66zM469.38 229.9v-57.77h0.72v57.77zM470.1 229.9v-57.73h0.72v57.73zM470.82 229.9v-55.84h0.72v55.84zM471.54 229.9v-58.15h0.72v58.15zM472.26 229.9v-54.67h0.72v54.67zM472.98 229.9v-50.04h0.72v50.04zM473.7 229.9v-47.54h0.72v47.54zM474.42 229.9v-45.5h0.72v45.5zM475.14 229.9v-46.88h0.72v46.88zM475.86 229.9v-46.61h0.72v46.61zM476.58 229.9v-42.31h0.72v42.31zM477.3 229.9v-42.9h0.72v42.9zM478.02 229.9v-39.07h0.72v39.07zM478.74 229.9v-39.48h0.72v39.48zM479.46 229.9v-38.85h0.72v38.85zM480.18 229.9v-36.38h0.72v36.38zM480.9 229.9v-34.18h0.72v34.18zM481.62 229.9v-33.83h0.72v33.83zM482.34 229.9v-33.62h0.72v33.62zM483.06 229.9v-30.85h0.72v30.85zM483.78 229.9v-32.88h0.72v32.88zM484.5 229.9v-27.59h0.72v27.59zM485.22 229.9v-29.36h0.72v29.36zM485.94 229.9v-28.66h0.72v28.66zM486.66 229.9v-28.19h0.72v28.19zM487.38 229.9v-30.55h0.72v30.55zM488.1 229.9v-26.72h0.72v26.72zM488.82 229.9v-28.97h0.72v28.97zM489.54 229.9v-28.52h0.72v28.52zM490.26 229.9v-31.11h0.72v31.11zM490.98 229.9v-30.21h0.72v30.21zM491.7 229.9v-29.4h0.72v29.4zM492.42 229.9v-30.07h0.72v30.07zM493.14 229.9v-29.92h0.72v29.92zM493.86 229.9v-32.34h0.72v32.34zM494.58 229.9v-32.3h0.72v32.3zM495.3 229.9v-28.25h0.72v28.25zM496.02 229.9v-32.17h0.72v32.17zM496.74 229.9v-31.09h0.72v31.09zM497.46 229.9v-31.27h0.72v31.27zM498.18 229.9v-31.73h0.72v31.73zM498.9 229.9v-31.73h0.72v31.73zM499.62 229.9v-34.68h0.72v34.68zM500.34 229.9v-31.02h0.72v31.02zM501.06 229.9v-33.76h0.72v33.76zM501.78 229.9v-32.94h0.72v32.94zM502.5 229.9v-30.95h0.72v30.95zM503.22 229.9v-30.07h0.72v30.07zM503.94 229.9v-29.59h0.72v29.59zM504.66 229.9v-31.06h0.72v31.06zM505.38 229.9v-30.32h0.72v30.32zM506.1 229.9v-28.39h0.72v28.39zM506.82 229.9v-26.83h0.72v26.83zM507.54 229.9v-26.58h0.72v26.58zM508.26 229.9v-25.47h0.72v25.47zM508.98 229.9v-27.03h0.72v27.03zM509.7 229.9v-27.98h0.72v27.98zM510.42 229.9v-26.23h0.72v26.23zM511.14 229.9v-23.13h0.72v23.13zM511.86 229.9v-24.46h0.72v24.46zM512.58 229.9v-24.26h0.72v24.26zM513.3 229.9v-22.77h0.72v22.77zM514.02 229.9v-20.47h0.72v20.47zM514.74 229.9v-21.57h0.72v21.57zM515.46 229.9v-19.34h0.72v19.34zM516.18 229.9v-18.79h0.72v18.79zM516.9 229.9v-18.51h0.72v18.51zM517.62 229.9v-16.49h0.72v16.49zM518.34 229.9v-16.23h0.72v16.23zM519.06 229.9v-12.9h0.72v12.9zM519.78 229.9v-11.38h0.72v11.38z" fill="#b5b5b5" stroke="#b5b5b5" stroke-width="0.15"/>
<path d="M376 110V235.2H527" fill="none" stroke="#222" stroke-width="1.25"/>
<line x1="370.8" y1="229.8" x2="376" y2="229.8" stroke="#222" stroke-width="1.0"/>
<text x="360.6" y="233.2" font-size="9.7" text-anchor="middle" fill="#151515">0</text>
<line x1="370.8" y1="207.2" x2="376" y2="207.2" stroke="#222" stroke-width="1.0"/>
<text x="360.6" y="210.6" font-size="9.7" text-anchor="middle" fill="#151515">100</text>
<line x1="370.8" y1="184.6" x2="376" y2="184.6" stroke="#222" stroke-width="1.0"/>
<text x="360.6" y="188" font-size="9.7" text-anchor="middle" fill="#151515">200</text>
<line x1="370.8" y1="162" x2="376" y2="162" stroke="#222" stroke-width="1.0"/>
<text x="360.6" y="165.4" font-size="9.7" text-anchor="middle" fill="#151515">300</text>
<line x1="370.8" y1="139.4" x2="376" y2="139.4" stroke="#222" stroke-width="1.0"/>
<text x="360.6" y="142.8" font-size="9.7" text-anchor="middle" fill="#151515">400</text>
<line x1="370.8" y1="116.8" x2="376" y2="116.8" stroke="#222" stroke-width="1.0"/>
<text x="360.6" y="120.2" font-size="9.7" text-anchor="middle" fill="#151515">500</text>
<line x1="400.8" y1="235" x2="400.8" y2="239.4" stroke="#222" stroke-width="1.0"/>
<text x="400.8" y="250.4" font-size="9.4" text-anchor="middle" fill="#151515">5</text>
<line x1="446.4" y1="235" x2="446.4" y2="239.4" stroke="#222" stroke-width="1.0"/>
<text x="446.4" y="250.4" font-size="9.4" text-anchor="middle" fill="#151515">60</text>
<line x1="505" y1="235" x2="505" y2="239.4" stroke="#222" stroke-width="1.0"/>
<text x="505" y="250.4" font-size="9.4" text-anchor="middle" fill="#151515">1500</text>
<text x="345.8" y="169" font-size="10.7" text-anchor="middle" fill="#111" transform="rotate(-90 345.8 169)">Count</text>
<text x="379" y="117.4" font-size="7.55" fill="#222">mean=6.15 h</text>
<text x="441.4" y="263" font-size="8.8" fill="#151515"><tspan font-style="italic">t</tspan><tspan font-size="5.8" dy="1.4">1/2</tspan><tspan font-size="7.2" dy="-2">(min)</tspan></text>
<text x="144.8" y="276.2" font-size="9.3" font-weight="bold" fill="#000">e</text>
<path d="M190 269.6V381H303.8" fill="none" stroke="#111" stroke-width="1.05"/>
<line x1="186.2" y1="276.7" x2="190" y2="276.7" stroke="#222" stroke-width="1.0"/>
<text x="185.2" y="279.7" font-size="8.5" text-anchor="end" fill="#151515">1.0</text>
<line x1="186.2" y1="297.3" x2="190" y2="297.3" stroke="#222" stroke-width="1.0"/>
<text x="185.2" y="300.3" font-size="8.5" text-anchor="end" fill="#151515">0.9</text>
<line x1="186.2" y1="317.9" x2="190" y2="317.9" stroke="#222" stroke-width="1.0"/>
<text x="185.2" y="320.9" font-size="8.5" text-anchor="end" fill="#151515">0.8</text>
<line x1="186.2" y1="338.5" x2="190" y2="338.5" stroke="#222" stroke-width="1.0"/>
<text x="185.2" y="341.5" font-size="8.5" text-anchor="end" fill="#151515">0.7</text>
<line x1="186.2" y1="359.1" x2="190" y2="359.1" stroke="#222" stroke-width="1.0"/>
<text x="185.2" y="362.1" font-size="8.5" text-anchor="end" fill="#151515">0.6</text>
<line x1="186.2" y1="379.7" x2="190" y2="379.7" stroke="#222" stroke-width="1.0"/>
<text x="185.2" y="382.7" font-size="8.5" text-anchor="end" fill="#151515">0.5</text>
<line x1="195.5" y1="381" x2="195.5" y2="385" stroke="#222" stroke-width="0.9"/>
<line x1="198.69" y1="381" x2="198.69" y2="385" stroke="#222" stroke-width="0.9"/>
<line x1="201.88" y1="381" x2="201.88" y2="385" stroke="#222" stroke-width="0.9"/>
<line x1="208.26" y1="381" x2="208.26" y2="385" stroke="#222" stroke-width="0.9"/>
<line x1="221.02" y1="381" x2="221.02" y2="385" stroke="#222" stroke-width="0.9"/>
<line x1="246.55" y1="381" x2="246.55" y2="385" stroke="#222" stroke-width="0.9"/>
<line x1="297.6" y1="381" x2="297.6" y2="385" stroke="#222" stroke-width="0.9"/>
<text x="194.2" y="390.9" font-size="5.0" text-anchor="middle" fill="#151515">0</text>
<text x="198.4" y="390.9" font-size="5.0" text-anchor="middle" fill="#151515">15</text>
<text x="204.0" y="390.9" font-size="5.0" text-anchor="middle" fill="#151515">30</text>
<text x="209.6" y="390.9" font-size="5.0" text-anchor="middle" fill="#151515">60</text>
<text x="222.8" y="390.9" font-size="4.9" text-anchor="middle" fill="#151515">120</text>
<text x="247.9" y="390.9" font-size="4.9" text-anchor="middle" fill="#151515">240</text>
<text x="298.6" y="390.9" font-size="4.9" text-anchor="middle" fill="#151515">480</text>
<text x="244.6" y="401" font-size="7.8" text-anchor="middle" fill="#111">Cordycepin incubation(min)</text>
<text x="166.6" y="322.6" font-size="9.5" text-anchor="middle" fill="#111" transform="rotate(-90 166.6 322.6)">Relative abundance</text>
<path d="M195.5 276.7C195.57 280.13 195.75 291.12 195.93 297.3C196.1 303.48 196.32 309.14 196.56 313.78C196.81 318.41 197.06 322.29 197.41 325.11C197.77 327.93 197.95 328.85 198.69 330.67C199.43 332.49 200.29 333.35 201.88 336.03C203.48 338.71 205.07 343.34 208.26 346.74C211.45 350.14 216.56 353.68 221.02 356.42C225.49 359.17 230.81 361.47 235.06 363.22C239.32 364.97 240.38 365.38 246.55 366.93C252.72 368.47 263.56 370.84 272.07 372.49C280.58 374.14 293.34 376.09 297.6 376.82" fill="none" stroke="#7fb1da" stroke-width="1.2"/>
<path d="M195.5 276.7C195.57 279.45 195.75 288.37 195.93 293.18C196.1 297.99 196.32 302.11 196.56 305.54C196.81 308.97 197.06 311.62 197.41 313.78C197.77 315.94 197.95 317.25 198.69 318.52C199.43 319.79 200.29 319.69 201.88 321.4C203.48 323.12 205.07 326.38 208.26 328.82C211.45 331.26 216.56 334.21 221.02 336.03C225.49 337.85 230.81 338.81 235.06 339.74C239.32 340.66 240.38 340.59 246.55 341.59C252.72 342.59 263.56 344.47 272.07 345.71C280.58 346.95 293.34 348.46 297.6 349.01" fill="none" stroke="#2f74b8" stroke-width="1.2"/>
<path d="M195.5 276.7C195.57 278.76 195.75 285.11 195.93 289.06C196.1 293.01 196.32 297.47 196.56 300.39C196.81 303.31 197.06 304.96 197.41 306.57C197.77 308.18 197.95 308.53 198.69 310.07C199.43 311.62 200.29 313.4 201.88 315.84C203.48 318.28 205.07 321.92 208.26 324.7C211.45 327.48 216.56 330.84 221.02 332.53C225.49 334.21 230.81 334.14 235.06 334.79C239.32 335.44 240.38 335.65 246.55 336.44C252.72 337.23 263.56 338.6 272.07 339.53C280.58 340.46 293.34 341.59 297.6 342" fill="none" stroke="#1f5aa6" stroke-width="1.2"/>
<path d="M198.69 328.2V332.32M197.79 328.2h1.8M197.79 332.32h1.8" stroke="#7fb1da" stroke-width="0.7" fill="none"/><circle cx="198.69" cy="330.26" r="1.4" fill="#fff" fill-opacity="0.7" stroke="#7fb1da" stroke-width="0.8"/>
<path d="M201.88 331.91V336.85M200.98 331.91h1.8M200.98 336.85h1.8" stroke="#7fb1da" stroke-width="0.7" fill="none"/><circle cx="201.88" cy="334.38" r="1.4" fill="#fff" fill-opacity="0.7" stroke="#7fb1da" stroke-width="0.8"/>
<path d="M208.26 336.44V344.68M207.36 336.44h1.8M207.36 344.68h1.8" stroke="#7fb1da" stroke-width="0.7" fill="none"/><circle cx="208.26" cy="340.56" r="1.4" fill="#fff" fill-opacity="0.7" stroke="#7fb1da" stroke-width="0.8"/>
<path d="M208.26 339.53V351.89M207.36 339.53h1.8M207.36 351.89h1.8" stroke="#7fb1da" stroke-width="0.7" fill="none"/><circle cx="208.26" cy="345.71" r="1.4" fill="#fff" fill-opacity="0.7" stroke="#7fb1da" stroke-width="0.8"/>
<circle cx="221.02" cy="364.25" r="1.4" fill="#fff" fill-opacity="0.7" stroke="#7fb1da" stroke-width="0.8"/>
<path d="M246.55 366.72V378.26M245.65 366.72h1.8M245.65 378.26h1.8" stroke="#7fb1da" stroke-width="0.7" fill="none"/><circle cx="246.55" cy="372.49" r="1.4" fill="#fff" fill-opacity="0.7" stroke="#7fb1da" stroke-width="0.8"/>
<circle cx="297.6" cy="367.34" r="1.4" fill="#fff" fill-opacity="0.7" stroke="#7fb1da" stroke-width="0.8"/>
<path d="M195.5 274.23V279.17M194.6 274.23h1.8M194.6 279.17h1.8" stroke="#2f74b8" stroke-width="0.7" fill="none"/><circle cx="195.5" cy="276.7" r="1.4" fill="#fff" fill-opacity="0.7" stroke="#2f74b8" stroke-width="0.8"/>
<path d="M198.69 315.84V319.96M197.79 315.84h1.8M197.79 319.96h1.8" stroke="#2f74b8" stroke-width="0.7" fill="none"/><circle cx="198.69" cy="317.9" r="1.4" fill="#fff" fill-opacity="0.7" stroke="#2f74b8" stroke-width="0.8"/>
<path d="M201.88 316.25V319.55M200.98 316.25h1.8M200.98 319.55h1.8" stroke="#2f74b8" stroke-width="0.7" fill="none"/><circle cx="201.88" cy="317.9" r="1.4" fill="#fff" fill-opacity="0.7" stroke="#2f74b8" stroke-width="0.8"/>
<path d="M208.26 334.38V338.5M207.36 334.38h1.8M207.36 338.5h1.8" stroke="#2f74b8" stroke-width="0.7" fill="none"/><circle cx="208.26" cy="336.44" r="1.4" fill="#fff" fill-opacity="0.7" stroke="#2f74b8" stroke-width="0.8"/>
<path d="M221.02 334.17V336.65M220.12 334.17h1.8M220.12 336.65h1.8" stroke="#2f74b8" stroke-width="0.7" fill="none"/><circle cx="221.02" cy="335.41" r="1.4" fill="#fff" fill-opacity="0.7" stroke="#2f74b8" stroke-width="0.8"/>
<circle cx="246.55" cy="341.59" r="1.4" fill="#fff" fill-opacity="0.7" stroke="#2f74b8" stroke-width="0.8"/>
<circle cx="297.6" cy="341.59" r="1.4" fill="#fff" fill-opacity="0.7" stroke="#2f74b8" stroke-width="0.8"/>
<path d="M198.69 309.25V314.19M197.79 309.25h1.8M197.79 314.19h1.8" stroke="#1f5aa6" stroke-width="0.7" fill="none"/><circle cx="198.69" cy="311.72" r="1.4" fill="#fff" fill-opacity="0.7" stroke="#1f5aa6" stroke-width="0.8"/>
<path d="M201.88 310.69V314.81M200.98 310.69h1.8M200.98 314.81h1.8" stroke="#1f5aa6" stroke-width="0.7" fill="none"/><circle cx="201.88" cy="312.75" r="1.4" fill="#fff" fill-opacity="0.7" stroke="#1f5aa6" stroke-width="0.8"/>
<path d="M208.26 319.34V330.88M207.36 319.34h1.8M207.36 330.88h1.8" stroke="#1f5aa6" stroke-width="0.7" fill="none"/><circle cx="208.26" cy="325.11" r="1.4" fill="#fff" fill-opacity="0.7" stroke="#1f5aa6" stroke-width="0.8"/>
<path d="M208.26 332.32V340.56M207.36 332.32h1.8M207.36 340.56h1.8" stroke="#1f5aa6" stroke-width="0.7" fill="none"/><circle cx="208.26" cy="336.44" r="1.4" fill="#fff" fill-opacity="0.7" stroke="#1f5aa6" stroke-width="0.8"/>
<path d="M221.02 331.5V336.44M220.12 331.5h1.8M220.12 336.44h1.8" stroke="#1f5aa6" stroke-width="0.7" fill="none"/><circle cx="221.02" cy="333.97" r="1.4" fill="#fff" fill-opacity="0.7" stroke="#1f5aa6" stroke-width="0.8"/>
<path d="M246.55 335.2V337.68M245.65 335.2h1.8M245.65 337.68h1.8" stroke="#1f5aa6" stroke-width="0.7" fill="none"/><circle cx="246.55" cy="336.44" r="1.4" fill="#fff" fill-opacity="0.7" stroke="#1f5aa6" stroke-width="0.8"/>
<path d="M297.6 339.74V342.21M296.7 339.74h1.8M296.7 342.21h1.8" stroke="#1f5aa6" stroke-width="0.7" fill="none"/><circle cx="297.6" cy="340.97" r="1.4" fill="#fff" fill-opacity="0.7" stroke="#1f5aa6" stroke-width="0.8"/>
<circle cx="297.6" cy="340.15" r="1.4" fill="#fff" fill-opacity="0.7" stroke="#1f5aa6" stroke-width="0.8"/>
<line x1="232.4" y1="274.3" x2="239.4" y2="274.3" stroke="#1f5aa6" stroke-width="1.1"/>
<circle cx="235.9" cy="274.3" r="1.4" fill="#fff" stroke="#1f5aa6" stroke-width="0.9"/>
<text x="241.8" y="276.90000000000003" font-size="7.2" fill="#151515">Genome</text>
<line x1="232.4" y1="284.8" x2="239.4" y2="284.8" stroke="#2f74b8" stroke-width="1.1"/>
<circle cx="235.9" cy="284.8" r="1.4" fill="#fff" stroke="#2f74b8" stroke-width="0.9"/>
<text x="241.8" y="287.40000000000003" font-size="7.2" fill="#151515">miRNA targets</text>
<line x1="232.4" y1="295.3" x2="239.4" y2="295.3" stroke="#7fb1da" stroke-width="1.1"/>
<circle cx="235.9" cy="295.3" r="1.4" fill="#fff" stroke="#7fb1da" stroke-width="0.9"/>
<text x="241.8" y="297.90000000000003" font-size="7.2" fill="#151515">Intronless genes</text>
<defs><filter id="blur" x="-10%" y="-10%" width="120%" height="120%"><feGaussianBlur stdDeviation="0.45"/></filter><clipPath id="clipf"><rect x="405" y="286" width="99" height="110.5"/></clipPath><clipPath id="clipg"><rect x="190" y="442" width="78.5" height="87.5"/></clipPath><clipPath id="cliph"><rect x="191.8" y="572.3" width="76.8" height="87"/></clipPath></defs>
<text x="374.4" y="275.2" font-size="9.3" font-weight="bold" fill="#000">f</text>
<g filter="url(#blur)" clip-path="url(#clipf)">
<path d="M409.89 318.35C410.53 316.21 412.07 313.69 413.72 312.26C415.38 310.83 417.29 310 419.81 309.78C422.33 309.55 425.45 310.3 428.84 310.9C432.22 311.51 436.54 312.6 440.12 313.39C443.69 314.18 447.26 314.7 450.27 315.64C453.28 316.58 455.53 317.9 458.16 319.03C460.79 320.15 463.8 321.28 466.06 322.41C468.31 323.54 469.82 324.48 471.7 325.79C473.58 327.11 475.76 328.54 477.34 330.3C478.92 332.07 480.01 334.25 481.17 336.4C482.34 338.54 483.69 341.28 484.33 343.16C484.97 345.04 485.12 345.79 485.01 347.67C484.89 349.55 484.14 352.56 483.65 354.44C483.16 356.32 482.83 357.07 482.07 358.95C481.32 360.83 480.08 363.84 479.14 365.72C478.2 367.6 477.45 368.5 476.43 370.23C475.42 371.96 474.22 374.52 473.05 376.1C471.89 377.68 470.98 378.54 469.44 379.71C467.9 380.87 465.68 382.15 463.8 383.09C461.92 384.03 460.23 384.59 458.16 385.35C456.09 386.1 453.65 387.11 451.4 387.6C449.14 388.09 446.7 388.47 444.63 388.28C442.56 388.09 440.87 387.34 438.99 386.47C437.11 385.61 435.23 384.22 433.35 383.09C431.47 381.96 429.59 381.02 427.71 379.71C425.83 378.39 423.61 376.92 422.07 375.2C420.53 373.47 419.44 371.29 418.46 369.33C417.48 367.37 416.96 365.76 416.2 363.46C415.45 361.17 414.55 358.2 413.95 355.57C413.35 352.94 413.05 350.31 412.6 347.67C412.14 345.04 411.62 342.41 411.24 339.78C410.87 337.15 410.57 334.33 410.34 331.88C410.11 329.44 409.96 327.37 409.89 325.12C409.81 322.86 409.25 320.49 409.89 318.35Z" fill="#f8efec"/>
<path d="M411.02 319.25C411.58 316.21 413.23 314.85 415.08 313.61C416.92 312.37 417.9 311.54 422.07 311.81C426.24 312.07 434.1 313.65 440.12 315.19C446.13 316.73 453.09 318.95 458.16 321.06C463.24 323.16 467.37 325.34 470.57 327.82C473.77 330.3 475.72 333.01 477.34 335.94C478.95 338.88 480.01 342.71 480.27 345.42C480.53 348.13 479.78 350.12 478.92 352.19C478.05 354.25 476.47 356.25 475.08 357.83C473.69 359.4 471.7 360.34 470.57 361.66C469.44 362.98 468.58 364.22 468.31 365.72C468.05 367.22 469.74 368.88 468.99 370.68C468.24 372.49 466.28 375.04 463.8 376.55C461.32 378.05 457.11 379.26 454.1 379.71C451.09 380.16 448.09 380.08 445.76 379.26C443.42 378.43 441.43 376.55 440.12 374.74C438.8 372.94 439.18 370.01 437.86 368.43C436.54 366.85 434.48 366.47 432.22 365.27C429.97 364.07 426.77 363.24 424.33 361.21C421.88 359.18 419.29 356.02 417.56 353.09C415.83 350.16 414.93 347.15 413.95 343.61C412.97 340.08 412.18 335.94 411.69 331.88C411.2 327.82 410.45 322.3 411.02 319.25Z" fill="#f3e2dd"/>
<path d="M412.14 320.6C412.63 317.67 413.8 315.98 415.75 314.74C417.71 313.5 419.81 312.9 423.87 313.16C427.93 313.42 434.63 314.89 440.12 316.32C445.61 317.75 452 319.89 456.81 321.73C461.62 323.57 465.98 325.19 468.99 327.37C472 329.55 473.5 332.11 474.86 334.82C476.21 337.52 477.19 340.87 477.11 343.61C477.04 346.36 475.83 349.1 474.4 351.28C472.98 353.46 471.02 355.19 468.54 356.7C466.06 358.2 462.75 359.33 459.52 360.31C456.28 361.28 452.37 362.26 449.14 362.56C445.91 362.86 443.05 362.49 440.12 362.11C437.18 361.74 434.18 361.06 431.54 360.31C428.91 359.55 426.43 358.95 424.33 357.6C422.22 356.25 420.42 354.44 418.91 352.19C417.41 349.93 416.32 347.37 415.3 344.06C414.29 340.76 413.35 336.24 412.82 332.33C412.29 328.42 411.66 323.54 412.14 320.6Z" fill="#edd2cb"/>
<path d="M412.6 321.28C413.08 318.57 414.25 316.84 416.2 315.64C418.16 314.44 420.34 313.8 424.33 314.06C428.31 314.33 434.85 315.79 440.12 317.22C445.38 318.65 451.4 320.79 455.91 322.63C460.42 324.48 464.4 326.13 467.19 328.27C469.97 330.42 471.4 332.94 472.6 335.49C473.8 338.05 474.55 341.13 474.4 343.61C474.25 346.1 473.13 348.43 471.7 350.38C470.27 352.34 468.16 353.99 465.83 355.34C463.5 356.7 460.64 357.68 457.71 358.5C454.78 359.33 451.24 360.08 448.24 360.31C445.23 360.53 442.45 360.23 439.67 359.86C436.88 359.48 434.1 358.8 431.54 358.05C428.99 357.3 426.43 356.62 424.33 355.34C422.22 354.07 420.38 352.49 418.91 350.38C417.45 348.28 416.47 345.79 415.53 342.71C414.59 339.63 413.76 335.46 413.27 331.88C412.78 328.31 412.11 323.99 412.6 321.28Z" fill="#e4bdb3"/>
<path d="M413.05 321.96C413.54 319.48 414.7 317.71 416.66 316.54C418.61 315.38 420.87 314.7 424.78 314.97C428.69 315.23 435.08 316.69 440.12 318.12C445.15 319.55 450.79 321.69 455 323.54C459.22 325.38 462.82 327.07 465.38 329.18C467.94 331.28 469.29 333.76 470.34 336.17C471.4 338.58 471.92 341.36 471.7 343.61C471.47 345.87 470.42 347.98 468.99 349.7C467.56 351.43 465.38 352.83 463.13 353.99C460.87 355.16 458.16 356.02 455.46 356.7C452.75 357.37 449.67 357.9 446.88 358.05C444.1 358.2 441.39 357.98 438.76 357.6C436.13 357.22 433.5 356.55 431.09 355.8C428.69 355.04 426.36 354.29 424.33 353.09C422.3 351.89 420.34 350.53 418.91 348.58C417.48 346.62 416.62 344.22 415.75 341.36C414.89 338.5 414.17 334.67 413.72 331.43C413.27 328.2 412.56 324.44 413.05 321.96Z" fill="#dba99c"/>
<path d="M413.5 322.63C413.99 320.42 415.15 318.54 417.11 317.45C419.06 316.36 421.39 315.79 425.23 316.09C429.06 316.39 435.3 317.86 440.12 319.25C444.93 320.64 450.19 322.63 454.1 324.44C458.01 326.24 461.25 328.01 463.58 330.08C465.91 332.15 467.19 334.59 468.09 336.85C468.99 339.1 469.29 341.58 468.99 343.61C468.69 345.64 467.71 347.52 466.28 349.03C464.85 350.53 462.6 351.66 460.42 352.64C458.24 353.61 455.68 354.37 453.2 354.89C450.72 355.42 448.09 355.72 445.53 355.8C442.97 355.87 440.34 355.72 437.86 355.34C435.38 354.97 432.97 354.29 430.64 353.54C428.31 352.79 425.83 351.96 423.87 350.83C421.92 349.7 420.23 348.58 418.91 346.77C417.6 344.97 416.77 342.67 415.98 340C415.19 337.34 414.59 333.65 414.17 330.76C413.76 327.86 413.01 324.85 413.5 322.63Z" fill="#d09484"/>
<path d="M413.95 323.31C414.48 321.36 415.6 319.36 417.56 318.35C419.51 317.33 421.99 316.84 425.68 317.22C429.36 317.6 435.15 319.21 439.67 320.6C444.18 322 449.14 323.84 452.75 325.57C456.36 327.3 459.22 329.03 461.32 330.98C463.43 332.94 464.63 335.19 465.38 337.3C466.13 339.4 466.28 341.73 465.83 343.61C465.38 345.49 464.18 347.3 462.67 348.58C461.17 349.85 458.84 350.61 456.81 351.28C454.78 351.96 452.67 352.34 450.49 352.64C448.31 352.94 445.98 353.16 443.73 353.09C441.47 353.01 439.21 352.64 436.96 352.19C434.7 351.73 432.37 351.06 430.19 350.38C428.01 349.7 425.75 349.18 423.87 348.13C421.99 347.07 420.19 345.79 418.91 344.06C417.63 342.34 416.96 340.08 416.2 337.75C415.45 335.42 414.78 332.49 414.4 330.08C414.02 327.67 413.42 325.27 413.95 323.31Z" fill="#c6806d"/>
<path d="M414.63 324.21C415.19 322.71 416.32 320.42 418.23 319.48C420.15 318.54 422.63 318.16 426.13 318.57C429.63 318.99 435 320.64 439.21 321.96C443.42 323.27 448.09 324.82 451.4 326.47C454.7 328.12 457.26 330 459.06 331.88C460.87 333.76 461.77 335.87 462.22 337.75C462.67 339.63 462.45 341.66 461.77 343.16C461.1 344.67 459.74 345.87 458.16 346.77C456.58 347.67 454.25 348.16 452.3 348.58C450.34 348.99 448.46 349.22 446.43 349.25C444.4 349.29 442.22 349.07 440.12 348.8C438.01 348.54 435.91 348.09 433.8 347.67C431.69 347.26 429.51 346.92 427.48 346.32C425.45 345.72 423.27 345.12 421.62 344.06C419.96 343.01 418.57 341.66 417.56 340C416.54 338.35 415.98 336.06 415.53 334.14C415.08 332.22 415 330.15 414.85 328.5C414.7 326.85 414.06 325.72 414.63 324.21Z" fill="#bc705b"/>
<path d="M415.3 325.12C415.87 323.46 417.03 321.66 418.91 320.83C420.79 320 423.42 319.74 426.58 320.15C429.74 320.57 434.18 322.03 437.86 323.31C441.54 324.59 445.76 326.24 448.69 327.82C451.62 329.4 453.88 331.13 455.46 332.79C457.03 334.44 458.01 336.24 458.16 337.75C458.31 339.25 457.49 340.68 456.36 341.81C455.23 342.94 453.2 343.91 451.4 344.52C449.59 345.12 447.56 345.34 445.53 345.42C443.5 345.49 441.32 345.19 439.21 344.97C437.11 344.74 435 344.44 432.9 344.06C430.79 343.69 428.61 343.31 426.58 342.71C424.55 342.11 422.3 341.51 420.72 340.46C419.14 339.4 417.97 338.01 417.11 336.4C416.24 334.78 415.83 332.64 415.53 330.76C415.23 328.88 414.74 326.77 415.3 325.12Z" fill="#b3614c"/>
<path d="M434.48 331.43C435.57 330.76 439.1 330.23 441.24 330.53C443.39 330.83 446.02 332.26 447.33 333.24C448.65 334.21 449.52 335.49 449.14 336.4C448.76 337.3 446.73 338.5 445.08 338.65C443.42 338.8 440.94 337.97 439.21 337.3C437.48 336.62 435.49 335.57 434.7 334.59C433.91 333.61 433.39 332.11 434.48 331.43Z" fill="#aa533e"/>
</g>
<rect x="405" y="285.8" width="99.2" height="110.8" fill="none" stroke="#3a2c2c" stroke-width="1.0"/>
<text x="405.3" y="279.3" font-size="8.3" fill="#151515">Genome</text>
<line x1="409.7" y1="396.6" x2="409.7" y2="399.8" stroke="#3a2c2c" stroke-width="0.8"/>
<text x="409.7" y="408.8" font-size="8.3" text-anchor="middle" fill="#151515">0.0</text>
<line x1="427.7" y1="396.6" x2="427.7" y2="399.8" stroke="#3a2c2c" stroke-width="0.8"/>
<text x="427.7" y="408.8" font-size="8.3" text-anchor="middle" fill="#151515">0.5</text>
<line x1="445.8" y1="396.6" x2="445.8" y2="399.8" stroke="#3a2c2c" stroke-width="0.8"/>
<text x="445.8" y="408.8" font-size="8.3" text-anchor="middle" fill="#151515">1.0</text>
<line x1="463.8" y1="396.6" x2="463.8" y2="399.8" stroke="#3a2c2c" stroke-width="0.8"/>
<text x="463.8" y="408.8" font-size="8.3" text-anchor="middle" fill="#151515">1.5</text>
<line x1="481.8" y1="396.6" x2="481.8" y2="399.8" stroke="#3a2c2c" stroke-width="0.8"/>
<text x="481.8" y="408.8" font-size="8.3" text-anchor="middle" fill="#151515">2.0</text>
<line x1="499.6" y1="396.6" x2="499.6" y2="399.8" stroke="#3a2c2c" stroke-width="0.8"/>
<text x="499.6" y="408.8" font-size="8.3" text-anchor="middle" fill="#151515">2.5</text>
<line x1="401.8" y1="290.6" x2="405" y2="290.6" stroke="#3a2c2c" stroke-width="0.8"/>
<text x="400.4" y="293.8" font-size="8.3" text-anchor="end" fill="#151515">0</text>
<line x1="401.8" y1="315.9" x2="405" y2="315.9" stroke="#3a2c2c" stroke-width="0.8"/>
<text x="400.4" y="319.1" font-size="8.3" text-anchor="end" fill="#151515">−1</text>
<line x1="401.8" y1="341.2" x2="405" y2="341.2" stroke="#3a2c2c" stroke-width="0.8"/>
<text x="400.4" y="344.4" font-size="8.3" text-anchor="end" fill="#151515">−2</text>
<line x1="401.8" y1="366.6" x2="405" y2="366.6" stroke="#3a2c2c" stroke-width="0.8"/>
<text x="400.4" y="369.8" font-size="8.3" text-anchor="end" fill="#151515">−3</text>
<line x1="401.8" y1="391.9" x2="405" y2="391.9" stroke="#3a2c2c" stroke-width="0.8"/>
<text x="400.4" y="395.1" font-size="8.3" text-anchor="end" fill="#151515">−4</text>
<text x="457.8" y="418.3" font-size="9.35" text-anchor="middle" fill="#111">RNA abundance (log10)</text>
<text x="385.2" y="341.6" font-size="9.6" text-anchor="middle" fill="#111" transform="rotate(-90 385.2 341.6)">Decay rate (log10)</text>
<text x="412.4" y="296.4" font-size="8.0" fill="#151515">r = -0.28</text>
<text x="412.4" y="305.8" font-size="8" fill="#151515"><tspan font-style="italic">p</tspan> &lt; 2.2e-16</text>
<text x="144.4" y="427.6" font-size="9.3" font-weight="bold" fill="#000">g</text>
<g filter="url(#blur)" clip-path="url(#clipg)">
<path d="M193.16 470.71C193.53 468.46 194.47 467.68 195.41 466.58C196.35 465.48 196.35 464.7 198.8 464.14C201.24 463.57 206 462.88 210.08 463.2C214.15 463.51 219.16 464.76 223.23 466.02C227.31 467.27 231.07 468.36 234.51 470.71C237.96 473.06 241.09 476.98 243.91 480.11C246.73 483.25 249.61 486.69 251.43 489.51C253.25 492.33 254.66 494.68 254.81 497.03C254.97 499.38 254.19 501.89 252.37 503.61C250.55 505.33 246.89 506.27 243.91 507.37C240.93 508.46 237.64 509.25 234.51 510.19C231.38 511.13 228.56 512.22 225.11 513.01C221.67 513.79 217.28 515.36 213.83 514.89C210.39 514.42 207.1 512.22 204.44 510.19C201.77 508.15 199.42 505.8 197.86 502.67C196.29 499.54 195.82 495.15 195.04 491.39C194.25 487.63 193.47 483.56 193.16 480.11C192.84 476.67 192.78 472.97 193.16 470.71Z" fill="#f4edeb"/>
<path d="M193.91 471.65C194.66 469.05 196.1 466.61 198.8 465.45C201.49 464.29 206.16 464.29 210.08 464.7C213.99 465.11 218.69 466.74 222.29 467.89C225.9 469.05 228.72 469.62 231.69 471.65C234.67 473.69 237.96 477.45 240.15 480.11C242.34 482.78 243.75 485.28 244.85 487.63C245.95 489.98 247.04 492.17 246.73 494.21C246.42 496.25 244.69 498.28 242.97 499.85C241.25 501.42 239.05 502.36 236.39 503.61C233.73 504.86 230.13 506.43 226.99 507.37C223.86 508.31 220.73 509.25 217.59 509.25C214.46 509.25 211.02 508.78 208.2 507.37C205.38 505.96 202.62 503.45 200.68 500.79C198.73 498.13 197.61 494.68 196.54 491.39C195.48 488.1 194.72 484.34 194.29 481.05C193.85 477.76 193.16 474.25 193.91 471.65Z" fill="#ede1de"/>
<path d="M194.66 472.59C195.29 470.4 196.54 468.05 198.8 466.95C201.05 465.86 204.59 465.7 208.2 466.02C211.8 466.33 217.12 467.58 220.41 468.83C223.7 470.09 225.58 471.5 227.93 473.53C230.28 475.57 232.79 478.55 234.51 481.05C236.23 483.56 237.96 486.22 238.27 488.57C238.58 490.92 237.64 493.43 236.39 495.15C235.14 496.87 233.1 498.13 230.75 498.91C228.4 499.69 225.11 500.01 222.29 499.85C219.47 499.69 216.5 498.28 213.83 497.97C211.17 497.66 208.51 498.6 206.32 497.97C204.12 497.34 202.18 495.93 200.68 494.21C199.17 492.49 198.23 489.98 197.29 487.63C196.35 485.28 195.48 482.62 195.04 480.11C194.6 477.61 194.04 474.79 194.66 472.59Z" fill="#e4d2ce"/>
<path d="M195.41 473.53C195.88 471.59 196.82 469.49 198.8 468.46C200.77 467.42 204.28 467.11 207.26 467.33C210.23 467.55 213.83 468.43 216.65 469.77C219.47 471.12 222.07 473.38 224.17 475.41C226.27 477.45 228.15 479.8 229.25 481.99C230.34 484.19 231.13 486.85 230.75 488.57C230.38 490.29 228.72 491.86 226.99 492.33C225.27 492.8 222.76 491.23 220.41 491.39C218.06 491.55 215.24 492.64 212.89 493.27C210.55 493.9 208.29 495.46 206.32 495.15C204.34 494.84 202.46 492.96 201.05 491.39C199.64 489.82 198.7 487.63 197.86 485.75C197.01 483.87 196.38 482.15 195.98 480.11C195.57 478.08 194.94 475.48 195.41 473.53Z" fill="#d9c0bb"/>
<path d="M195.98 474.47C196.35 472.75 197.45 470.71 199.17 469.77C200.9 468.83 203.87 468.52 206.32 468.83C208.76 469.15 211.8 470.24 213.83 471.65C215.87 473.06 217.59 475.26 218.53 477.29C219.47 479.33 219.79 481.84 219.47 483.87C219.16 485.91 218.22 488.26 216.65 489.51C215.09 490.76 212.27 491.39 210.08 491.39C207.88 491.39 205.38 490.61 203.5 489.51C201.62 488.41 199.89 486.38 198.8 484.81C197.7 483.25 197.39 481.84 196.92 480.11C196.45 478.39 195.6 476.2 195.98 474.47Z" fill="#cdaba4"/>
<path d="M196.92 475.41C197.32 474.16 198.33 472.44 199.74 471.65C201.15 470.87 203.5 470.4 205.38 470.71C207.26 471.03 209.61 472.12 211.02 473.53C212.42 474.94 213.52 477.29 213.83 479.17C214.15 481.05 213.83 483.4 212.89 484.81C211.95 486.22 209.92 487.32 208.2 487.63C206.47 487.94 204.12 487.47 202.56 486.69C200.99 485.91 199.67 484.19 198.8 482.93C197.92 481.68 197.61 480.43 197.29 479.17C196.98 477.92 196.51 476.67 196.92 475.41Z" fill="#bf958c"/>
<path d="M198.23 476.73C198.58 475.63 199.58 474.13 200.68 473.53C201.77 472.94 203.5 472.75 204.81 473.16C206.13 473.57 207.76 474.82 208.57 475.98C209.39 477.14 209.82 478.8 209.7 480.11C209.57 481.43 208.76 483.09 207.82 483.87C206.88 484.66 205.31 484.97 204.06 484.81C202.81 484.66 201.21 483.72 200.3 482.93C199.39 482.15 198.95 481.15 198.61 480.11C198.26 479.08 197.89 477.83 198.23 476.73Z" fill="#b07f75"/>
<path d="M199.55 478.23C199.67 477.23 200.61 476.35 201.43 475.98C202.24 475.6 203.62 475.54 204.44 475.98C205.25 476.42 206.07 477.61 206.32 478.61C206.57 479.61 206.44 481.24 205.94 481.99C205.44 482.74 204.19 483.12 203.31 483.12C202.43 483.12 201.3 482.81 200.68 481.99C200.05 481.18 199.42 479.24 199.55 478.23Z" fill="#9a6459"/>
<path d="M200.68 479.55C200.77 478.92 201.24 477.76 201.8 477.48C202.37 477.2 203.56 477.42 204.06 477.86C204.56 478.3 204.94 479.45 204.81 480.11C204.69 480.77 203.9 481.62 203.31 481.8C202.71 481.99 201.68 481.62 201.24 481.24C200.8 480.86 200.58 480.18 200.68 479.55Z" fill="#874a40"/>
</g>
<rect x="189.8" y="441.6" width="78.9" height="88.3" fill="none" stroke="#3a2c2c" stroke-width="1.0"/>
<text x="189.7" y="436.2" font-size="7.6" fill="#151515">Intronless genes</text>
<line x1="193.5" y1="529.9" x2="193.5" y2="533.1" stroke="#3a2c2c" stroke-width="0.8"/>
<text x="193.5" y="542.7" font-size="8.3" text-anchor="middle" fill="#151515">0.0</text>
<line x1="211.4" y1="529.9" x2="211.4" y2="533.1" stroke="#3a2c2c" stroke-width="0.8"/>
<text x="211.4" y="542.7" font-size="8.3" text-anchor="middle" fill="#151515">0.5</text>
<line x1="229.4" y1="529.9" x2="229.4" y2="533.1" stroke="#3a2c2c" stroke-width="0.8"/>
<text x="229.4" y="542.7" font-size="8.3" text-anchor="middle" fill="#151515">1.0</text>
<line x1="247.3" y1="529.9" x2="247.3" y2="533.1" stroke="#3a2c2c" stroke-width="0.8"/>
<text x="247.3" y="542.7" font-size="8.3" text-anchor="middle" fill="#151515">1.5</text>
<line x1="265.3" y1="529.9" x2="265.3" y2="533.1" stroke="#3a2c2c" stroke-width="0.8"/>
<text x="265.3" y="542.7" font-size="8.3" text-anchor="middle" fill="#151515">2.0</text>
<line x1="186.6" y1="445.3" x2="189.8" y2="445.3" stroke="#3a2c2c" stroke-width="0.8"/>
<text x="179.6" y="448.5" font-size="8.3" text-anchor="middle" fill="#151515">0</text>
<line x1="186.6" y1="468.8" x2="189.8" y2="468.8" stroke="#3a2c2c" stroke-width="0.8"/>
<text x="179.6" y="472" font-size="8.3" text-anchor="middle" fill="#151515">−1</text>
<line x1="186.6" y1="492" x2="189.8" y2="492" stroke="#3a2c2c" stroke-width="0.8"/>
<text x="179.6" y="495.2" font-size="8.3" text-anchor="middle" fill="#151515">−2</text>
<line x1="186.6" y1="515.3" x2="189.8" y2="515.3" stroke="#3a2c2c" stroke-width="0.8"/>
<text x="179.6" y="518.5" font-size="8.3" text-anchor="middle" fill="#151515">−3</text>
<text x="229.9" y="551.8" font-size="8.2" text-anchor="middle" fill="#111">RNA abundance(log10)</text>
<text x="167.4" y="486.0" font-size="9.35" text-anchor="middle" fill="#111" transform="rotate(-90 167.4 486.0)">Decay rate (log10)</text>
<text x="195" y="451" font-size="7.8" fill="#151515">r = -0.304</text>
<text x="195" y="461.9" font-size="7.8" fill="#151515"><tspan font-style="italic">p</tspan>&lt; 2.2e-16</text>
<text x="144.6" y="563.6" font-size="9.3" font-weight="bold" fill="#000">h</text>
<g filter="url(#blur)" clip-path="url(#cliph)">
<path d="M195.98 598.83C196.92 596.02 198.01 594.29 200.68 593.2C203.34 592.1 208.2 591.94 211.95 592.26C215.71 592.57 220.1 593.35 223.23 595.08C226.37 596.8 228.25 601.18 230.75 602.59C233.26 604 235.76 602.59 238.27 603.53C240.78 604.47 243.75 606.2 245.79 608.23C247.83 610.27 249.39 612.93 250.49 615.75C251.59 618.57 252.53 622.02 252.37 625.15C252.21 628.28 250.65 632.04 249.55 634.55C248.45 637.06 246.26 637.99 245.79 640.19C245.32 642.38 247.36 645.67 246.73 647.71C246.1 649.74 244.38 651.47 242.03 652.41C239.68 653.35 235.76 653.66 232.63 653.35C229.5 653.03 226.37 650.84 223.23 650.53C220.1 650.21 216.65 651.94 213.83 651.47C211.02 651 208.04 649.59 206.32 647.71C204.59 645.83 204.44 642.69 203.5 640.19C202.56 637.68 201.77 635.8 200.68 632.67C199.58 629.54 197.86 625.15 196.92 621.39C195.98 617.63 195.19 613.87 195.04 610.11C194.88 606.35 195.04 601.65 195.98 598.83Z" fill="#f6f2e6"/>
<path d="M196.92 600.71C197.76 598.36 199.11 596.08 201.62 595.08C204.12 594.07 208.51 594.32 211.95 594.7C215.4 595.08 219.41 595.76 222.29 597.33C225.18 598.9 226.74 602.75 229.25 604.1C231.75 605.44 234.89 604.41 237.33 605.41C239.77 606.42 242.19 608.08 243.91 610.11C245.63 612.15 246.89 615.13 247.67 617.63C248.45 620.14 248.92 622.8 248.61 625.15C248.3 627.5 247.2 630.01 245.79 631.73C244.38 633.45 242.34 634.55 240.15 635.49C237.96 636.43 235.14 637.53 232.63 637.37C230.13 637.21 227.62 635.65 225.11 634.55C222.61 633.45 220.1 631.73 217.59 630.79C215.09 629.85 212.42 629.85 210.08 628.91C207.73 627.97 205.38 627.03 203.5 625.15C201.62 623.27 199.96 620.29 198.8 617.63C197.64 614.97 196.85 611.99 196.54 609.17C196.23 606.35 196.07 603.06 196.92 600.71Z" fill="#f8edd8"/>
<path d="M197.86 602.59C198.48 600.09 200.21 598.77 202.56 597.89C204.91 597.02 208.82 596.92 211.95 597.33C215.09 597.74 218.69 598.83 221.35 600.34C224.02 601.84 225.74 604.85 227.93 606.35C230.13 607.86 232.63 607.95 234.51 609.36C236.39 610.77 238.21 612.87 239.21 614.81C240.21 616.75 240.75 619.1 240.53 621.02C240.31 622.93 239.21 624.96 237.89 626.28C236.58 627.59 234.45 628.6 232.63 628.91C230.81 629.22 228.72 628.85 226.99 628.16C225.27 627.47 224.17 625.59 222.29 624.77C220.41 623.96 218.06 623.68 215.71 623.27C213.36 622.86 210.39 622.96 208.2 622.33C206 621.7 204.12 621.08 202.56 619.51C200.99 617.94 199.58 615.75 198.8 612.93C198.01 610.11 197.23 605.1 197.86 602.59Z" fill="#f7e2bb"/>
<path d="M198.8 604.47C199.42 602.75 201.3 601.34 203.5 600.71C205.69 600.09 209.14 600.24 211.95 600.71C214.77 601.18 217.91 602.12 220.41 603.53C222.92 604.94 224.96 607.61 226.99 609.17C229.03 610.74 231.22 611.37 232.63 612.93C234.04 614.5 235.45 616.85 235.45 618.57C235.45 620.29 234.04 622.33 232.63 623.27C231.22 624.21 228.72 624.52 226.99 624.21C225.27 623.9 224.17 622.02 222.29 621.39C220.41 620.76 218.06 620.76 215.71 620.45C213.36 620.14 210.33 620.14 208.2 619.51C206.07 618.88 204.34 618.1 202.93 616.69C201.52 615.28 200.43 613.09 199.74 611.05C199.05 609.02 198.17 606.2 198.8 604.47Z" fill="#f3d097"/>
<path d="M200.68 606.35C201.3 605.1 203.34 604 205.38 603.53C207.41 603.06 210.39 603.06 212.89 603.53C215.4 604 218.22 605.1 220.41 606.35C222.61 607.61 224.49 609.49 226.05 611.05C227.62 612.62 229.34 614.19 229.81 615.75C230.28 617.32 229.81 619.67 228.87 620.45C227.93 621.23 225.9 620.76 224.17 620.45C222.45 620.14 220.73 618.98 218.53 618.57C216.34 618.16 213.21 618.48 211.02 618.01C208.82 617.54 206.94 616.91 205.38 615.75C203.81 614.59 202.4 612.62 201.62 611.05C200.83 609.49 200.05 607.61 200.68 606.35Z" fill="#efc07a"/>
<path d="M203.5 608.23C203.97 606.98 206.32 606.35 208.2 605.98C210.08 605.6 212.74 605.54 214.77 605.98C216.81 606.42 218.85 607.45 220.41 608.61C221.98 609.77 223.86 611.59 224.17 612.93C224.49 614.28 223.55 615.97 222.29 616.69C221.04 617.41 218.69 617.35 216.65 617.26C214.62 617.16 211.95 616.75 210.08 616.13C208.2 615.5 206.47 614.81 205.38 613.5C204.28 612.18 203.03 609.49 203.5 608.23Z" fill="#ebb262"/>
<path d="M210.08 610.11C210.45 609.05 212.58 608.01 213.83 607.86C215.09 607.7 216.81 608.33 217.59 609.17C218.38 610.02 218.85 611.9 218.53 612.93C218.22 613.97 216.87 615.16 215.71 615.38C214.56 615.6 212.52 615.13 211.58 614.25C210.64 613.37 209.7 611.18 210.08 610.11Z" fill="#e5a447"/>
</g>
<ellipse cx="231.8" cy="649.2" rx="2.2" ry="1.1" fill="#f9e4cc" filter="url(#blur)"/>
<rect x="191.5" y="572" width="77.3" height="87.5" fill="none" stroke="#3a2c2c" stroke-width="1.0"/>
<text x="192.8" y="566.7" font-size="7.7" fill="#151515">miRNA targets</text>
<line x1="196" y1="659.5" x2="196" y2="662.7" stroke="#3a2c2c" stroke-width="0.8"/>
<text x="196" y="670.9" font-size="8.3" text-anchor="middle" fill="#151515">0.0</text>
<line x1="209.9" y1="659.5" x2="209.9" y2="662.7" stroke="#3a2c2c" stroke-width="0.8"/>
<text x="209.9" y="670.9" font-size="8.3" text-anchor="middle" fill="#151515">0.5</text>
<line x1="224" y1="659.5" x2="224" y2="662.7" stroke="#3a2c2c" stroke-width="0.8"/>
<text x="224" y="670.9" font-size="8.3" text-anchor="middle" fill="#151515">1.0</text>
<line x1="238" y1="659.5" x2="238" y2="662.7" stroke="#3a2c2c" stroke-width="0.8"/>
<text x="238" y="670.9" font-size="8.3" text-anchor="middle" fill="#151515">1.5</text>
<line x1="252" y1="659.5" x2="252" y2="662.7" stroke="#3a2c2c" stroke-width="0.8"/>
<text x="252" y="670.9" font-size="8.3" text-anchor="middle" fill="#151515">2.0</text>
<line x1="266" y1="659.5" x2="266" y2="662.7" stroke="#3a2c2c" stroke-width="0.8"/>
<text x="266" y="670.9" font-size="8.3" text-anchor="middle" fill="#151515">2.5</text>
<line x1="188.3" y1="575.9" x2="191.5" y2="575.9" stroke="#3a2c2c" stroke-width="0.8"/>
<text x="180" y="579.1" font-size="8.3" text-anchor="middle" fill="#151515">0</text>
<line x1="188.3" y1="598.8" x2="191.5" y2="598.8" stroke="#3a2c2c" stroke-width="0.8"/>
<text x="180" y="602" font-size="8.3" text-anchor="middle" fill="#151515">−1</text>
<line x1="188.3" y1="621.4" x2="191.5" y2="621.4" stroke="#3a2c2c" stroke-width="0.8"/>
<text x="180" y="624.6" font-size="8.3" text-anchor="middle" fill="#151515">−2</text>
<line x1="188.3" y1="644.3" x2="191.5" y2="644.3" stroke="#3a2c2c" stroke-width="0.8"/>
<text x="180" y="647.5" font-size="8.3" text-anchor="middle" fill="#151515">−3</text>
<text x="232" y="679" font-size="8.2" text-anchor="middle" fill="#111">RNA abundance(log10)</text>
<text x="167.3" y="617.6" font-size="9.35" text-anchor="middle" fill="#111" transform="rotate(-90 167.3 617.6)">Decay rate (log10)</text>
<text x="197.9" y="580.4" font-size="7.8" fill="#151515">r = -0.299</text>
<text x="197.9" y="591" font-size="7.8" fill="#151515"><tspan font-style="italic">p</tspan>&lt; 2.2e-16</text>
<text x="312.6" y="427.2" font-size="9.3" font-weight="bold" fill="#000">i</text>
<line x1="473.2" y1="444" x2="473.2" y2="654.6" stroke="#a2a2a2" stroke-width="1.0" stroke-dasharray="3.9 5.15"/>
<circle cx="430" cy="629" r="3.5" fill="#939393" fill-opacity="0.74"/>
<circle cx="437.3" cy="630.3" r="3.5" fill="#939393" fill-opacity="0.74"/>
<circle cx="447" cy="630.7" r="3.5" fill="#939393" fill-opacity="0.74"/>
<circle cx="427.8" cy="636.4" r="3.5" fill="#939393" fill-opacity="0.74"/>
<circle cx="436.4" cy="636" r="3.5" fill="#939393" fill-opacity="0.74"/>
<circle cx="443.6" cy="634.1" r="3.5" fill="#939393" fill-opacity="0.74"/>
<circle cx="451.5" cy="633.7" r="3.5" fill="#939393" fill-opacity="0.74"/>
<circle cx="440.2" cy="639.7" r="3.5" fill="#939393" fill-opacity="0.74"/>
<circle cx="452.6" cy="636.4" r="3.5" fill="#939393" fill-opacity="0.74"/>
<circle cx="460.5" cy="636.4" r="3.5" fill="#939393" fill-opacity="0.74"/>
<circle cx="451.5" cy="638.6" r="3.5" fill="#939393" fill-opacity="0.74"/>
<circle cx="458.2" cy="640.9" r="3.5" fill="#939393" fill-opacity="0.74"/>
<circle cx="465" cy="638.6" r="3.5" fill="#939393" fill-opacity="0.74"/>
<circle cx="465.5" cy="643.1" r="3.5" fill="#939393" fill-opacity="0.74"/>
<circle cx="470.6" cy="644.3" r="3.5" fill="#939393" fill-opacity="0.74"/>
<circle cx="474" cy="644.3" r="3.5" fill="#939393" fill-opacity="0.74"/>
<circle cx="476.3" cy="643.1" r="3.5" fill="#939393" fill-opacity="0.74"/>
<circle cx="481.9" cy="642.5" r="3.5" fill="#939393" fill-opacity="0.74"/>
<circle cx="488.2" cy="638.2" r="3.5" fill="#939393" fill-opacity="0.74"/>
<circle cx="496.6" cy="637" r="3.5" fill="#939393" fill-opacity="0.74"/>
<circle cx="502.7" cy="640.9" r="3.5" fill="#939393" fill-opacity="0.74"/>
<circle cx="422.8" cy="628" r="3.5" fill="#939393" fill-opacity="0.74"/>
<circle cx="399.2" cy="628" r="3.5" fill="#939393" fill-opacity="0.74"/>
<circle cx="407.8" cy="640.4" r="3.5" fill="#939393" fill-opacity="0.74"/>
<circle cx="440.7" cy="453.6" r="3.4" fill="#2196f3" fill-opacity="0.85"/>
<circle cx="425.4" cy="493" r="3.4" fill="#2196f3" fill-opacity="0.85"/>
<circle cx="427.9" cy="491.4" r="3.4" fill="#2196f3" fill-opacity="0.85"/>
<circle cx="427" cy="496.2" r="3.4" fill="#2196f3" fill-opacity="0.85"/>
<circle cx="443.3" cy="495.3" r="3.4" fill="#2196f3" fill-opacity="0.85"/>
<circle cx="428.6" cy="519.5" r="3.4" fill="#2196f3" fill-opacity="0.85"/>
<circle cx="447.6" cy="555.8" r="3.4" fill="#2196f3" fill-opacity="0.85"/>
<circle cx="417.6" cy="564.6" r="3.4" fill="#2196f3" fill-opacity="0.85"/>
<circle cx="424.4" cy="577.8" r="3.4" fill="#2196f3" fill-opacity="0.85"/>
<circle cx="438.6" cy="579.3" r="3.4" fill="#2196f3" fill-opacity="0.85"/>
<circle cx="413.4" cy="590.4" r="3.4" fill="#2196f3" fill-opacity="0.85"/>
<circle cx="411.6" cy="592.8" r="3.4" fill="#2196f3" fill-opacity="0.85"/>
<circle cx="446.3" cy="589" r="3.4" fill="#2196f3" fill-opacity="0.85"/>
<circle cx="444" cy="601.5" r="3.4" fill="#2196f3" fill-opacity="0.85"/>
<circle cx="440.2" cy="610.2" r="3.4" fill="#2196f3" fill-opacity="0.85"/>
<circle cx="436" cy="612" r="3.4" fill="#2196f3" fill-opacity="0.85"/>
<circle cx="414.5" cy="616.4" r="3.4" fill="#2196f3" fill-opacity="0.85"/>
<circle cx="420" cy="618.2" r="3.4" fill="#2196f3" fill-opacity="0.85"/>
<circle cx="456" cy="617.6" r="3.4" fill="#2196f3" fill-opacity="0.85"/>
<circle cx="433.2" cy="621.2" r="3.4" fill="#2196f3" fill-opacity="0.85"/>
<circle cx="445.8" cy="624.8" r="3.4" fill="#2196f3" fill-opacity="0.85"/>
<circle cx="418.6" cy="625.6" r="3.4" fill="#2196f3" fill-opacity="0.85"/>
<circle cx="429.6" cy="625" r="3.4" fill="#2196f3" fill-opacity="0.85"/>
<circle cx="385.6" cy="519" r="3.4" fill="#e8343a" fill-opacity="0.85"/>
<circle cx="358.8" cy="594.3" r="3.4" fill="#e8343a" fill-opacity="0.85"/>
<circle cx="367.3" cy="597.1" r="3.4" fill="#e8343a" fill-opacity="0.85"/>
<circle cx="369" cy="598.6" r="3.4" fill="#e8343a" fill-opacity="0.85"/>
<circle cx="398.8" cy="593.1" r="3.4" fill="#e8343a" fill-opacity="0.85"/>
<circle cx="410" cy="601.3" r="3.4" fill="#e8343a" fill-opacity="0.85"/>
<circle cx="393.1" cy="614.8" r="3.4" fill="#e8343a" fill-opacity="0.85"/>
<circle cx="397.6" cy="615.3" r="3.4" fill="#e8343a" fill-opacity="0.85"/>
<circle cx="400.2" cy="614.2" r="3.4" fill="#e8343a" fill-opacity="0.85"/>
<line x1="341.2" y1="627.8" x2="531.2" y2="627.8" stroke="#e8453a" stroke-width="1.3" stroke-dasharray="5.6 3.5"/>
<rect x="341.2" y="440.8" width="190" height="213.8" fill="none" stroke="#111" stroke-width="0.9"/>
<line x1="338.2" y1="645" x2="341.2" y2="645" stroke="#222" stroke-width="0.8"/>
<text x="334.2" y="647.8" font-size="8.0" text-anchor="end" fill="#222">0</text>
<line x1="338.2" y1="580.3" x2="341.2" y2="580.3" stroke="#222" stroke-width="0.8"/>
<text x="334.2" y="583.1" font-size="8.0" text-anchor="end" fill="#222">5</text>
<line x1="338.2" y1="515.6" x2="341.2" y2="515.6" stroke="#222" stroke-width="0.8"/>
<text x="334.2" y="518.4" font-size="8.0" text-anchor="end" fill="#222">10</text>
<line x1="338.2" y1="450.9" x2="341.2" y2="450.9" stroke="#222" stroke-width="0.8"/>
<text x="334.2" y="453.7" font-size="8.0" text-anchor="end" fill="#222">15</text>
<line x1="348.8" y1="654.6" x2="348.8" y2="657.6" stroke="#222" stroke-width="0.8"/>
<text x="348.8" y="666" font-size="8.0" text-anchor="middle" fill="#222">−1</text>
<line x1="373.62" y1="654.6" x2="373.62" y2="657.6" stroke="#222" stroke-width="0.8"/>
<text x="373.62" y="666" font-size="8.0" text-anchor="middle" fill="#222">−0.8</text>
<line x1="398.44" y1="654.6" x2="398.44" y2="657.6" stroke="#222" stroke-width="0.8"/>
<text x="398.44" y="666" font-size="8.0" text-anchor="middle" fill="#222">−0.6</text>
<line x1="423.26" y1="654.6" x2="423.26" y2="657.6" stroke="#222" stroke-width="0.8"/>
<text x="423.26" y="666" font-size="8.0" text-anchor="middle" fill="#222">−0.4</text>
<line x1="448.08" y1="654.6" x2="448.08" y2="657.6" stroke="#222" stroke-width="0.8"/>
<text x="448.08" y="666" font-size="8.0" text-anchor="middle" fill="#222">−0.2</text>
<line x1="472.9" y1="654.6" x2="472.9" y2="657.6" stroke="#222" stroke-width="0.8"/>
<text x="472.9" y="666" font-size="8.0" text-anchor="middle" fill="#222">0</text>
<line x1="497.72" y1="654.6" x2="497.72" y2="657.6" stroke="#222" stroke-width="0.8"/>
<text x="497.72" y="666" font-size="8.0" text-anchor="middle" fill="#222">0.2</text>
<line x1="522.54" y1="654.6" x2="522.54" y2="657.6" stroke="#222" stroke-width="0.8"/>
<text x="522.54" y="666" font-size="8.0" text-anchor="middle" fill="#222">0.4</text>
<text x="435.6" y="678" font-size="7.9" text-anchor="middle" fill="#151515">Correlation</text>
<text x="320.4" y="543.8" font-size="10.2" text-anchor="middle" fill="#111" transform="rotate(-90 320.4 543.8)">−log10(<tspan font-style="italic">p</tspan>−value)</text>
<text x="306.2" y="629.7" font-size="8.2" fill="#e63b2e"><tspan font-style="italic">p</tspan> = 0.05</text>
<rect x="341.2" y="440.8" width="61.4" height="44.5" fill="#fff" stroke="#111" stroke-width="0.9"/>
<circle cx="348" cy="448.5" r="2.6" fill="#e8343a" fill-opacity="0.9"/>
<circle cx="348" cy="466.6" r="2.6" fill="#2196f3" fill-opacity="0.85"/>
<circle cx="348" cy="477.9" r="2.6" fill="#b5b5b5" fill-opacity="0.85"/>
<text x="354.8" y="450.9" font-size="7" fill="#151515">significant</text>
<text x="357.7" y="459" font-size="7" fill="#151515">(r &lt; -0.5)</text>
<text x="354.8" y="469" font-size="7" fill="#151515">significant</text>
<text x="354.8" y="480.3" font-size="7" fill="#151515">insignificant</text>
<text x="367.6" y="512.3" font-size="6.85" fill="#151515">NADP binding</text>
<text x="344.2" y="563.5" font-size="6.85" fill="#151515">ribosome binding</text>
<text x="362" y="572.5" font-size="6.85" fill="#151515">positive regulation of growth</text>
<text x="378" y="580.6" font-size="6.85" fill="#151515">voltage−gated anion channel activity</text>
<text x="391.3" y="587.9" font-size="6.85" fill="#151515">protein disulfide oxidoreductase activity</text>
<text x="416" y="603" font-size="6.85" fill="#151515">response to auxin</text>
<text x="405.5" y="624.6" font-size="6.85" fill="#151515">peroxisome</text>
<text x="380.7" y="636.4" font-size="6.85" fill="#151515">nucleolus</text>
<text x="344" y="644.8" font-size="6.85" fill="#151515">pentose−phosphate shunt</text>
<line x1="351.4" y1="565.3" x2="360" y2="589" stroke="#222" stroke-width="0.55"/>
<line x1="374" y1="574.3" x2="368.8" y2="591.2" stroke="#222" stroke-width="0.55"/>
<line x1="386.4" y1="582.9" x2="374.4" y2="596.4" stroke="#222" stroke-width="0.55"/>
<line x1="406.7" y1="587.9" x2="402.8" y2="591.2" stroke="#222" stroke-width="0.55"/>
<line x1="410" y1="620" x2="404.4" y2="615.6" stroke="#222" stroke-width="0.55"/>
<line x1="395" y1="630.3" x2="397" y2="620.6" stroke="#222" stroke-width="0.55"/>
<line x1="359.3" y1="638.6" x2="389.7" y2="618.3" stroke="#222" stroke-width="0.55"/>
</svg>
</body></html>
